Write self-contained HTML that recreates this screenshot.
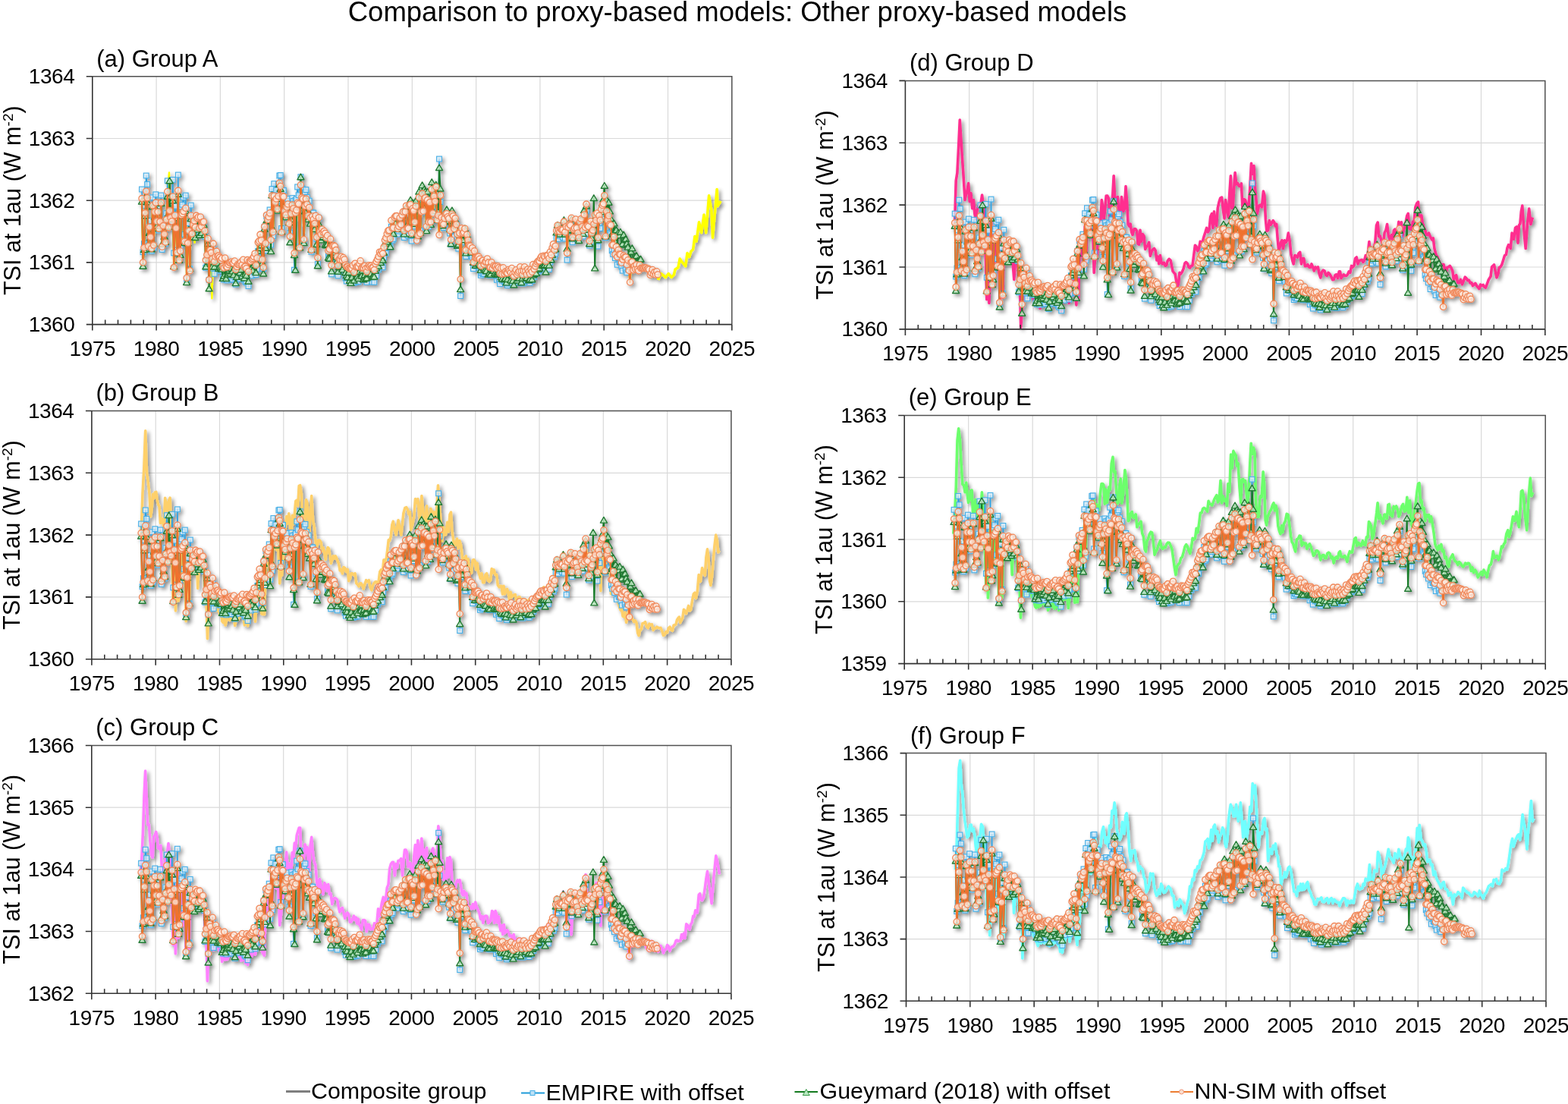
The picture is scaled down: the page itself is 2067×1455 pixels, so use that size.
<!DOCTYPE html>
<html><head><meta charset="utf-8"><title>Comparison to proxy-based models</title>
<style>
html,body{margin:0;padding:0;background:#fff;}
body{width:2067px;height:1455px;overflow:hidden;}
svg{display:block;}
text{font-family:'Liberation Sans', Arial, sans-serif;fill:#000;}
.tk{font-size:28px;letter-spacing:-0.45px;}
.pl{font-size:31px;}
.yl{font-size:30.6px;}
.lg{font-size:30.4px;}
.tt{font-size:36.5px;}
</style></head><body>
<svg width="2067" height="1455" viewBox="0 0 2067 1455">
<defs>
<filter id="sh" x="-5%" y="-5%" width="110%" height="110%"><feDropShadow dx="3" dy="3" stdDeviation="2.4" flood-color="#000" flood-opacity="0.45"/></filter>
<marker id="mS" markerUnits="userSpaceOnUse" markerWidth="10" markerHeight="10" refX="5" refY="5" overflow="visible"><rect x="1.6" y="1.6" width="6.8" height="6.8" fill="#d5ebf8" fill-opacity="0.75" stroke="#45aee6" stroke-width="1.1"/></marker>
<marker id="mT" markerUnits="userSpaceOnUse" markerWidth="10" markerHeight="10" refX="5" refY="5" overflow="visible"><path d="M5 0.9L9.5 8.6H0.5Z" fill="#c4eec8" fill-opacity="0.8" stroke="#247a34" stroke-width="1.4" stroke-linejoin="round"/></marker>
<marker id="mC" markerUnits="userSpaceOnUse" markerWidth="10" markerHeight="10" refX="5" refY="5" overflow="visible"><circle cx="5" cy="5" r="4.1" fill="#fcece3" fill-opacity="0.75" stroke="#f0885a" stroke-width="1.3"/></marker>
</defs>
<rect width="2067" height="1455" fill="#fff"/>
<text x="972" y="27.5" text-anchor="middle" class="tt">Comparison to proxy-based models: Other proxy-based models</text>
<path d="M206.1 100.8V427.6M290.4 100.8V427.6M374.7 100.8V427.6M459 100.8V427.6M543.3 100.8V427.6M627.6 100.8V427.6M711.9 100.8V427.6M796.2 100.8V427.6M880.5 100.8V427.6M121.8 345.9H964.8M121.8 264.2H964.8M121.8 182.5H964.8" stroke="#d9d9d9" stroke-width="1.2" fill="none"/>
<g filter="url(#sh)">
<polyline points="187.0,261.6 188.5,345.9 189.9,326.4 191.3,280.6 192.7,251.9 194.1,260.8 195.5,324.3 196.9,299.1 198.3,312.4 199.7,327.4 201.1,270.9 202.5,323.1 203.9,279.2 205.3,267.1 206.7,291.7 208.1,279.2 209.5,301.4 210.9,292.1 212.3,267.1 213.7,325.2 215.1,297.6 216.6,308.6 218.0,319.4 219.4,289.2 220.8,252.5 223.0,227.4 225.0,286.9 226.4,291.7 227.8,258.9 229.2,352.4 230.6,283.7 232.0,300.7 233.4,332.8 234.8,251.1 236.2,342.8 237.6,330.8 239.0,283.5 240.4,281.7 241.8,278.6 243.2,318.3 244.7,274.2 246.1,366.3 247.5,320.4 248.9,304.1 250.3,356.7 251.7,284.0 253.1,308.1 254.5,296.0 256.7,319.8 258.7,284.1 260.1,287.6 261.5,286.0 262.9,300.6 264.3,285.9 265.7,298.6 267.1,292.8 268.5,292.2 269.9,304.3 271.3,342.7 272.8,335.9 274.2,314.4 275.6,368.8 277.0,329.5 278.4,333.1 279.4,393.3 281.2,321.1 282.6,344.8 284.0,338.2 285.4,331.1 286.8,337.4 288.2,337.0 289.6,339.1 291.0,342.7 292.4,340.4 293.8,350.9 295.2,353.1 296.6,339.9 298.0,350.9 299.4,352.1 300.9,348.5 302.3,346.1 303.7,346.2 305.1,345.0 306.5,346.8 307.9,346.8 309.3,344.0 310.7,355.4 312.1,351.4 313.5,348.3 314.9,348.6 316.3,347.2 317.7,345.3 319.1,349.1 320.5,342.3 321.9,352.0 323.3,351.1 324.7,353.7 326.1,342.6 327.5,357.9 329.0,344.2 330.4,344.2 331.8,341.9 333.2,340.5 334.6,338.4 336.0,334.2 337.4,349.6 338.8,340.0 340.2,319.3 341.6,317.7 343.0,309.1 344.4,316.7 345.8,342.0 347.2,352.4 348.6,298.7 350.0,320.8 351.4,283.4 352.8,289.5 354.2,285.7 355.6,280.8 357.1,316.2 358.5,258.0 359.9,305.7 361.3,258.2 362.7,266.4 364.1,262.0 365.5,275.6 366.9,258.5 368.3,241.3 369.7,245.5 371.1,306.3 372.5,258.2 373.9,259.2 375.3,278.1 376.7,283.2 378.1,273.1 379.5,269.0 380.9,294.7 382.3,311.6 383.7,281.5 385.2,269.9 386.6,274.9 388.0,333.6 389.4,280.5 390.8,276.9 392.2,267.2 393.6,268.8 395.0,326.5 396.4,243.8 397.8,260.3 399.2,262.0 400.6,315.5 402.0,271.6 403.4,262.1 404.8,269.2 406.2,284.3 407.6,273.4 409.0,287.0 410.4,329.6 411.8,285.0 413.3,289.0 414.7,294.6 416.1,284.2 417.5,312.6 418.9,339.7 420.3,286.8 421.7,305.4 423.1,308.8 424.5,302.0 425.9,306.1 427.3,304.5 428.7,307.4 430.1,313.4 431.5,310.5 432.9,330.7 434.3,328.4 435.7,315.0 437.1,349.6 438.5,324.4 439.9,323.6 441.4,324.5 442.8,329.6 444.2,338.1 445.6,350.1 447.0,341.9 448.4,342.3 449.8,338.2 451.2,342.9 452.6,339.5 454.0,342.0 455.4,349.3 456.8,351.6 458.2,351.7 459.6,353.6 461.0,354.3 462.4,353.7 463.8,353.8 465.2,349.8 466.6,358.8 468.0,347.2 469.5,351.8 470.9,351.2 472.3,351.5 473.7,347.5 475.1,343.8 476.5,353.1 477.9,353.1 479.3,353.4 480.7,350.4 482.1,354.1 483.5,358.1 484.9,352.1 486.3,349.7 487.7,351.2 489.1,350.1 490.5,352.4 491.9,352.4 493.3,355.7 494.7,347.5 496.1,344.6 497.6,341.6 499.0,338.1 500.4,332.2 501.8,334.4 503.2,331.4 504.6,334.1 506.0,325.7 507.4,316.6 508.8,313.4 510.2,308.1 511.6,304.1 513.0,303.5 514.4,314.8 515.8,290.5 517.2,301.0 518.6,300.3 520.0,286.5 521.4,284.8 522.8,284.6 524.2,301.3 525.7,298.3 527.1,287.0 528.5,295.9 529.9,283.3 531.3,279.1 532.7,303.8 534.1,279.0 535.5,271.2 536.9,301.1 538.3,300.9 539.7,270.0 541.1,269.5 542.5,307.2 543.9,274.8 545.3,277.8 546.7,292.8 548.1,271.7 549.5,317.0 550.9,310.3 552.3,260.2 553.8,307.7 555.2,279.3 556.6,255.1 558.0,278.2 559.4,261.4 560.8,260.8 562.2,298.3 563.6,263.4 565.0,292.6 566.4,266.7 567.8,292.6 569.2,249.4 570.6,281.0 572.0,258.7 573.4,265.4 574.8,246.2 576.2,289.7 577.6,283.8 579.0,309.6 580.4,257.3 581.9,286.8 583.3,293.4 584.7,295.6 586.1,287.7 587.5,282.1 588.9,281.4 590.3,285.7 591.7,288.0 593.1,303.9 594.5,315.9 595.9,282.2 597.3,284.7 598.7,301.5 600.1,287.6 601.5,295.8 602.9,308.8 604.3,317.9 605.7,307.1 607.1,368.0 608.5,300.7 610.0,307.4 611.4,306.1 612.8,301.2 614.2,329.7 615.6,309.3 617.0,316.5 618.4,323.1 619.8,324.3 621.2,331.2 622.6,326.7 624.0,345.6 625.4,330.8 626.8,339.8 628.2,339.6 629.6,338.7 631.0,338.1 632.4,341.3 633.8,350.4 635.2,343.8 636.6,343.3 638.1,348.4 639.5,345.2 640.9,345.0 642.3,340.9 643.7,346.1 645.1,352.1 646.5,352.4 647.9,345.7 649.3,353.4 650.7,350.0 652.1,351.1 653.5,351.0 654.9,353.9 656.3,350.8 657.7,352.6 659.1,360.3 660.5,353.5 661.9,361.3 663.3,352.8 664.7,360.6 666.2,358.1 667.6,359.8 669.0,359.9 670.4,355.4 671.8,357.3 673.2,359.4 674.6,353.5 676.0,361.3 677.4,364.1 678.8,358.8 680.2,355.8 681.6,361.9 683.0,359.2 684.4,357.6 685.8,351.7 687.2,357.5 688.6,362.0 690.0,357.1 691.4,351.7 692.8,357.5 694.3,361.7 695.7,354.9 697.1,358.0 698.5,361.0 699.9,355.0 701.3,358.2 702.7,348.5 704.1,354.6 705.5,350.8 706.9,347.5 708.3,345.3 709.7,343.9 711.1,344.1 712.5,340.1 713.9,337.9 715.3,341.5 716.7,337.3 718.1,338.3 719.5,344.3 720.9,336.6 722.4,336.2 723.8,340.5 725.2,332.0 726.6,335.8 728.0,326.5 729.4,321.7 730.8,329.5 732.2,324.3 733.6,304.0 735.0,296.9 736.4,303.4 737.8,305.3 739.2,302.0 740.6,303.1 742.0,302.8 743.4,292.1 744.8,305.9 746.2,298.8 747.6,333.6 749.0,299.5 750.5,295.7 751.9,296.9 753.3,287.3 754.7,312.7 756.1,302.3 757.5,300.6 758.9,288.9 760.3,300.4 761.7,307.0 763.1,313.3 764.5,292.4 765.9,288.4 767.3,298.6 768.7,303.4 770.1,282.9 771.5,299.5 772.9,269.1 774.3,297.5 775.7,298.5 777.1,317.6 778.6,291.6 780.0,307.1 781.4,303.4 782.8,295.4 784.2,283.3 785.6,290.3 787.0,281.0 788.4,313.0 789.8,284.3 791.2,290.2 792.6,275.9 794.0,270.5 795.4,268.5 796.8,257.7 798.2,311.5 799.6,278.3 801.0,290.2 802.4,284.2 803.8,295.5 805.2,296.7 806.7,323.0 808.1,322.8 809.5,312.3 810.9,335.4 812.3,325.3 813.7,338.6 815.1,329.5 816.5,334.9 817.9,335.4 819.3,346.2 820.7,341.8 822.1,336.8 823.5,338.8 824.9,338.9 826.3,348.9 827.7,342.8 829.1,356.5 830.5,372.0 831.9,345.9 833.3,345.0 834.8,355.9 836.2,350.6 837.6,354.6 839.0,348.9 840.4,354.7 841.8,356.9 843.2,349.3 844.6,353.5 846.0,353.2 847.4,353.6 848.8,353.3 850.2,352.7 851.6,353.0 853.0,354.4 854.4,353.9 855.8,355.2 857.2,362.4 858.6,359.8 860.0,355.4 861.4,361.3 862.9,358.6 864.3,362.0 865.7,357.8 867.5,368.8" fill="none" stroke="#ffff00" stroke-width="2.4" stroke-linejoin="round"/>
<polyline points="867.5,368.8 871.4,360.6 877.5,365.5 881.3,360.6 885.1,365.5 888.4,362.2 890.1,354.9 894.0,352.4 896.2,341.0 899.4,345.9 903.8,350.8 906.0,333.6 908.8,338.5 911.0,331.2 913.7,328.7 915.9,311.6 918.1,318.1 921.5,292.8 924.7,306.7 928.0,283.0 930.7,306.7 934.6,257.7 937.8,276.5 939.5,313.2 942.9,274.0 945.1,249.5 946.1,271.6 950.0,265.0" fill="none" stroke="#ffff00" stroke-width="3.6" stroke-linejoin="round"/>
<polyline points="187.0,249.5 188.5,332.2 189.9,321.1 191.3,271.2 192.7,231.5 194.1,242.9 195.5,323.5 196.9,291.1 198.3,304.2 199.7,330.9 201.1,260.3 202.5,326.4 203.9,273.3 205.3,256.3 206.7,292.1 208.1,271.3 209.5,303.5 210.9,292.8 212.3,257.5 213.7,329.0 215.1,293.1 216.6,309.2 218.0,321.3 219.4,281.1 220.8,238.3 222.2,291.0 223.6,267.0 225.0,275.7 226.4,286.4 227.8,236.9 229.2,333.4 230.6,271.7 232.0,287.4 233.4,329.7 234.8,230.5 236.2,340.4 237.6,326.6 239.0,272.5 240.4,269.8 241.8,260.3 243.2,308.9 244.7,257.6 246.1,367.8 247.5,312.6 248.9,294.2 250.3,354.3 251.7,270.6 253.1,306.8 254.5,295.4 255.9,294.7 257.3,303.6 258.7,293.2 260.1,289.1 261.5,290.2 262.9,308.7 264.3,287.8 265.7,304.0 267.1,299.0 268.5,298.4 269.9,311.9 271.3,352.8 272.8,348.4 274.2,320.9 275.6,368.8 277.0,337.0 278.4,338.6 279.8,353.5 281.2,327.1 282.6,360.9 284.0,348.7 285.4,339.3 286.8,345.1 288.2,351.5 289.6,349.6 291.0,356.5 292.4,356.7 293.8,366.0 295.2,368.7 296.6,358.0 298.0,367.5 299.4,369.4 300.9,364.8 302.3,360.4 303.7,366.1 305.1,368.6 306.5,368.1 307.9,362.4 309.3,365.7 310.7,374.7 312.1,366.1 313.5,367.0 314.9,365.9 316.3,367.8 317.7,361.7 319.1,362.1 320.5,360.9 321.9,368.5 323.3,371.0 324.7,372.5 326.1,359.3 327.5,377.1 329.0,361.3 330.4,356.4 331.8,363.4 333.2,356.6 334.6,358.4 336.0,350.5 337.4,362.2 338.8,354.5 340.2,330.9 341.6,332.3 343.0,319.2 344.4,326.2 345.8,353.9 347.2,354.1 348.6,298.8 350.0,330.2 351.4,285.1 352.8,287.1 354.2,284.7 355.6,276.5 357.1,322.6 358.5,249.1 359.9,311.1 361.3,242.1 362.7,262.2 364.1,250.6 365.5,265.5 366.9,242.9 368.3,231.5 369.7,230.9 371.1,301.0 372.5,250.6 373.9,251.0 375.3,273.6 376.7,276.8 378.1,264.8 379.5,262.0 380.9,290.5 382.3,306.6 383.7,279.0 385.2,261.1 386.6,265.0 388.0,355.7 389.4,263.9 390.8,261.9 392.2,246.4 393.6,257.2 395.0,325.3 396.4,233.2 397.8,247.6 399.2,249.4 400.6,317.3 402.0,253.5 403.4,250.1 404.8,259.9 406.2,275.3 407.6,264.6 409.0,280.3 410.4,331.8 411.8,280.5 413.3,280.5 414.7,293.2 416.1,287.9 417.5,315.1 418.9,348.0 420.3,287.2 421.7,306.7 423.1,308.8 424.5,310.3 425.9,309.4 427.3,310.7 428.7,312.1 430.1,319.8 431.5,313.6 432.9,336.9 434.3,334.5 435.7,320.1 437.1,361.4 438.5,333.3 439.9,333.7 441.4,325.0 442.8,338.9 444.2,346.4 445.6,363.4 447.0,351.6 448.4,356.5 449.8,352.1 451.2,356.0 452.6,352.0 454.0,357.5 455.4,366.5 456.8,370.6 458.2,366.5 459.6,366.3 461.0,367.0 462.4,366.4 463.8,368.3 465.2,367.0 466.6,372.8 468.0,362.9 469.5,371.9 470.9,368.9 472.3,371.3 473.7,358.4 475.1,359.3 476.5,364.7 477.9,367.6 479.3,369.1 480.7,365.3 482.1,363.0 483.5,371.9 484.9,365.4 486.3,364.7 487.7,367.2 489.1,363.7 490.5,371.6 491.9,366.0 493.3,371.9 494.7,358.8 496.1,363.3 497.6,354.7 499.0,355.2 500.4,347.6 501.8,348.0 503.2,348.6 504.6,352.3 506.0,339.3 507.4,331.1 508.8,333.7 510.2,325.9 511.6,315.9 513.0,319.0 514.4,325.4 515.8,298.8 517.2,316.7 518.6,314.9 520.0,293.7 521.4,293.8 522.8,289.4 524.2,308.6 525.7,304.6 527.1,296.4 528.5,301.4 529.9,293.3 531.3,291.4 532.7,313.1 534.1,287.4 535.5,283.0 536.9,309.4 538.3,310.7 539.7,275.5 541.1,272.6 542.5,317.6 543.9,279.3 545.3,284.5 546.7,298.3 548.1,273.1 549.5,316.5 550.9,311.8 552.3,262.9 553.8,304.0 555.2,279.7 556.6,261.0 558.0,279.7 559.4,259.5 560.8,262.7 562.2,299.3 563.6,263.8 565.0,298.9 566.4,263.8 567.8,294.9 569.2,256.0 570.6,279.4 572.0,261.5 573.4,266.5 574.8,256.0 576.2,290.6 577.6,283.3 579.0,209.5 580.4,266.0 581.9,292.0 583.3,296.7 584.7,300.2 586.1,295.2 587.5,281.6 588.9,288.1 590.3,287.4 591.7,292.0 593.1,307.6 594.5,322.1 595.9,281.8 597.3,293.9 598.7,311.9 600.1,293.2 601.5,294.8 602.9,314.2 604.3,327.7 605.7,317.7 607.1,390.0 608.5,308.3 610.0,319.2 611.4,314.9 612.8,308.0 614.2,338.0 615.6,314.6 617.0,328.2 618.4,332.8 619.8,334.5 621.2,337.2 622.6,339.3 624.0,354.2 625.4,338.6 626.8,348.3 628.2,350.7 629.6,350.5 631.0,347.5 632.4,352.8 633.8,362.7 635.2,359.9 636.6,360.9 638.1,360.7 639.5,357.8 640.9,354.8 642.3,349.1 643.7,356.9 645.1,362.5 646.5,362.9 647.9,352.3 649.3,363.0 650.7,360.7 652.1,362.7 653.5,360.4 654.9,368.8 656.3,363.9 657.7,367.2 659.1,374.2 660.5,360.3 661.9,369.5 663.3,360.5 664.7,371.2 666.2,371.6 667.6,372.9 669.0,376.1 670.4,373.7 671.8,368.0 673.2,372.9 674.6,366.4 676.0,368.9 677.4,373.5 678.8,368.9 680.2,370.7 681.6,372.2 683.0,373.1 684.4,371.7 685.8,367.0 687.2,370.0 688.6,367.5 690.0,373.6 691.4,364.3 692.8,370.4 694.3,370.2 695.7,367.6 697.1,368.6 698.5,372.8 699.9,369.9 701.3,369.9 702.7,362.3 704.1,364.9 705.5,358.9 706.9,360.8 708.3,356.1 709.7,357.8 711.1,356.2 712.5,351.9 713.9,346.3 715.3,349.0 716.7,348.4 718.1,351.0 719.5,355.0 720.9,344.6 722.4,342.6 723.8,355.0 725.2,345.6 726.6,342.4 728.0,335.3 729.4,326.5 730.8,338.5 732.2,334.5 733.6,314.5 735.0,303.7 736.4,315.1 737.8,310.8 739.2,306.8 740.6,309.3 742.0,313.1 743.4,298.1 744.8,314.6 746.2,306.4 747.6,342.6 749.0,303.4 750.5,306.7 751.9,304.4 753.3,295.8 754.7,319.2 756.1,313.4 757.5,313.0 758.9,298.1 760.3,304.9 761.7,315.9 763.1,316.9 764.5,303.2 765.9,295.9 767.3,304.9 768.7,311.6 770.1,292.9 771.5,307.8 772.9,278.0 774.3,307.9 775.7,302.2 777.1,323.6 778.6,298.9 780.0,318.7 781.4,310.8 782.8,306.1 784.2,296.8 785.6,297.0 787.0,290.3 788.4,324.6 789.8,295.5 791.2,301.0 792.6,288.3 794.0,285.2 795.4,281.3 796.8,260.1 798.2,313.2 799.6,281.1 801.0,296.1 802.4,294.8 803.8,306.9 805.2,308.4 806.7,330.3 808.1,334.9 809.5,329.2 810.9,340.1 812.3,334.0 813.7,348.8 815.1,333.4 816.5,345.5 817.9,346.1 819.3,351.4 820.7,356.7 822.1,342.2 823.5,347.3 824.9,355.4 826.3,359.3 827.7,355.0" fill="none" stroke="#2b9fe0" stroke-width="1.5" stroke-linejoin="round" marker-start="url(#mS)" marker-mid="url(#mS)" marker-end="url(#mS)"/>
<polyline points="187.0,265.5 188.5,350.6 189.9,329.0 191.3,284.1 192.7,257.7 194.1,266.2 195.5,322.5 196.9,306.7 198.3,313.2 199.7,328.2 201.1,272.3 202.5,320.7 203.9,285.9 205.3,274.4 206.7,297.8 208.1,283.8 209.5,301.0 210.9,297.6 212.3,268.0 213.7,321.6 215.1,301.4 216.6,311.6 218.0,318.8 219.4,286.3 220.8,258.7 222.2,298.4 223.6,238.1 225.0,288.9 226.4,288.6 227.8,264.0 229.2,350.9 230.6,287.2 232.0,298.3 233.4,333.4 234.8,255.6 236.2,342.7 237.6,335.8 239.0,284.3 240.4,280.5 241.8,280.8 243.2,319.9 244.7,277.9 246.1,372.0 247.5,320.2 248.9,302.8 250.3,354.0 251.7,288.3 253.1,312.0 254.5,301.0 255.9,292.5 257.3,312.9 258.7,295.5 260.1,302.5 261.5,292.0 262.9,309.7 264.3,291.3 265.7,306.8 267.1,301.1 268.5,296.1 269.9,309.4 271.3,351.2 272.8,337.4 274.2,320.9 275.6,380.2 277.0,337.9 278.4,345.1 279.8,351.1 281.2,331.7 282.6,351.4 284.0,342.1 285.4,340.2 286.8,346.5 288.2,353.9 289.6,351.6 291.0,353.2 292.4,354.6 293.8,366.7 295.2,363.6 296.6,349.7 298.0,366.9 299.4,361.6 300.9,361.5 302.3,356.1 303.7,360.3 305.1,353.7 306.5,357.4 307.9,362.3 309.3,352.3 310.7,373.0 312.1,364.8 313.5,352.4 314.9,354.8 316.3,359.0 317.7,355.2 319.1,363.8 320.5,348.6 321.9,366.4 323.3,360.8 324.7,362.8 326.1,354.3 327.5,370.6 329.0,356.0 330.4,354.5 331.8,351.5 333.2,356.3 334.6,348.5 336.0,345.9 337.4,359.0 338.8,347.3 340.2,330.4 341.6,326.9 343.0,319.9 344.4,323.1 345.8,346.6 347.2,360.4 348.6,301.6 350.0,326.6 351.4,290.5 352.8,291.3 354.2,289.6 355.6,290.9 357.1,331.0 358.5,257.1 359.9,302.2 361.3,273.0 362.7,272.3 364.1,270.6 365.5,277.5 366.9,261.6 368.3,242.8 369.7,248.7 371.1,305.1 372.5,269.4 373.9,271.9 375.3,283.6 376.7,286.0 378.1,275.9 379.5,276.5 380.9,293.1 382.3,319.2 383.7,288.9 385.2,270.3 386.6,275.9 388.0,336.0 389.4,355.7 390.8,276.8 392.2,272.9 393.6,270.7 395.0,326.2 396.4,233.2 397.8,265.4 399.2,264.3 400.6,320.0 402.0,278.3 403.4,263.0 404.8,272.4 406.2,288.8 407.6,280.8 409.0,294.5 410.4,328.7 411.8,288.0 413.3,296.8 414.7,301.8 416.1,294.2 417.5,321.9 418.9,350.1 420.3,294.7 421.7,313.7 423.1,316.3 424.5,312.6 425.9,312.1 427.3,309.1 428.7,322.5 430.1,323.2 431.5,321.8 432.9,339.4 434.3,340.6 435.7,320.9 437.1,357.3 438.5,332.4 439.9,329.3 441.4,329.4 442.8,338.4 444.2,344.1 445.6,357.6 447.0,352.0 448.4,351.9 449.8,351.1 451.2,355.0 452.6,345.4 454.0,346.5 455.4,359.2 456.8,362.9 458.2,365.2 459.6,358.9 461.0,369.6 462.4,372.8 463.8,365.4 465.2,354.4 466.6,369.4 468.0,355.8 469.5,358.9 470.9,364.4 472.3,366.9 473.7,357.5 475.1,352.5 476.5,363.4 477.9,356.3 479.3,368.2 480.7,362.1 482.1,366.8 483.5,366.3 484.9,361.1 486.3,359.4 487.7,360.3 489.1,360.8 490.5,365.0 491.9,364.0 493.3,364.5 494.7,356.8 496.1,353.3 497.6,349.9 499.0,350.5 500.4,343.0 501.8,345.9 503.2,340.2 504.6,342.7 506.0,332.6 507.4,320.6 508.8,320.9 510.2,318.5 511.6,315.2 513.0,311.6 514.4,325.1 515.8,303.5 517.2,305.8 518.6,307.9 520.0,292.8 521.4,294.1 522.8,286.9 524.2,301.7 525.7,297.8 527.1,286.2 528.5,301.9 529.9,283.8 531.3,279.2 532.7,308.3 534.1,276.3 535.5,272.9 536.9,295.9 538.3,298.3 539.7,272.1 541.1,263.4 542.5,309.3 543.9,267.1 545.3,278.5 546.7,294.9 548.1,264.7 549.5,308.9 550.9,311.2 552.3,252.4 553.8,306.5 555.2,276.7 556.6,244.0 558.0,272.1 559.4,249.1 560.8,251.9 562.2,304.0 563.6,252.4 565.0,288.9 566.4,261.4 567.8,295.8 569.2,239.9 570.6,278.0 572.0,254.8 573.4,261.4 574.8,243.4 576.2,290.0 577.6,278.7 579.0,220.9 580.4,248.4 581.9,288.2 583.3,297.1 584.7,291.3 586.1,292.2 587.5,279.6 588.9,275.9 590.3,289.6 591.7,290.9 593.1,302.0 594.5,321.2 595.9,277.3 597.3,284.1 598.7,302.2 600.1,289.1 601.5,297.4 602.9,323.7 604.3,322.2 605.7,313.5 607.1,381.0 608.5,305.2 610.0,316.2 611.4,306.2 612.8,301.2 614.2,333.3 615.6,309.6 617.0,317.7 618.4,328.0 619.8,327.3 621.2,332.5 622.6,329.5 624.0,345.8 625.4,341.4 626.8,349.6 628.2,347.2 629.6,344.1 631.0,347.2 632.4,349.2 633.8,355.8 635.2,350.9 636.6,351.6 638.1,353.6 639.5,355.4 640.9,357.1 642.3,345.1 643.7,361.4 645.1,359.6 646.5,361.5 647.9,354.8 649.3,356.7 650.7,356.5 652.1,359.9 653.5,361.5 654.9,361.9 656.3,361.0 657.7,359.1 659.1,361.1 660.5,365.1 661.9,367.4 663.3,360.4 664.7,368.1 666.2,366.8 667.6,372.3 669.0,367.8 670.4,360.3 671.8,361.5 673.2,369.3 674.6,362.9 676.0,369.8 677.4,375.4 678.8,361.2 680.2,363.7 681.6,369.4 683.0,366.4 684.4,366.6 685.8,360.2 687.2,372.1 688.6,366.6 690.0,361.6 691.4,356.5 692.8,364.3 694.3,366.1 695.7,360.6 697.1,369.1 698.5,367.9 699.9,360.5 701.3,368.1 702.7,362.5 704.1,361.1 705.5,359.1 706.9,360.0 708.3,354.2 709.7,354.8 711.1,353.4 712.5,345.0 713.9,343.9 715.3,349.6 716.7,350.0 718.1,349.2 719.5,358.4 720.9,349.0 722.4,342.6 723.8,349.5 725.2,339.7 726.6,342.1 728.0,336.0 729.4,329.6 730.8,326.9 732.2,328.1 733.6,306.3 735.0,296.6 736.4,300.7 737.8,308.6 739.2,303.4 740.6,300.8 742.0,304.6 743.4,289.9 744.8,308.6 746.2,301.1 747.6,327.6 749.0,304.3 750.5,296.9 751.9,302.6 753.3,288.9 754.7,314.2 756.1,299.4 757.5,303.6 758.9,296.8 760.3,296.8 761.7,310.6 763.1,316.9 764.5,294.2 765.9,288.9 767.3,298.5 768.7,307.8 770.1,276.8 771.5,301.3 772.9,271.4 774.3,302.7 775.7,295.9 777.1,321.1 778.6,297.3 780.0,313.4 781.4,305.4 782.8,260.9 784.2,353.3 785.6,292.7 787.0,284.7 788.4,316.1 789.8,283.9 791.2,288.6 792.6,279.0 794.0,267.9 795.4,262.5 796.8,244.6 798.2,311.2 799.6,263.0 801.0,281.8 802.4,266.6 803.8,278.3 805.2,287.9 806.7,308.2 808.1,308.8 809.5,294.3 810.9,318.0 812.3,303.0 813.7,322.8 815.1,306.4 816.5,310.1 817.9,305.6 819.3,322.7 820.7,321.1 822.1,309.3 823.5,316.0 824.9,314.7 826.3,320.7 827.7,325.5 829.1,339.3 830.5,351.5 831.9,331.7 833.3,327.0 834.8,342.4 836.2,337.9 837.6,338.2 839.0,336.8 840.4,343.7 841.8,344.0 843.2,342.0 844.6,341.4" fill="none" stroke="#167a28" stroke-width="2" stroke-linejoin="round" marker-start="url(#mT)" marker-mid="url(#mT)" marker-end="url(#mT)"/>
<polyline points="187.0,261.6 188.5,345.9 189.9,326.4 191.3,280.6 192.7,251.9 194.1,260.8 195.5,324.3 196.9,299.1 198.3,312.4 199.7,327.4 201.1,270.9 202.5,323.1 203.9,279.2 205.3,267.1 206.7,291.7 208.1,279.2 209.5,301.4 210.9,292.1 212.3,267.1 213.7,325.2 215.1,297.6 216.6,308.6 218.0,319.4 219.4,289.2 220.8,252.5 222.2,299.9 223.6,277.6 225.0,286.9 226.4,291.7 227.8,258.9 229.2,352.4 230.6,283.7 232.0,300.7 233.4,332.8 234.8,251.1 236.2,342.8 237.6,330.8 239.0,283.5 240.4,281.7 241.8,278.6 243.2,318.3 244.7,274.2 246.1,366.3 247.5,320.4 248.9,304.1 250.3,356.7 251.7,284.0 253.1,308.1 254.5,296.0 255.9,290.9 257.3,299.4 258.7,284.1 260.1,287.6 261.5,286.0 262.9,300.6 264.3,285.9 265.7,298.6 267.1,292.8 268.5,292.2 269.9,304.3 271.3,342.7 272.8,335.9 274.2,314.4 275.6,368.8 277.0,329.5 278.4,333.1 279.8,341.2 281.2,321.1 282.6,344.8 284.0,338.2 285.4,331.1 286.8,337.4 288.2,337.0 289.6,339.1 291.0,342.7 292.4,340.4 293.8,350.9 295.2,353.1 296.6,339.9 298.0,350.9 299.4,352.1 300.9,348.5 302.3,346.1 303.7,346.2 305.1,345.0 306.5,346.8 307.9,346.8 309.3,344.0 310.7,355.4 312.1,351.4 313.5,348.3 314.9,348.6 316.3,347.2 317.7,345.3 319.1,349.1 320.5,342.3 321.9,352.0 323.3,351.1 324.7,353.7 326.1,342.6 327.5,357.9 329.0,344.2 330.4,344.2 331.8,341.9 333.2,340.5 334.6,338.4 336.0,334.2 337.4,349.6 338.8,340.0 340.2,319.3 341.6,317.7 343.0,309.1 344.4,316.7 345.8,342.0 347.2,352.4 348.6,298.7 350.0,320.8 351.4,283.4 352.8,289.5 354.2,285.7 355.6,280.8 357.1,316.2 358.5,258.0 359.9,305.7 361.3,258.2 362.7,266.4 364.1,262.0 365.5,275.6 366.9,258.5 368.3,241.3 369.7,245.5 371.1,306.3 372.5,258.2 373.9,259.2 375.3,278.1 376.7,283.2 378.1,273.1 379.5,269.0 380.9,294.7 382.3,311.6 383.7,281.5 385.2,269.9 386.6,274.9 388.0,333.6 389.4,280.5 390.8,276.9 392.2,267.2 393.6,268.8 395.0,326.5 396.4,243.8 397.8,260.3 399.2,262.0 400.6,315.5 402.0,271.6 403.4,262.1 404.8,269.2 406.2,284.3 407.6,273.4 409.0,287.0 410.4,329.6 411.8,285.0 413.3,289.0 414.7,294.6 416.1,284.2 417.5,312.6 418.9,339.7 420.3,286.8 421.7,305.4 423.1,308.8 424.5,302.0 425.9,306.1 427.3,304.5 428.7,307.4 430.1,313.4 431.5,310.5 432.9,330.7 434.3,328.4 435.7,315.0 437.1,349.6 438.5,324.4 439.9,323.6 441.4,324.5 442.8,329.6 444.2,338.1 445.6,350.1 447.0,341.9 448.4,342.3 449.8,338.2 451.2,342.9 452.6,339.5 454.0,342.0 455.4,349.3 456.8,351.6 458.2,351.7 459.6,353.6 461.0,354.3 462.4,353.7 463.8,353.8 465.2,349.8 466.6,358.8 468.0,347.2 469.5,351.8 470.9,351.2 472.3,351.5 473.7,347.5 475.1,343.8 476.5,353.1 477.9,353.1 479.3,353.4 480.7,350.4 482.1,354.1 483.5,358.1 484.9,352.1 486.3,349.7 487.7,351.2 489.1,350.1 490.5,352.4 491.9,352.4 493.3,355.7 494.7,347.5 496.1,344.6 497.6,341.6 499.0,338.1 500.4,332.2 501.8,334.4 503.2,331.4 504.6,334.1 506.0,325.7 507.4,316.6 508.8,313.4 510.2,308.1 511.6,304.1 513.0,303.5 514.4,314.8 515.8,290.5 517.2,301.0 518.6,300.3 520.0,286.5 521.4,284.8 522.8,284.6 524.2,301.3 525.7,298.3 527.1,287.0 528.5,295.9 529.9,283.3 531.3,279.1 532.7,303.8 534.1,279.0 535.5,271.2 536.9,301.1 538.3,300.9 539.7,270.0 541.1,269.5 542.5,307.2 543.9,274.8 545.3,277.8 546.7,292.8 548.1,271.7 549.5,317.0 550.9,310.3 552.3,260.2 553.8,307.7 555.2,279.3 556.6,255.1 558.0,278.2 559.4,261.4 560.8,260.8 562.2,298.3 563.6,263.4 565.0,292.6 566.4,266.7 567.8,292.6 569.2,249.4 570.6,281.0 572.0,258.7 573.4,265.4 574.8,246.2 576.2,289.7 577.6,283.8 579.0,309.6 580.4,257.3 581.9,286.8 583.3,293.4 584.7,295.6 586.1,287.7 587.5,282.1 588.9,281.4 590.3,285.7 591.7,288.0 593.1,303.9 594.5,315.9 595.9,282.2 597.3,284.7 598.7,301.5 600.1,287.6 601.5,295.8 602.9,308.8 604.3,317.9 605.7,307.1 607.1,368.0 608.5,300.7 610.0,307.4 611.4,306.1 612.8,301.2 614.2,329.7 615.6,309.3 617.0,316.5 618.4,323.1 619.8,324.3 621.2,331.2 622.6,326.7 624.0,345.6 625.4,330.8 626.8,339.8 628.2,339.6 629.6,338.7 631.0,338.1 632.4,341.3 633.8,350.4 635.2,343.8 636.6,343.3 638.1,348.4 639.5,345.2 640.9,345.0 642.3,340.9 643.7,346.1 645.1,352.1 646.5,352.4 647.9,345.7 649.3,353.4 650.7,350.0 652.1,351.1 653.5,351.0 654.9,353.9 656.3,350.8 657.7,352.6 659.1,360.3 660.5,353.5 661.9,361.3 663.3,352.8 664.7,360.6 666.2,358.1 667.6,359.8 669.0,359.9 670.4,355.4 671.8,357.3 673.2,359.4 674.6,353.5 676.0,361.3 677.4,364.1 678.8,358.8 680.2,355.8 681.6,361.9 683.0,359.2 684.4,357.6 685.8,351.7 687.2,357.5 688.6,362.0 690.0,357.1 691.4,351.7 692.8,357.5 694.3,361.7 695.7,354.9 697.1,358.0 698.5,361.0 699.9,355.0 701.3,358.2 702.7,348.5 704.1,354.6 705.5,350.8 706.9,347.5 708.3,345.3 709.7,343.9 711.1,344.1 712.5,340.1 713.9,337.9 715.3,341.5 716.7,337.3 718.1,338.3 719.5,344.3 720.9,336.6 722.4,336.2 723.8,340.5 725.2,332.0 726.6,335.8 728.0,326.5 729.4,321.7 730.8,329.5 732.2,324.3 733.6,304.0 735.0,296.9 736.4,303.4 737.8,305.3 739.2,302.0 740.6,303.1 742.0,302.8 743.4,292.1 744.8,305.9 746.2,298.8 747.6,333.6 749.0,299.5 750.5,295.7 751.9,296.9 753.3,287.3 754.7,312.7 756.1,302.3 757.5,300.6 758.9,288.9 760.3,300.4 761.7,307.0 763.1,313.3 764.5,292.4 765.9,288.4 767.3,298.6 768.7,303.4 770.1,282.9 771.5,299.5 772.9,269.1 774.3,297.5 775.7,298.5 777.1,317.6 778.6,291.6 780.0,307.1 781.4,303.4 782.8,295.4 784.2,283.3 785.6,290.3 787.0,281.0 788.4,313.0 789.8,284.3 791.2,290.2 792.6,275.9 794.0,270.5 795.4,268.5 796.8,257.7 798.2,311.5 799.6,278.3 801.0,290.2 802.4,284.2 803.8,295.5 805.2,296.7 806.7,323.0 808.1,322.8 809.5,312.3 810.9,335.4 812.3,325.3 813.7,338.6 815.1,329.5 816.5,334.9 817.9,335.4 819.3,346.2 820.7,341.8 822.1,336.8 823.5,338.8 824.9,338.9 826.3,348.9 827.7,342.8 829.1,356.5 830.5,372.0 831.9,345.9 833.3,345.0 834.8,355.9 836.2,350.6 837.6,354.6 839.0,348.9 840.4,354.7 841.8,356.9 843.2,349.3 844.6,353.5 846.0,353.2 847.4,353.6 848.8,353.3 850.2,352.7 851.6,353.0 853.0,354.4 854.4,353.9 855.8,355.2 857.2,362.4 858.6,359.8 860.0,355.4 861.4,361.3 862.9,358.6 864.3,362.0 865.7,357.8 867.1,361.9" fill="none" stroke="#ef722f" stroke-width="2.2" stroke-linejoin="round" marker-start="url(#mC)" marker-mid="url(#mC)" marker-end="url(#mC)"/>
</g>
<path d="M121.8 100.8H964.8V427.6" stroke="#505050" stroke-width="1.5" fill="none"/>
<path d="M121.8 100.8V427.6M121.8 427.6H964.8M113.8 427.6H121.8M113.8 345.9H121.8M113.8 264.2H121.8M113.8 182.5H121.8M113.8 100.8H121.8M121.8 427.6V435.6M138.7 421.6V427.6M155.5 421.6V427.6M172.4 421.6V427.6M189.2 421.6V427.6M206.1 427.6V435.6M223 421.6V427.6M239.8 421.6V427.6M256.7 421.6V427.6M273.5 421.6V427.6M290.4 427.6V435.6M307.3 421.6V427.6M324.1 421.6V427.6M341 421.6V427.6M357.8 421.6V427.6M374.7 427.6V435.6M391.6 421.6V427.6M408.4 421.6V427.6M425.3 421.6V427.6M442.1 421.6V427.6M459 427.6V435.6M475.9 421.6V427.6M492.7 421.6V427.6M509.6 421.6V427.6M526.4 421.6V427.6M543.3 427.6V435.6M560.2 421.6V427.6M577 421.6V427.6M593.9 421.6V427.6M610.7 421.6V427.6M627.6 427.6V435.6M644.5 421.6V427.6M661.3 421.6V427.6M678.2 421.6V427.6M695 421.6V427.6M711.9 427.6V435.6M728.8 421.6V427.6M745.6 421.6V427.6M762.5 421.6V427.6M779.3 421.6V427.6M796.2 427.6V435.6M813.1 421.6V427.6M829.9 421.6V427.6M846.8 421.6V427.6M863.6 421.6V427.6M880.5 427.6V435.6M897.4 421.6V427.6M914.2 421.6V427.6M931.1 421.6V427.6M947.9 421.6V427.6M964.8 427.6V435.6" stroke="#333" stroke-width="1.6" fill="none"/>
<text x="121.8" y="469.1" text-anchor="middle" class="tk">1975</text>
<text x="206.1" y="469.1" text-anchor="middle" class="tk">1980</text>
<text x="290.4" y="469.1" text-anchor="middle" class="tk">1985</text>
<text x="374.7" y="469.1" text-anchor="middle" class="tk">1990</text>
<text x="459" y="469.1" text-anchor="middle" class="tk">1995</text>
<text x="543.3" y="469.1" text-anchor="middle" class="tk">2000</text>
<text x="627.6" y="469.1" text-anchor="middle" class="tk">2005</text>
<text x="711.9" y="469.1" text-anchor="middle" class="tk">2010</text>
<text x="796.2" y="469.1" text-anchor="middle" class="tk">2015</text>
<text x="880.5" y="469.1" text-anchor="middle" class="tk">2020</text>
<text x="964.8" y="469.1" text-anchor="middle" class="tk">2025</text>
<text x="98.3" y="437.1" text-anchor="end" class="tk">1360</text>
<text x="98.3" y="355.4" text-anchor="end" class="tk">1361</text>
<text x="98.3" y="273.7" text-anchor="end" class="tk">1362</text>
<text x="98.3" y="192" text-anchor="end" class="tk">1363</text>
<text x="98.3" y="110.3" text-anchor="end" class="tk">1364</text>
<text x="127.3" y="87.7" class="pl">(a) Group A</text>
<text transform="translate(26.8 264.2) rotate(-90)" text-anchor="middle" class="yl">TSI at 1au (W m<tspan dy="-10" font-size="19">-2</tspan><tspan dy="10">)</tspan></text>
<path d="M205.2 541.5V868.7M289.5 541.5V868.7M373.8 541.5V868.7M458.1 541.5V868.7M542.4 541.5V868.7M626.7 541.5V868.7M711 541.5V868.7M795.3 541.5V868.7M879.6 541.5V868.7M120.9 786.9H963.9M120.9 705.1H963.9M120.9 623.3H963.9" stroke="#d9d9d9" stroke-width="1.2" fill="none"/>
<g filter="url(#sh)">
<polyline points="186.1,703.5 188.0,650.4 189.9,615.5 191.7,567.7 193.5,622.3 195.3,635.6 196.9,650.0 198.6,680.6 200.1,671.1 201.5,651.4 202.9,656.7 204.4,648.7 205.8,648.4 207.2,658.9 208.6,665.0 210.0,667.4 211.5,689.5 213.0,683.3 214.5,687.1 216.1,695.2 217.6,656.2 219.2,664.8 220.8,673.2 222.4,660.1 224.1,656.1 225.8,698.6 228.3,796.1 229.7,723.5 231.5,804.9 232.5,775.0 233.9,699.0 235.3,791.9 236.7,776.6 238.1,734.3 239.5,732.9 240.9,726.7 242.3,765.4 243.8,724.4 245.2,818.6 246.6,767.6 248.0,749.7 249.4,798.1 250.8,733.3 252.2,755.4 253.6,741.4 255.0,741.9 256.4,743.4 257.8,729.9 259.2,736.3 260.8,775.4 262.0,747.2 263.4,730.9 264.8,746.0 266.2,736.7 267.6,732.4 269.0,751.1 270.4,791.7 271.9,788.8 273.5,841.7 274.7,813.1 276.1,778.2 277.5,784.6 278.9,792.4 280.3,777.8 281.7,800.2 283.1,793.7 284.5,786.0 285.9,804.8 287.3,799.9 288.7,806.3 290.1,810.2 291.5,806.8 292.9,818.8 294.3,820.5 295.7,809.2 297.1,824.0 298.5,818.3 300.0,816.0 301.4,805.2 302.8,817.5 304.2,812.4 305.6,815.9 307.0,817.1 308.4,814.3 309.8,824.4 311.2,816.0 312.6,817.9 314.0,816.5 315.4,811.2 316.8,812.6 318.2,813.0 319.6,804.8 321.0,814.3 322.4,824.0 323.8,815.9 325.2,810.6 326.6,824.9 328.1,813.1 329.5,812.8 330.9,805.0 332.3,805.0 333.7,804.3 335.1,798.8 336.5,819.1 337.9,800.0 339.3,788.3 340.7,779.8 342.1,774.5 343.5,778.4 344.9,809.0 346.3,809.6 348.5,809.8 350.5,740.9 351.9,743.5 353.3,743.0 354.7,741.9 356.2,768.6 357.6,710.8 359.0,753.0 360.4,714.3 361.8,709.0 363.2,709.8 364.6,724.8 366.0,701.8 368.7,768.9 370.2,752.8 371.7,758.3 373.2,738.5 374.7,705.8 376.2,696.1 377.7,680.6 379.2,689.9 380.8,676.8 382.4,694.1 383.9,705.1 385.4,679.4 386.9,690.7 388.3,678.2 389.8,660.4 391.3,659.3 392.8,666.5 394.2,640.4 395.7,639.7 397.4,650.8 399.1,696.9 400.6,689.0 402.0,689.3 403.5,658.5 405.0,662.6 407.5,705.1 409.1,680.8 410.7,653.6 412.6,685.4 414.4,695.5 416.3,714.9 418.0,720.0 419.7,712.1 421.5,712.1 423.2,714.9 424.7,726.0 426.2,722.0 427.8,729.6 429.2,737.6 430.7,728.3 432.1,721.5 433.6,723.2 435.0,732.6 436.4,742.5 437.9,737.8 439.3,732.8 440.7,736.2 442.2,732.8 443.6,735.4 445.1,739.5 446.6,743.0 448.2,752.0 449.7,750.1 451.4,755.9 453.0,747.5 454.7,748.5 456.4,753.3 458.1,750.3 459.8,765.6 461.5,762.4 463.0,755.7 464.6,755.7 466.2,757.5 468.0,755.7 469.8,768.7 471.6,770.5 473.1,772.9 474.5,768.8 476.0,768.8 477.5,771.4 479.2,776.2 480.9,770.1 482.7,764.6 484.4,766.5 486.3,764.7 488.1,774.7 490.0,777.9 491.4,771.8 492.8,768.9 494.3,767.2 495.7,766.5 497.4,769.2 499.1,766.8 500.8,753.4 502.4,750.9 504.2,756.4 505.9,737.8 507.6,739.3 509.4,735.4 510.8,724.7 512.3,711.5 513.7,712.5 515.3,706.9 516.8,691.8 518.3,687.1 520.2,698.4 522.2,705.1 523.6,695.0 525.0,685.5 527.0,696.4 528.9,705.1 530.4,691.7 531.9,676.5 533.8,669.5 535.7,668.6 537.5,671.6 538.9,677.9 540.3,674.5 541.7,698.6 543.7,691.7 545.8,680.6 547.5,657.5 549.1,662.7 550.8,657.7 553.4,688.7 555.9,653.6 557.6,671.2 559.3,688.7 560.9,685.3 562.6,666.7 564.3,693.6 566.0,696.9 567.7,670.3 569.4,674.0 570.8,675.7 572.2,675.0 573.6,696.9 575.5,675.4 577.5,639.7 579.3,663.8 581.2,688.7 582.9,713.3 584.5,694.8 586.2,705.1 587.9,704.3 589.6,688.4 591.3,700.8 593.0,678.1 594.5,675.2 596.0,699.6 597.5,710.6 599.0,719.0 600.7,717.8 602.4,710.1 604.1,722.7 605.8,712.5 607.8,719.3 609.8,737.8 611.3,745.3 612.7,735.4 614.2,732.8 615.6,743.9 617.1,736.8 618.5,755.0 620.0,750.1 621.5,755.3 623.1,738.3 624.6,737.5 626.2,739.5 627.6,750.8 629.1,742.1 630.5,753.3 632.0,757.6 633.4,762.4 635.0,755.7 636.6,767.7 638.2,767.7 639.9,757.5 641.6,755.7 643.4,765.2 645.2,766.5 646.7,764.5 648.2,749.6 649.7,755.0 651.1,750.9 652.9,757.4 654.6,757.4 656.3,771.3 658.1,773.8 659.5,772.2 661.0,772.2 662.5,782.9 664.0,772.2 665.5,782.9 667.0,777.9 668.5,776.3 670.0,781.5 671.5,790.2 673.1,780.3 674.6,787.1 676.1,785.3 677.7,783.9 679.2,783.6 680.8,792.1 682.3,788.5 683.8,786.9 685.3,786.9 686.8,795.8 688.3,789.6 689.8,791.8 691.3,798.0 692.8,790.2 694.3,792.0 695.8,795.4 697.3,790.2 698.9,795.9 700.3,797.7 701.8,794.2 703.2,797.0 704.7,792.3 706.2,789.4 707.6,791.0 709.2,785.2 710.7,790.5 712.3,787.3 713.8,777.4 715.4,778.5 716.9,773.8 718.5,779.0 720.0,779.0 721.6,776.5 723.2,771.5 724.7,771.3 726.3,775.9 727.9,771.4 729.6,774.9 731.3,764.5 732.7,744.9 734.1,737.5 735.5,743.7 736.9,750.0 738.3,740.1 739.7,746.0 741.1,737.9 742.5,728.4 743.9,750.6 745.3,737.4 746.7,770.1 748.1,745.1 749.6,741.9 751.0,736.6 752.4,725.5 753.8,750.0 755.2,743.8 756.6,736.5 758.0,734.8 759.4,745.2 760.8,748.9 762.2,755.4 763.6,739.8 765.0,726.7 766.4,736.5 767.8,752.0 769.2,724.1 770.6,742.0 772.0,710.7 773.4,731.3 774.8,734.4 776.2,757.9 777.7,730.2 779.1,750.5 780.5,746.7 781.9,735.1 783.3,729.7 784.7,732.4 786.1,725.4 787.5,754.8 788.9,729.4 790.3,731.8 791.9,778.7 793.1,713.5 794.5,705.9 795.9,695.9 797.3,756.4 798.7,720.1 800.1,731.4 801.5,726.4 802.9,727.3 804.3,741.5 805.4,782.8 807.2,762.1 808.6,756.3 810.0,778.2 811.4,769.3 812.8,775.6 814.7,793.3 816.7,800.8 818.2,804.2 819.6,802.5 821.1,812.2 822.5,813.1 824.0,807.4 825.6,820.3 827.2,812.9 828.8,805.5 830.4,814.7 832.2,812.9 834.0,816.1 835.8,819.6 837.4,817.9 839.0,820.7 840.7,834.3 842.2,837.7 843.8,830.4 845.4,829.4 847.0,821.6 848.6,821.3 850.6,819.7 852.6,826.2 854.3,827.8 856.0,822.1 857.7,823.7 859.4,822.9 861.1,830.6 862.7,827.8 864.3,828.0 865.9,826.2 867.4,827.2 869.0,827.8 870.9,827.4 872.9,831.9 874.5,837.5 876.2,836.7 877.9,832.7 879.6,833.8 881.3,827.8 883.1,826.2 884.8,830.3 886.5,831.3 888.1,824.1 889.7,823.7 891.1,822.7 892.5,816.9 893.9,814.7 895.3,813.1 896.7,820.7 898.1,818.0 899.8,814.5 901.4,803.3 903.0,804.9 904.6,808.7 906.1,804.2 907.6,798.4 909.2,804.9 910.8,803.3 912.6,791.3 914.3,782.8 915.9,781.2 917.5,788.5 919.4,778.6 921.2,757.5 923.4,766.5 925.6,748.5 927.5,754.0 929.3,758.3 930.9,734.4 932.5,723.9 934.0,735.2 935.5,764.9 936.9,771.4 938.6,759.8 940.3,737.8 942.0,719.0 943.7,705.1 945.2,711.0 946.8,727.9 948.4,725.5" fill="none" stroke="#fed06a" stroke-width="3.6" stroke-linejoin="round"/>
<polyline points="186.1,690.4 187.6,773.2 189.0,762.1 190.4,712.2 191.8,672.4 193.2,683.8 194.6,764.5 196.0,732.0 197.4,745.1 198.8,771.9 200.2,701.2 201.6,767.3 203.0,714.2 204.4,697.2 205.8,733.1 207.2,712.2 208.6,744.5 210.0,733.7 211.4,698.4 212.8,770.0 214.2,734.1 215.7,750.1 217.1,762.2 218.5,722.1 219.9,679.2 221.3,731.9 222.7,707.9 224.1,716.6 225.5,727.3 226.9,677.7 228.3,774.4 229.7,712.6 231.1,728.4 232.5,770.7 233.9,671.3 235.3,781.4 236.7,767.5 238.1,713.4 239.5,710.7 240.9,701.2 242.3,749.8 243.8,698.5 245.2,808.9 246.6,753.5 248.0,735.1 249.4,795.3 250.8,711.5 252.2,747.7 253.6,736.3 255.0,735.6 256.4,744.6 257.8,734.2 259.2,730.0 260.6,731.1 262.0,749.7 263.4,728.7 264.8,745.0 266.2,739.9 267.6,739.4 269.0,752.8 270.4,793.8 271.9,789.4 273.3,761.9 274.7,809.8 276.1,778.0 277.5,779.6 278.9,794.5 280.3,768.1 281.7,802.0 283.1,789.7 284.5,780.3 285.9,786.1 287.3,792.5 288.7,790.6 290.1,797.5 291.5,797.7 292.9,807.0 294.3,809.7 295.7,799.0 297.1,808.6 298.5,810.4 300.0,805.8 301.4,801.4 302.8,807.1 304.2,809.6 305.6,809.2 307.0,803.5 308.4,806.7 309.8,815.8 311.2,807.2 312.6,808.0 314.0,806.9 315.4,808.8 316.8,802.7 318.2,803.1 319.6,801.9 321.0,809.5 322.4,812.0 323.8,813.5 325.2,800.3 326.6,818.1 328.1,802.3 329.5,797.4 330.9,804.5 332.3,797.6 333.7,799.4 335.1,791.5 336.5,803.3 337.9,795.5 339.3,771.9 340.7,773.3 342.1,760.2 343.5,767.2 344.9,794.9 346.3,795.1 347.7,739.7 349.1,771.2 350.5,726.0 351.9,728.1 353.3,725.7 354.7,717.4 356.2,763.6 357.6,690.0 359.0,752.0 360.4,683.0 361.8,703.1 363.2,691.5 364.6,706.4 366.0,683.8 367.4,672.4 368.8,671.8 370.2,741.9 371.6,691.5 373.0,691.9 374.4,714.5 375.8,717.7 377.2,705.7 378.6,702.9 380.0,731.5 381.4,747.5 382.8,719.9 384.3,702.0 385.7,705.9 387.1,796.7 388.5,704.8 389.9,702.8 391.3,687.3 392.7,698.1 394.1,766.3 395.5,674.0 396.9,688.4 398.3,690.3 399.7,758.3 401.1,694.4 402.5,690.9 403.9,700.8 405.3,716.2 406.7,705.5 408.1,721.2 409.5,772.8 410.9,721.4 412.4,721.5 413.8,734.2 415.2,728.8 416.6,756.1 418.0,789.0 419.4,728.1 420.8,747.6 422.2,749.8 423.6,751.2 425.0,750.4 426.4,751.7 427.8,753.1 429.2,760.8 430.6,754.5 432.0,777.8 433.4,775.4 434.8,761.1 436.2,802.4 437.6,774.2 439.0,774.7 440.5,766.0 441.9,779.9 443.3,787.4 444.7,804.4 446.1,792.6 447.5,797.6 448.9,793.1 450.3,797.0 451.7,793.0 453.1,798.5 454.5,807.5 455.9,811.7 457.3,807.5 458.7,807.3 460.1,808.0 461.5,807.4 462.9,809.3 464.3,808.1 465.7,813.8 467.1,804.0 468.6,813.0 470.0,810.0 471.4,812.3 472.8,799.4 474.2,800.3 475.6,805.8 477.0,808.6 478.4,810.1 479.8,806.3 481.2,804.0 482.6,812.9 484.0,806.4 485.4,805.8 486.8,808.3 488.2,804.7 489.6,812.7 491.0,807.0 492.4,812.9 493.8,799.9 495.2,804.3 496.7,795.7 498.1,796.2 499.5,788.6 500.9,789.0 502.3,789.6 503.7,793.3 505.1,780.2 506.5,772.1 507.9,774.7 509.3,766.9 510.7,756.9 512.1,760.0 513.5,766.3 514.9,739.7 516.3,757.7 517.7,755.8 519.1,734.6 520.5,734.7 521.9,730.4 523.3,749.6 524.8,745.6 526.2,737.4 527.6,742.4 529.0,734.3 530.4,732.3 531.8,754.0 533.2,728.3 534.6,723.9 536.0,750.3 537.4,751.7 538.8,716.5 540.2,713.5 541.6,758.5 543.0,720.2 544.4,725.4 545.8,739.2 547.2,714.0 548.6,757.5 550.0,752.8 551.4,703.7 552.9,744.9 554.3,720.6 555.7,701.9 557.1,720.6 558.5,700.4 559.9,703.6 561.3,740.2 562.7,704.7 564.1,739.8 565.5,704.7 566.9,735.9 568.3,696.9 569.7,720.3 571.1,702.4 572.5,707.4 573.9,696.9 575.3,731.5 576.7,724.2 578.1,650.3 579.5,706.9 581.0,732.9 582.4,737.6 583.8,741.2 585.2,736.1 586.6,722.5 588.0,729.0 589.4,728.3 590.8,732.9 592.2,748.5 593.6,763.0 595.0,722.7 596.4,734.8 597.8,752.8 599.2,734.1 600.6,735.7 602.0,755.1 603.4,768.7 604.8,758.6 606.2,831.1 607.6,749.3 609.1,760.2 610.5,755.9 611.9,748.9 613.3,779.0 614.7,755.6 616.1,769.1 617.5,773.7 618.9,775.5 620.3,778.2 621.7,780.3 623.1,795.2 624.5,779.6 625.9,789.3 627.3,791.8 628.7,791.5 630.1,788.5 631.5,793.8 632.9,803.8 634.3,800.9 635.7,801.9 637.2,801.7 638.6,798.8 640.0,795.9 641.4,790.1 642.8,797.9 644.2,803.5 645.6,804.0 647.0,793.3 648.4,804.0 649.8,801.7 651.2,803.7 652.6,801.4 654.0,809.8 655.4,804.9 656.8,808.2 658.2,815.2 659.6,801.3 661.0,810.5 662.4,801.6 663.8,812.2 665.3,812.7 666.7,813.9 668.1,817.1 669.5,814.7 670.9,809.1 672.3,814.0 673.7,807.4 675.1,809.9 676.5,814.5 677.9,809.9 679.3,811.7 680.7,813.2 682.1,814.1 683.5,812.7 684.9,808.0 686.3,811.0 687.7,808.5 689.1,814.6 690.5,805.4 691.9,811.4 693.4,811.2 694.8,808.6 696.2,809.6 697.6,813.8 699.0,810.9 700.4,810.9 701.8,803.3 703.2,805.9 704.6,800.0 706.0,801.8 707.4,797.1 708.8,798.8 710.2,797.2 711.6,792.9 713.0,787.3 714.4,790.0 715.8,789.4 717.2,792.0 718.6,796.1 720.0,785.6 721.5,783.5 722.9,796.0 724.3,786.6 725.7,783.3 727.1,776.3 728.5,767.5 729.9,779.5 731.3,775.5 732.7,755.5 734.1,744.6 735.5,756.0 736.9,751.7 738.3,747.8 739.7,750.3 741.1,754.1 742.5,739.1 743.9,755.6 745.3,747.4 746.7,783.6 748.1,744.3 749.6,747.6 751.0,745.4 752.4,736.7 753.8,760.1 755.2,754.3 756.6,754.0 758.0,739.1 759.4,745.8 760.8,756.9 762.2,757.9 763.6,744.2 765.0,736.9 766.4,745.9 767.8,752.6 769.2,733.9 770.6,748.7 772.0,718.9 773.4,748.9 774.8,743.2 776.2,764.5 777.7,739.9 779.1,759.7 780.5,751.8 781.9,747.1 783.3,737.8 784.7,738.0 786.1,731.2 787.5,765.6 788.9,736.4 790.3,742.0 791.7,729.2 793.1,726.1 794.5,722.2 795.9,701.0 797.3,754.2 798.7,722.0 800.1,737.1 801.5,735.8 802.9,747.9 804.3,749.3 805.8,771.3 807.2,775.8 808.6,770.2 810.0,781.1 811.4,775.0 812.8,789.8 814.2,774.4 815.6,786.5 817.0,787.1 818.4,792.4 819.8,797.7 821.2,783.2 822.6,788.3 824.0,796.4 825.4,800.3 826.8,796.0" fill="none" stroke="#2b9fe0" stroke-width="1.5" stroke-linejoin="round" marker-start="url(#mS)" marker-mid="url(#mS)" marker-end="url(#mS)"/>
<polyline points="186.1,706.4 187.6,791.6 189.0,770.0 190.4,725.1 191.8,698.6 193.2,707.1 194.6,763.4 196.0,747.7 197.4,754.2 198.8,769.2 200.2,713.2 201.6,761.7 203.0,726.8 204.4,715.4 205.8,738.8 207.2,724.7 208.6,741.9 210.0,738.6 211.4,708.9 212.8,762.5 214.2,742.3 215.7,752.6 217.1,759.8 218.5,727.2 219.9,699.6 221.3,739.4 222.7,678.9 224.1,729.8 225.5,729.6 226.9,704.9 228.3,791.9 229.7,728.2 231.1,739.2 232.5,774.4 233.9,696.5 235.3,783.7 236.7,776.8 238.1,725.2 239.5,721.4 240.9,721.7 242.3,760.9 243.8,718.9 245.2,813.0 246.6,761.2 248.0,743.8 249.4,795.0 250.8,729.2 252.2,752.9 253.6,741.9 255.0,733.4 256.4,753.8 257.8,736.4 259.2,743.4 260.6,732.9 262.0,750.7 263.4,732.2 264.8,747.8 266.2,742.0 267.6,737.1 269.0,750.4 270.4,792.2 271.9,778.4 273.3,761.8 274.7,821.3 276.1,778.8 277.5,786.1 278.9,792.1 280.3,772.7 281.7,792.4 283.1,783.1 284.5,781.2 285.9,787.5 287.3,794.9 288.7,792.6 290.1,794.2 291.5,795.6 292.9,807.7 294.3,804.6 295.7,790.7 297.1,807.9 298.5,802.6 300.0,802.5 301.4,797.1 302.8,801.3 304.2,794.7 305.6,798.4 307.0,803.3 308.4,793.4 309.8,814.1 311.2,805.8 312.6,793.4 314.0,795.8 315.4,800.0 316.8,796.2 318.2,804.9 319.6,789.6 321.0,807.4 322.4,801.9 323.8,803.8 325.2,795.4 326.6,811.6 328.1,797.0 329.5,795.5 330.9,792.6 332.3,797.3 333.7,789.5 335.1,786.9 336.5,800.0 337.9,788.3 339.3,771.3 340.7,767.9 342.1,760.9 343.5,764.0 344.9,787.6 346.3,801.4 347.7,742.6 349.1,767.6 350.5,731.5 351.9,732.2 353.3,730.5 354.7,731.9 356.2,772.0 357.6,698.0 359.0,743.2 360.4,713.9 361.8,713.2 363.2,711.5 364.6,718.4 366.0,702.5 367.4,683.6 368.8,689.6 370.2,746.1 371.6,710.3 373.0,712.8 374.4,724.5 375.8,726.9 377.2,716.9 378.6,717.4 380.0,734.1 381.4,760.2 382.8,729.8 384.3,711.2 385.7,716.8 387.1,777.0 388.5,796.7 389.9,717.7 391.3,713.8 392.7,711.6 394.1,767.2 395.5,674.0 396.9,706.3 398.3,705.2 399.7,761.0 401.1,719.2 402.5,703.9 403.9,713.3 405.3,729.7 406.7,721.7 408.1,735.4 409.5,769.6 410.9,728.9 412.4,737.8 413.8,742.8 415.2,735.2 416.6,762.9 418.0,791.1 419.4,735.6 420.8,754.6 422.2,757.3 423.6,753.5 425.0,753.1 426.4,750.1 427.8,763.5 429.2,764.1 430.6,762.7 432.0,780.4 433.4,781.6 434.8,761.8 436.2,798.4 437.6,773.4 439.0,770.2 440.5,770.3 441.9,779.3 443.3,785.1 444.7,798.7 446.1,793.0 447.5,792.9 448.9,792.1 450.3,796.0 451.7,786.4 453.1,787.5 454.5,800.3 455.9,804.0 457.3,806.2 458.7,799.9 460.1,810.6 461.5,813.8 462.9,806.5 464.3,795.4 465.7,810.4 467.1,796.9 468.6,800.0 470.0,805.5 471.4,807.9 472.8,798.5 474.2,793.5 475.6,804.4 477.0,797.3 478.4,809.2 479.8,803.1 481.2,807.9 482.6,807.3 484.0,802.1 485.4,800.4 486.8,801.3 488.2,801.8 489.6,806.0 491.0,805.1 492.4,805.6 493.8,797.8 495.2,794.3 496.7,791.0 498.1,791.5 499.5,783.9 500.9,786.9 502.3,781.2 503.7,783.7 505.1,773.6 506.5,761.5 507.9,761.9 509.3,759.5 510.7,756.2 512.1,752.6 513.5,766.0 514.9,744.5 516.3,746.7 517.7,748.8 519.1,733.8 520.5,735.1 521.9,727.9 523.3,742.6 524.8,738.7 526.2,727.1 527.6,742.9 529.0,724.7 530.4,720.1 531.8,749.3 533.2,717.2 534.6,713.8 536.0,736.9 537.4,739.2 538.8,713.0 540.2,704.3 541.6,750.3 543.0,708.0 544.4,719.4 545.8,735.8 547.2,705.6 548.6,749.8 550.0,752.2 551.4,693.3 552.9,747.5 554.3,717.7 555.7,684.9 557.1,713.0 558.5,690.0 559.9,692.8 561.3,745.0 562.7,693.3 564.1,729.8 565.5,702.3 566.9,736.8 568.3,680.7 569.7,718.9 571.1,695.7 572.5,702.3 573.9,684.2 575.3,730.9 576.7,719.6 578.1,661.7 579.5,689.3 581.0,729.2 582.4,738.0 583.8,732.2 585.2,733.1 586.6,720.5 588.0,716.8 589.4,730.5 590.8,731.8 592.2,742.9 593.6,762.2 595.0,718.2 596.4,725.0 597.8,743.1 599.2,730.0 600.6,738.3 602.0,764.7 603.4,763.1 604.8,754.4 606.2,822.1 607.6,746.1 609.1,757.2 610.5,747.2 611.9,742.1 613.3,774.3 614.7,750.5 616.1,758.7 617.5,769.0 618.9,768.3 620.3,773.5 621.7,770.5 623.1,786.8 624.5,782.3 625.9,790.6 627.3,788.2 628.7,785.1 630.1,788.2 631.5,790.2 632.9,796.8 634.3,791.9 635.7,792.6 637.2,794.6 638.6,796.4 640.0,798.1 641.4,786.1 642.8,802.4 644.2,800.6 645.6,802.5 647.0,795.9 648.4,797.7 649.8,797.5 651.2,800.9 652.6,802.6 654.0,802.9 655.4,802.0 656.8,800.1 658.2,802.1 659.6,806.1 661.0,808.4 662.4,801.4 663.8,809.1 665.3,807.9 666.7,813.3 668.1,808.8 669.5,801.4 670.9,802.5 672.3,810.3 673.7,803.9 675.1,810.8 676.5,816.4 677.9,802.2 679.3,804.8 680.7,810.5 682.1,807.4 683.5,807.7 684.9,801.2 686.3,813.1 687.7,807.7 689.1,802.6 690.5,797.5 691.9,805.4 693.4,807.2 694.8,801.7 696.2,810.2 697.6,808.9 699.0,801.5 700.4,809.1 701.8,803.5 703.2,802.2 704.6,800.1 706.0,801.0 707.4,795.2 708.8,795.8 710.2,794.4 711.6,786.0 713.0,784.9 714.4,790.6 715.8,791.0 717.2,790.2 718.6,799.4 720.0,790.0 721.5,783.5 722.9,790.5 724.3,780.7 725.7,783.1 727.1,777.0 728.5,770.6 729.9,767.8 731.3,769.1 732.7,747.2 734.1,737.5 735.5,741.7 736.9,749.5 738.3,744.3 739.7,741.8 741.1,745.5 742.5,730.9 743.9,749.5 745.3,742.1 746.7,768.6 748.1,745.3 749.6,737.9 751.0,743.5 752.4,729.8 753.8,755.2 755.2,740.3 756.6,744.6 758.0,737.7 759.4,737.8 760.8,751.5 762.2,757.8 763.6,735.1 765.0,729.8 766.4,739.5 767.8,748.7 769.2,717.7 770.6,742.3 772.0,712.3 773.4,743.6 774.8,736.9 776.2,762.0 777.7,738.3 779.1,754.3 780.5,746.3 781.9,701.8 783.3,794.3 784.7,733.7 786.1,725.6 787.5,757.1 788.9,724.8 790.3,729.5 791.7,719.9 793.1,708.8 794.5,703.4 795.9,685.5 797.3,752.2 798.7,703.9 800.1,722.7 801.5,707.5 802.9,719.2 804.3,728.8 805.8,749.2 807.2,749.8 808.6,735.3 810.0,759.0 811.4,744.0 812.8,763.8 814.2,747.3 815.6,751.1 817.0,746.5 818.4,763.7 819.8,762.1 821.2,750.3 822.6,757.0 824.0,755.7 825.4,761.7 826.8,766.4 828.2,780.3 829.6,792.5 831.0,772.7 832.4,768.0 833.9,783.4 835.3,778.9 836.7,779.2 838.1,777.8 839.5,784.7 840.9,785.0 842.3,783.0 843.7,782.4" fill="none" stroke="#167a28" stroke-width="2" stroke-linejoin="round" marker-start="url(#mT)" marker-mid="url(#mT)" marker-end="url(#mT)"/>
<polyline points="186.1,702.5 187.6,786.9 189.0,767.4 190.4,721.5 191.8,692.8 193.2,701.7 194.6,765.3 196.0,740.0 197.4,753.4 198.8,768.4 200.2,711.9 201.6,764.1 203.0,720.1 204.4,708.0 205.8,732.7 207.2,720.1 208.6,742.3 210.0,733.0 211.4,708.0 212.8,766.1 214.2,738.6 215.7,749.6 217.1,760.3 218.5,730.1 219.9,693.4 221.3,740.8 222.7,718.5 224.1,727.8 225.5,732.6 226.9,699.8 228.3,793.4 229.7,724.6 231.1,741.7 232.5,773.7 233.9,692.0 235.3,783.8 236.7,771.8 238.1,724.4 239.5,722.6 240.9,719.5 242.3,759.2 243.8,715.1 245.2,807.4 246.6,761.3 248.0,745.1 249.4,797.7 250.8,724.9 252.2,749.1 253.6,737.0 255.0,731.8 256.4,740.3 257.8,725.1 259.2,728.5 260.6,726.9 262.0,741.6 263.4,726.9 264.8,739.5 266.2,733.7 267.6,733.1 269.0,745.3 270.4,783.7 271.9,776.9 273.3,755.3 274.7,809.8 276.1,770.5 277.5,774.1 278.9,782.2 280.3,762.0 281.7,785.8 283.1,779.2 284.5,772.1 285.9,778.4 287.3,778.0 288.7,780.1 290.1,783.7 291.5,781.4 292.9,791.9 294.3,794.1 295.7,780.9 297.1,791.9 298.5,793.1 300.0,789.5 301.4,787.1 302.8,787.2 304.2,786.0 305.6,787.8 307.0,787.8 308.4,785.0 309.8,796.4 311.2,792.4 312.6,789.3 314.0,789.6 315.4,788.2 316.8,786.3 318.2,790.1 319.6,783.3 321.0,793.0 322.4,792.1 323.8,794.7 325.2,783.6 326.6,798.9 328.1,785.2 329.5,785.2 330.9,782.9 332.3,781.5 333.7,779.4 335.1,775.2 336.5,790.6 337.9,781.0 339.3,760.3 340.7,758.6 342.1,750.0 343.5,757.7 344.9,783.0 346.3,793.4 347.7,739.6 349.1,761.8 350.5,724.3 351.9,730.5 353.3,726.6 354.7,721.7 356.2,757.2 357.6,698.9 359.0,746.6 360.4,699.1 361.8,707.3 363.2,702.9 364.6,716.6 366.0,699.4 367.4,682.2 368.8,686.3 370.2,747.3 371.6,699.1 373.0,700.1 374.4,719.0 375.8,724.2 377.2,714.0 378.6,709.9 380.0,735.6 381.4,752.6 382.8,722.4 384.3,710.8 385.7,715.8 387.1,774.6 388.5,721.4 389.9,717.8 391.3,708.1 392.7,709.7 394.1,767.5 395.5,684.7 396.9,701.2 398.3,702.9 399.7,756.5 401.1,712.5 402.5,703.0 403.9,710.1 405.3,725.2 406.7,714.3 408.1,728.0 409.5,770.5 410.9,726.0 412.4,730.0 413.8,735.6 415.2,725.1 416.6,753.6 418.0,780.6 419.4,727.7 420.8,746.3 422.2,749.8 423.6,742.9 425.0,747.1 426.4,745.4 427.8,748.3 429.2,754.4 430.6,751.5 432.0,771.7 433.4,769.4 434.8,755.9 436.2,790.6 437.6,765.3 439.0,764.5 440.5,765.4 441.9,770.5 443.3,779.1 444.7,791.1 446.1,782.9 447.5,783.3 448.9,779.2 450.3,783.9 451.7,780.5 453.1,782.9 454.5,790.3 455.9,792.6 457.3,792.7 458.7,794.6 460.1,795.3 461.5,794.7 462.9,794.8 464.3,790.8 465.7,799.8 467.1,788.2 468.6,792.8 470.0,792.2 471.4,792.5 472.8,788.5 474.2,784.8 475.6,794.1 477.0,794.1 478.4,794.4 479.8,791.5 481.2,795.1 482.6,799.2 484.0,793.1 485.4,790.7 486.8,792.2 488.2,791.1 489.6,793.4 491.0,793.5 492.4,796.7 493.8,788.5 495.2,785.6 496.7,782.6 498.1,779.1 499.5,773.2 500.9,775.4 502.3,772.4 503.7,775.1 505.1,766.7 506.5,757.5 507.9,754.4 509.3,749.1 510.7,745.1 512.1,744.4 513.5,755.7 514.9,731.4 516.3,741.9 517.7,741.2 519.1,727.4 520.5,725.7 521.9,725.5 523.3,742.3 524.8,739.3 526.2,727.9 527.6,736.9 529.0,724.2 530.4,720.0 531.8,744.8 533.2,719.9 534.6,712.1 536.0,742.0 537.4,741.8 538.8,710.9 540.2,710.4 541.6,748.2 543.0,715.7 544.4,718.7 545.8,733.7 547.2,712.6 548.6,758.0 550.0,751.3 551.4,701.1 552.9,748.6 554.3,720.2 555.7,696.0 557.1,719.1 558.5,702.3 559.9,701.7 561.3,739.2 562.7,704.3 564.1,733.5 565.5,707.6 566.9,733.5 568.3,690.3 569.7,721.9 571.1,699.6 572.5,706.3 573.9,687.1 575.3,730.6 576.7,724.8 578.1,750.5 579.5,698.1 581.0,727.7 582.4,734.4 583.8,736.6 585.2,728.6 586.6,723.0 588.0,722.4 589.4,726.7 590.8,729.0 592.2,744.8 593.6,756.9 595.0,723.1 596.4,725.6 597.8,742.4 599.2,728.5 600.6,736.7 602.0,749.8 603.4,758.8 604.8,748.0 606.2,809.0 607.6,741.7 609.1,748.4 610.5,747.0 611.9,742.2 613.3,770.7 614.7,750.3 616.1,757.5 617.5,764.1 618.9,765.3 620.3,772.1 621.7,767.7 623.1,786.6 624.5,771.8 625.9,780.8 627.3,780.6 628.7,779.6 630.1,779.1 631.5,782.3 632.9,791.5 634.3,784.8 635.7,784.3 637.2,789.4 638.6,786.2 640.0,786.0 641.4,781.9 642.8,787.1 644.2,793.1 645.6,793.4 647.0,786.7 648.4,794.4 649.8,791.0 651.2,792.1 652.6,792.0 654.0,795.0 655.4,791.8 656.8,793.6 658.2,801.3 659.6,794.5 661.0,802.3 662.4,793.8 663.8,801.6 665.3,799.1 666.7,800.8 668.1,800.9 669.5,796.5 670.9,798.3 672.3,800.4 673.7,794.5 675.1,802.4 676.5,805.1 677.9,799.8 679.3,796.8 680.7,802.9 682.1,800.2 683.5,798.6 684.9,792.7 686.3,798.5 687.7,803.0 689.1,798.1 690.5,792.7 691.9,798.5 693.4,802.7 694.8,795.9 696.2,799.0 697.6,802.0 699.0,796.0 700.4,799.2 701.8,789.5 703.2,795.6 704.6,791.8 706.0,788.5 707.4,786.3 708.8,784.9 710.2,785.1 711.6,781.0 713.0,778.9 714.4,782.5 715.8,778.3 717.2,779.3 718.6,785.3 720.0,777.6 721.5,777.2 722.9,781.5 724.3,772.9 725.7,776.8 727.1,767.4 728.5,762.6 729.9,770.5 731.3,765.3 732.7,744.9 734.1,737.8 735.5,744.3 736.9,746.3 738.3,742.9 739.7,744.0 741.1,743.7 742.5,733.0 743.9,746.9 745.3,739.8 746.7,774.6 748.1,740.5 749.6,736.6 751.0,737.8 752.4,728.2 753.8,753.7 755.2,743.3 756.6,741.6 758.0,729.8 759.4,741.3 760.8,748.0 762.2,754.3 763.6,733.3 765.0,729.4 766.4,739.5 767.8,744.4 769.2,723.8 770.6,740.4 772.0,710.0 773.4,738.4 774.8,739.5 776.2,758.5 777.7,732.5 779.1,748.1 780.5,744.4 781.9,736.3 783.3,724.2 784.7,731.2 786.1,721.9 787.5,753.9 788.9,725.2 790.3,731.1 791.7,716.8 793.1,711.4 794.5,709.4 795.9,698.6 797.3,752.5 798.7,719.2 800.1,731.1 801.5,725.2 802.9,736.5 804.3,737.6 805.8,764.0 807.2,763.7 808.6,753.2 810.0,776.4 811.4,766.3 812.8,779.6 814.2,770.5 815.6,775.9 817.0,776.4 818.4,787.2 819.8,782.8 821.2,777.8 822.6,779.8 824.0,779.9 825.4,789.9 826.8,783.8 828.2,797.5 829.6,813.1 831.0,786.9 832.4,786.0 833.9,796.9 835.3,791.6 836.7,795.6 838.1,789.9 839.5,795.8 840.9,797.9 842.3,790.3 843.7,794.5 845.1,794.2 846.5,794.6 847.9,794.3 849.3,793.7 850.7,794.0 852.1,795.4 853.5,794.9 854.9,796.2 856.3,803.4 857.7,800.8 859.1,796.4 860.5,802.3 862.0,799.6 863.4,803.0 864.8,798.9 866.2,803.0" fill="none" stroke="#ef722f" stroke-width="2.2" stroke-linejoin="round" marker-start="url(#mC)" marker-mid="url(#mC)" marker-end="url(#mC)"/>
</g>
<path d="M120.9 541.5H963.9V868.7" stroke="#505050" stroke-width="1.5" fill="none"/>
<path d="M120.9 541.5V868.7M120.9 868.7H963.9M112.9 868.7H120.9M112.9 786.9H120.9M112.9 705.1H120.9M112.9 623.3H120.9M112.9 541.5H120.9M120.9 868.7V876.7M137.8 862.7V868.7M154.6 862.7V868.7M171.5 862.7V868.7M188.3 862.7V868.7M205.2 868.7V876.7M222.1 862.7V868.7M238.9 862.7V868.7M255.8 862.7V868.7M272.6 862.7V868.7M289.5 868.7V876.7M306.4 862.7V868.7M323.2 862.7V868.7M340.1 862.7V868.7M356.9 862.7V868.7M373.8 868.7V876.7M390.7 862.7V868.7M407.5 862.7V868.7M424.4 862.7V868.7M441.2 862.7V868.7M458.1 868.7V876.7M475 862.7V868.7M491.8 862.7V868.7M508.7 862.7V868.7M525.5 862.7V868.7M542.4 868.7V876.7M559.3 862.7V868.7M576.1 862.7V868.7M593 862.7V868.7M609.8 862.7V868.7M626.7 868.7V876.7M643.6 862.7V868.7M660.4 862.7V868.7M677.3 862.7V868.7M694.1 862.7V868.7M711 868.7V876.7M727.9 862.7V868.7M744.7 862.7V868.7M761.6 862.7V868.7M778.4 862.7V868.7M795.3 868.7V876.7M812.2 862.7V868.7M829 862.7V868.7M845.9 862.7V868.7M862.7 862.7V868.7M879.6 868.7V876.7M896.5 862.7V868.7M913.3 862.7V868.7M930.2 862.7V868.7M947 862.7V868.7M963.9 868.7V876.7" stroke="#333" stroke-width="1.6" fill="none"/>
<text x="120.9" y="910.2" text-anchor="middle" class="tk">1975</text>
<text x="205.2" y="910.2" text-anchor="middle" class="tk">1980</text>
<text x="289.5" y="910.2" text-anchor="middle" class="tk">1985</text>
<text x="373.8" y="910.2" text-anchor="middle" class="tk">1990</text>
<text x="458.1" y="910.2" text-anchor="middle" class="tk">1995</text>
<text x="542.4" y="910.2" text-anchor="middle" class="tk">2000</text>
<text x="626.7" y="910.2" text-anchor="middle" class="tk">2005</text>
<text x="711" y="910.2" text-anchor="middle" class="tk">2010</text>
<text x="795.3" y="910.2" text-anchor="middle" class="tk">2015</text>
<text x="879.6" y="910.2" text-anchor="middle" class="tk">2020</text>
<text x="963.9" y="910.2" text-anchor="middle" class="tk">2025</text>
<text x="97.4" y="878.2" text-anchor="end" class="tk">1360</text>
<text x="97.4" y="796.4" text-anchor="end" class="tk">1361</text>
<text x="97.4" y="714.6" text-anchor="end" class="tk">1362</text>
<text x="97.4" y="632.8" text-anchor="end" class="tk">1363</text>
<text x="97.4" y="551" text-anchor="end" class="tk">1364</text>
<text x="126.4" y="528.4" class="pl">(b) Group B</text>
<text transform="translate(25.9 705.1) rotate(-90)" text-anchor="middle" class="yl">TSI at 1au (W m<tspan dy="-10" font-size="19">-2</tspan><tspan dy="10">)</tspan></text>
<path d="M205.1 982.5V1309.2M289.4 982.5V1309.2M373.7 982.5V1309.2M458 982.5V1309.2M542.4 982.5V1309.2M626.7 982.5V1309.2M711 982.5V1309.2M795.3 982.5V1309.2M879.6 982.5V1309.2M120.8 1227.5H963.9M120.8 1145.8H963.9M120.8 1064.2H963.9" stroke="#d9d9d9" stroke-width="1.2" fill="none"/>
<g filter="url(#sh)">
<polyline points="185.2,1154.8 186.8,1131.8 188.4,1098.4 190.0,1050.1 191.6,1016.0 193.2,1050.9 194.8,1087.3 196.3,1086.2 198.0,1109.5 199.7,1127.1 201.2,1130.1 202.7,1102.6 204.3,1100.1 205.7,1096.4 207.1,1102.8 208.5,1118.1 210.2,1118.7 211.9,1114.4 213.5,1147.9 215.2,1141.8 216.9,1141.8 218.6,1124.2 220.3,1124.3 222.0,1111.5 223.8,1128.8 225.7,1149.9 228.2,1245.2 229.6,1169.4 231.4,1256.9 232.4,1224.5 233.8,1139.6 235.2,1236.2 236.6,1224.0 238.0,1174.2 239.5,1172.3 240.9,1172.3 242.3,1219.5 243.7,1168.4 245.1,1257.8 246.5,1214.1 247.9,1196.6 249.3,1249.9 250.7,1182.9 252.1,1199.5 253.5,1192.3 254.9,1187.0 256.3,1192.1 257.7,1181.3 259.1,1181.6 260.5,1183.8 261.9,1196.3 263.3,1182.4 264.7,1195.4 266.2,1190.9 267.6,1187.8 269.0,1199.6 270.4,1235.4 271.8,1233.7 273.4,1292.9 274.6,1264.7 276.0,1218.5 277.4,1228.1 278.8,1237.6 280.2,1219.6 281.6,1252.2 283.0,1242.8 284.4,1243.8 285.8,1242.3 287.2,1241.1 288.6,1252.4 290.0,1249.6 291.4,1256.7 292.8,1267.4 294.3,1263.9 295.7,1255.2 297.1,1265.2 298.5,1261.2 299.9,1264.3 301.3,1259.7 302.7,1259.2 304.1,1256.5 305.5,1257.0 306.9,1259.8 308.3,1260.6 309.7,1264.8 311.1,1254.6 312.5,1258.3 313.9,1259.5 315.3,1261.1 316.7,1258.8 318.1,1266.3 319.5,1252.9 321.0,1265.1 322.4,1259.6 323.8,1269.7 325.2,1250.8 326.6,1271.6 328.0,1258.9 329.4,1258.4 330.8,1256.6 332.2,1260.0 333.6,1249.0 335.0,1244.3 336.4,1258.1 337.8,1250.4 339.2,1229.8 340.6,1235.4 342.0,1219.6 343.4,1230.5 344.8,1251.9 346.2,1255.8 348.4,1259.4 350.5,1188.0 351.9,1201.8 353.3,1191.6 354.7,1184.2 356.1,1217.5 357.5,1154.4 358.9,1201.3 360.3,1152.9 361.7,1161.9 363.1,1158.2 364.5,1171.0 365.9,1150.1 368.7,1219.4 370.2,1207.8 371.7,1190.3 373.1,1176.2 374.6,1146.3 376.1,1141.3 377.6,1123.0 379.2,1146.2 380.7,1138.0 382.3,1150.9 383.8,1149.9 385.3,1123.5 386.8,1130.4 388.3,1111.1 389.7,1119.1 391.2,1101.0 392.7,1095.7 394.2,1091.1 395.7,1091.1 397.3,1141.9 399.0,1145.8 400.5,1135.8 402.0,1112.8 403.4,1123.6 404.9,1116.4 407.5,1154.0 409.1,1114.4 410.7,1103.4 412.4,1122.8 414.1,1135.5 415.8,1139.7 417.6,1161.4 419.4,1174.8 421.3,1158.5 423.1,1166.3 424.6,1174.9 426.0,1178.5 427.7,1163.6 429.4,1166.3 431.1,1174.3 432.7,1165.5 434.4,1178.5 436.1,1177.7 437.8,1191.8 439.5,1184.5 441.2,1183.6 442.9,1184.2 444.6,1185.9 446.2,1194.9 447.9,1202.0 449.6,1198.1 451.3,1196.4 453.0,1203.1 454.7,1210.4 456.4,1204.7 458.0,1202.8 459.7,1205.2 461.4,1215.3 463.1,1214.7 464.8,1210.9 466.5,1207.1 467.9,1212.3 469.3,1209.2 470.7,1217.1 472.1,1211.0 473.5,1218.8 474.9,1220.2 476.6,1225.5 478.3,1212.8 480.0,1212.5 481.6,1213.6 483.3,1227.7 485.0,1218.2 486.7,1218.8 488.4,1225.1 490.1,1224.0 491.8,1224.6 493.5,1216.8 495.1,1218.5 496.8,1217.4 498.5,1197.8 500.2,1207.6 501.9,1198.1 503.6,1188.9 505.3,1182.4 506.9,1195.6 508.6,1184.2 510.3,1169.7 512.0,1166.1 513.7,1144.7 515.4,1138.5 517.1,1136.3 518.7,1136.3 520.4,1154.0 521.9,1138.7 523.5,1143.8 525.0,1134.4 526.8,1134.2 528.7,1131.6 530.5,1154.0 532.0,1134.1 533.5,1120.1 535.0,1120.1 536.4,1123.0 537.9,1142.5 539.4,1140.3 540.9,1137.5 542.4,1152.4 544.0,1151.1 545.7,1129.5 547.4,1113.5 549.1,1137.9 550.8,1107.5 553.3,1137.7 555.8,1105.0 557.5,1121.9 559.2,1137.7 560.9,1119.9 562.6,1117.3 564.3,1154.0 566.0,1145.8 567.6,1126.5 569.3,1121.3 570.7,1118.0 572.1,1125.8 573.5,1145.8 574.9,1146.4 576.4,1124.7 577.8,1088.7 579.4,1099.4 581.1,1137.7 582.8,1134.4 584.5,1159.5 586.2,1154.0 587.9,1161.6 589.6,1130.8 591.2,1156.0 592.9,1129.5 594.6,1134.7 596.3,1169.6 598.0,1166.3 599.7,1173.2 601.4,1163.1 603.1,1159.9 604.7,1162.2 606.1,1159.8 607.5,1166.4 609.0,1177.5 610.4,1179.9 611.8,1174.3 613.2,1179.3 614.9,1177.1 616.5,1194.6 618.2,1196.7 619.9,1194.9 621.6,1197.8 623.3,1191.5 625.0,1197.5 626.7,1189.1 628.3,1194.7 630.0,1198.8 631.7,1202.4 633.4,1211.2 635.1,1207.4 636.8,1216.5 638.5,1207.7 640.1,1207.1 641.8,1207.2 643.5,1216.5 645.2,1215.3 646.9,1213.2 648.6,1200.5 650.3,1202.2 651.7,1216.3 653.1,1200.5 654.5,1204.3 655.9,1215.9 657.3,1208.0 658.7,1220.2 660.1,1226.7 661.5,1219.7 662.9,1231.5 664.3,1218.5 665.7,1229.8 667.1,1227.5 668.8,1225.9 670.5,1229.2 672.2,1233.8 673.9,1233.2 675.6,1237.5 677.2,1231.6 678.9,1241.1 680.6,1239.0 682.0,1237.3 683.4,1237.4 684.8,1237.3 686.2,1237.3 687.6,1250.3 689.0,1245.5 690.7,1245.0 692.4,1242.2 694.1,1242.5 695.8,1243.9 697.5,1249.1 699.2,1249.5 700.9,1249.0 702.5,1250.4 704.2,1253.7 705.9,1245.2 707.6,1239.2 709.3,1239.8 710.8,1233.8 712.3,1231.1 713.8,1235.6 715.4,1236.6 716.9,1225.1 718.4,1222.3 720.0,1227.7 721.6,1220.6 723.1,1218.4 724.7,1220.4 726.3,1222.1 727.8,1220.2 729.5,1220.1 731.3,1209.4 732.7,1187.1 734.1,1184.8 735.5,1190.6 736.9,1188.6 738.3,1193.7 739.7,1188.5 741.1,1193.5 742.5,1175.0 743.9,1189.5 745.3,1181.6 746.7,1216.8 748.1,1184.9 749.5,1187.2 750.9,1183.5 753.1,1231.6 755.1,1187.6 756.6,1187.2 758.0,1177.4 759.4,1188.0 760.8,1193.9 762.2,1204.8 763.6,1178.3 765.0,1174.8 766.4,1187.2 767.8,1189.4 769.2,1167.3 770.6,1191.0 772.0,1152.5 773.4,1182.3 774.8,1183.4 776.2,1202.5 777.6,1177.4 779.0,1195.3 780.4,1194.0 781.8,1181.9 783.3,1171.0 784.7,1180.8 786.1,1163.4 787.5,1198.4 788.9,1173.5 790.3,1183.5 791.9,1220.2 793.1,1161.4 794.5,1155.1 795.9,1146.7 797.3,1204.0 798.7,1165.6 800.1,1178.9 801.5,1173.7 802.9,1187.8 804.3,1183.8 805.7,1214.7 807.1,1211.6 808.5,1196.6 809.9,1219.5 811.4,1213.9 812.8,1236.8 814.2,1215.2 815.6,1226.1 817.0,1228.2 818.4,1231.9 819.8,1236.0 821.2,1222.6 822.6,1224.0 824.0,1225.4 825.4,1236.3 826.8,1231.3 828.2,1246.2 829.6,1263.7 831.0,1226.3 832.4,1234.6 833.8,1247.1 835.2,1239.0 836.6,1240.8 838.1,1233.7 839.5,1243.6 840.9,1245.7 842.3,1240.1 843.7,1242.5 845.1,1238.5 846.5,1242.0 847.9,1242.7 849.3,1240.3 850.7,1243.7 852.1,1249.6 853.5,1243.6 854.9,1253.1 856.3,1251.4 857.7,1246.6 859.1,1240.3 860.5,1247.7 861.9,1246.7 863.3,1253.5 864.8,1249.6 866.2,1250.8 867.6,1254.3 869.0,1247.9 870.9,1246.4 872.8,1250.4 874.5,1256.0 876.2,1251.9 877.9,1251.2 879.6,1245.5 881.3,1247.1 883.0,1253.3 884.8,1248.8 886.4,1247.4 888.1,1246.9 889.7,1243.9 891.1,1239.7 892.5,1239.0 893.9,1240.6 895.4,1239.9 897.0,1239.9 898.5,1231.6 900.0,1236.7 901.5,1230.0 903.0,1236.5 904.7,1217.8 906.4,1219.4 909.1,1225.1 910.6,1218.3 912.1,1216.1 913.7,1207.4 915.2,1208.5 916.7,1199.8 919.2,1203.0 921.2,1179.3 922.7,1177.7 924.2,1185.5 925.6,1186.7 927.5,1183.0 929.3,1170.4 930.9,1158.0 932.5,1148.3 934.4,1164.0 936.2,1175.5 938.1,1190.8 939.6,1172.5 941.1,1154.0 943.8,1127.9 945.4,1134.2 946.9,1143.5 948.4,1152.4" fill="none" stroke="#ff80ff" stroke-width="3.6" stroke-linejoin="round"/>
<polyline points="186.1,1137.7 187.5,1220.3 188.9,1209.3 190.3,1159.4 191.7,1119.7 193.1,1131.1 194.5,1211.7 195.9,1179.3 197.3,1192.3 198.7,1219.1 200.1,1148.5 201.5,1214.5 202.9,1161.5 204.3,1144.5 205.7,1180.3 207.1,1159.4 208.5,1191.7 209.9,1181.0 211.3,1145.7 212.8,1217.2 214.2,1181.3 215.6,1197.3 217.0,1209.4 218.4,1169.3 219.8,1126.5 221.2,1179.1 222.6,1155.2 224.0,1163.9 225.4,1174.6 226.8,1125.1 228.2,1221.6 229.6,1159.8 231.0,1175.6 232.4,1217.9 233.8,1118.7 235.2,1228.5 236.6,1214.7 238.0,1160.7 239.5,1158.0 240.9,1148.5 242.3,1197.0 243.7,1145.8 245.1,1256.0 246.5,1200.7 247.9,1182.4 249.3,1242.5 250.7,1158.8 252.1,1194.9 253.5,1183.6 254.9,1182.8 256.3,1191.8 257.7,1181.4 259.1,1177.3 260.5,1178.4 261.9,1196.9 263.3,1176.0 264.7,1192.2 266.2,1187.2 267.6,1186.6 269.0,1200.0 270.4,1241.0 271.8,1236.6 273.2,1209.1 274.6,1256.9 276.0,1225.2 277.4,1226.8 278.8,1241.6 280.2,1215.2 281.6,1249.1 283.0,1236.8 284.4,1227.4 285.8,1233.3 287.2,1239.7 288.6,1237.7 290.0,1244.7 291.4,1244.9 292.8,1254.2 294.3,1256.8 295.7,1246.1 297.1,1255.7 298.5,1257.6 299.9,1252.9 301.3,1248.5 302.7,1254.3 304.1,1256.7 305.5,1256.3 306.9,1250.6 308.3,1253.9 309.7,1262.9 311.1,1254.3 312.5,1255.1 313.9,1254.0 315.3,1255.9 316.7,1249.9 318.1,1250.2 319.5,1249.1 321.0,1256.6 322.4,1259.1 323.8,1260.6 325.2,1247.4 326.6,1265.3 328.0,1249.4 329.4,1244.5 330.8,1251.6 332.2,1244.7 333.6,1246.6 335.0,1238.7 336.4,1250.4 337.8,1242.6 339.2,1219.1 340.6,1220.4 342.0,1207.4 343.4,1214.4 344.8,1242.0 346.2,1242.2 347.7,1187.0 349.1,1218.3 350.5,1173.2 351.9,1175.3 353.3,1172.9 354.7,1164.7 356.1,1210.8 357.5,1137.3 358.9,1199.2 360.3,1130.3 361.7,1150.4 363.1,1138.8 364.5,1153.6 365.9,1131.1 367.3,1119.7 368.7,1119.1 370.1,1189.1 371.5,1138.8 372.9,1139.2 374.3,1161.8 375.8,1165.0 377.2,1153.0 378.6,1150.2 380.0,1178.7 381.4,1194.7 382.8,1167.2 384.2,1149.3 385.6,1153.2 387.0,1243.9 388.4,1152.0 389.8,1150.1 391.2,1134.6 392.6,1145.4 394.0,1213.5 395.4,1121.3 396.8,1135.8 398.2,1137.6 399.6,1205.5 401.0,1141.7 402.5,1138.2 403.9,1148.1 405.3,1163.4 406.7,1152.8 408.1,1168.5 409.5,1220.0 410.9,1168.7 412.3,1168.7 413.7,1181.4 415.1,1176.1 416.5,1203.3 417.9,1236.1 419.3,1175.4 420.7,1194.8 422.1,1197.0 423.5,1198.4 424.9,1197.6 426.3,1198.9 427.7,1200.3 429.1,1208.0 430.6,1201.7 432.0,1225.0 433.4,1222.6 434.8,1208.3 436.2,1249.5 437.6,1221.4 439.0,1221.8 440.4,1213.2 441.8,1227.1 443.2,1234.5 444.6,1251.6 446.0,1239.8 447.4,1244.7 448.8,1240.3 450.2,1244.1 451.6,1240.2 453.0,1245.6 454.4,1254.6 455.8,1258.8 457.3,1254.6 458.7,1254.4 460.1,1255.1 461.5,1254.6 462.9,1256.4 464.3,1255.2 465.7,1260.9 467.1,1251.1 468.5,1260.1 469.9,1257.1 471.3,1259.4 472.7,1246.5 474.1,1247.4 475.5,1252.9 476.9,1255.8 478.3,1257.2 479.7,1253.4 481.1,1251.1 482.5,1260.0 484.0,1253.6 485.4,1252.9 486.8,1255.4 488.2,1251.8 489.6,1259.8 491.0,1254.1 492.4,1260.1 493.8,1247.0 495.2,1251.5 496.6,1242.9 498.0,1243.4 499.4,1235.7 500.8,1236.1 502.2,1236.7 503.6,1240.4 505.0,1227.4 506.4,1219.3 507.8,1221.9 509.2,1214.1 510.6,1204.1 512.1,1207.2 513.5,1213.5 514.9,1187.0 516.3,1204.9 517.7,1203.0 519.1,1181.8 520.5,1181.9 521.9,1177.6 523.3,1196.8 524.7,1192.8 526.1,1184.6 527.5,1189.6 528.9,1181.5 530.3,1179.6 531.7,1201.2 533.1,1175.6 534.5,1171.1 535.9,1197.5 537.3,1198.9 538.8,1163.7 540.2,1160.8 541.6,1205.7 543.0,1167.5 544.4,1172.7 545.8,1186.5 547.2,1161.3 548.6,1204.7 550.0,1200.0 551.4,1151.0 552.8,1192.2 554.2,1167.9 555.6,1149.2 557.0,1167.9 558.4,1147.7 559.8,1150.9 561.2,1187.5 562.6,1152.0 564.0,1187.0 565.5,1152.0 566.9,1183.1 568.3,1144.2 569.7,1167.6 571.1,1149.7 572.5,1154.7 573.9,1144.1 575.3,1178.7 576.7,1171.5 578.1,1097.7 579.5,1154.2 580.9,1180.1 582.3,1184.8 583.7,1188.4 585.1,1183.4 586.5,1169.8 587.9,1176.3 589.3,1175.6 590.7,1180.1 592.1,1195.7 593.6,1210.2 595.0,1170.0 596.4,1182.1 597.8,1200.1 599.2,1181.3 600.6,1183.0 602.0,1202.3 603.4,1215.9 604.8,1205.8 606.2,1278.2 607.6,1196.5 609.0,1207.4 610.4,1203.1 611.8,1196.2 613.2,1226.1 614.6,1202.8 616.0,1216.3 617.4,1220.9 618.8,1222.6 620.3,1225.3 621.7,1227.5 623.1,1242.3 624.5,1226.8 625.9,1236.4 627.3,1238.9 628.7,1238.7 630.1,1235.6 631.5,1241.0 632.9,1250.9 634.3,1248.0 635.7,1249.1 637.1,1248.8 638.5,1245.9 639.9,1243.0 641.3,1237.2 642.7,1245.1 644.1,1250.6 645.5,1251.1 647.0,1240.5 648.4,1251.1 649.8,1248.9 651.2,1250.8 652.6,1248.5 654.0,1257.0 655.4,1252.0 656.8,1255.3 658.2,1262.3 659.6,1248.5 661.0,1257.6 662.4,1248.7 663.8,1259.3 665.2,1259.8 666.6,1261.0 668.0,1264.2 669.4,1261.9 670.8,1256.2 672.2,1261.1 673.6,1254.5 675.1,1257.0 676.5,1261.7 677.9,1257.1 679.3,1258.8 680.7,1260.4 682.1,1261.2 683.5,1259.8 684.9,1255.1 686.3,1258.1 687.7,1255.6 689.1,1261.7 690.5,1252.5 691.9,1258.5 693.3,1258.3 694.7,1255.7 696.1,1256.7 697.5,1261.0 698.9,1258.0 700.3,1258.0 701.8,1250.4 703.2,1253.0 704.6,1247.1 706.0,1248.9 707.4,1244.3 708.8,1246.0 710.2,1244.4 711.6,1240.0 713.0,1234.4 714.4,1237.1 715.8,1236.5 717.2,1239.1 718.6,1243.2 720.0,1232.8 721.4,1230.7 722.8,1243.1 724.2,1233.7 725.6,1230.5 727.0,1223.4 728.5,1214.7 729.9,1226.7 731.3,1222.7 732.7,1202.7 734.1,1191.8 735.5,1203.3 736.9,1199.0 738.3,1195.0 739.7,1197.5 741.1,1201.3 742.5,1186.3 743.9,1202.8 745.3,1194.6 746.7,1230.7 748.1,1191.5 749.5,1194.8 750.9,1192.6 752.3,1184.0 753.7,1207.3 755.1,1201.5 756.6,1201.2 758.0,1186.3 759.4,1193.0 760.8,1204.1 762.2,1205.1 763.6,1191.4 765.0,1184.1 766.4,1193.1 767.8,1199.8 769.2,1181.1 770.6,1195.9 772.0,1166.2 773.4,1196.1 774.8,1190.4 776.2,1211.7 777.6,1187.1 779.0,1206.9 780.4,1199.0 781.8,1194.3 783.3,1185.0 784.7,1185.2 786.1,1178.5 787.5,1212.8 788.9,1183.7 790.3,1189.2 791.7,1176.5 793.1,1173.3 794.5,1169.5 795.9,1148.3 797.3,1201.4 798.7,1169.3 800.1,1184.3 801.5,1183.0 802.9,1195.1 804.3,1196.6 805.7,1218.5 807.1,1223.0 808.5,1217.4 809.9,1228.2 811.4,1222.1 812.8,1237.0 814.2,1221.6 815.6,1233.7 817.0,1234.3 818.4,1239.5 819.8,1244.9 821.2,1230.3 822.6,1235.4 824.0,1243.5 825.4,1247.5 826.8,1243.2" fill="none" stroke="#2b9fe0" stroke-width="1.5" stroke-linejoin="round" marker-start="url(#mS)" marker-mid="url(#mS)" marker-end="url(#mS)"/>
<polyline points="186.1,1153.7 187.5,1238.7 188.9,1217.2 190.3,1172.3 191.7,1145.9 193.1,1154.4 194.5,1210.6 195.9,1194.9 197.3,1201.4 198.7,1216.4 200.1,1160.5 201.5,1208.9 202.9,1174.0 204.3,1162.6 205.7,1186.0 207.1,1172.0 208.5,1189.2 209.9,1185.8 211.3,1156.2 212.8,1209.7 214.2,1189.5 215.6,1199.8 217.0,1207.0 218.4,1174.4 219.8,1146.9 221.2,1186.6 222.6,1126.2 224.0,1177.1 225.4,1176.8 226.8,1152.1 228.2,1239.0 229.6,1175.4 231.0,1186.4 232.4,1221.5 233.8,1143.8 235.2,1230.8 236.6,1223.9 238.0,1172.4 239.5,1168.7 240.9,1169.0 242.3,1208.1 243.7,1166.1 245.1,1260.1 246.5,1208.4 247.9,1191.0 249.3,1242.1 250.7,1176.5 252.1,1200.1 253.5,1189.2 254.9,1180.7 256.3,1201.0 257.7,1183.7 259.1,1190.6 260.5,1180.2 261.9,1197.9 263.3,1179.5 264.7,1195.0 266.2,1189.2 267.6,1184.3 269.0,1197.6 270.4,1239.3 271.8,1225.6 273.2,1209.0 274.6,1268.4 276.0,1226.0 277.4,1233.3 278.8,1239.2 280.2,1219.9 281.6,1239.5 283.0,1230.3 284.4,1228.4 285.8,1234.7 287.2,1242.1 288.6,1239.8 290.0,1241.4 291.4,1242.8 292.8,1254.8 294.3,1251.7 295.7,1237.9 297.1,1255.0 298.5,1249.8 299.9,1249.6 301.3,1244.2 302.7,1248.4 304.1,1241.9 305.5,1245.5 306.9,1250.4 308.3,1240.5 309.7,1261.2 311.1,1252.9 312.5,1240.6 313.9,1243.0 315.3,1247.2 316.7,1243.4 318.1,1252.0 319.5,1236.7 321.0,1254.6 322.4,1249.0 323.8,1251.0 325.2,1242.5 326.6,1258.7 328.0,1244.1 329.4,1242.7 330.8,1239.7 332.2,1244.4 333.6,1236.6 335.0,1234.0 336.4,1247.1 337.8,1235.5 339.2,1218.5 340.6,1215.1 342.0,1208.1 343.4,1211.2 344.8,1234.8 346.2,1248.5 347.7,1189.8 349.1,1214.8 350.5,1178.7 351.9,1179.4 353.3,1177.8 354.7,1179.1 356.1,1219.2 357.5,1145.3 358.9,1190.4 360.3,1161.1 361.7,1160.5 363.1,1158.7 364.5,1165.7 365.9,1149.8 367.3,1131.0 368.7,1136.9 370.1,1193.3 371.5,1157.6 372.9,1160.1 374.3,1171.8 375.8,1174.2 377.2,1164.1 378.6,1164.6 380.0,1181.3 381.4,1207.4 382.8,1177.1 384.2,1158.4 385.6,1164.1 387.0,1224.2 388.4,1243.9 389.8,1165.0 391.2,1161.1 392.6,1158.9 394.0,1214.4 395.4,1121.3 396.8,1153.6 398.2,1152.5 399.6,1208.2 401.0,1166.5 402.5,1151.2 403.9,1160.6 405.3,1177.0 406.7,1169.0 408.1,1182.6 409.5,1216.8 410.9,1176.2 412.3,1185.0 413.7,1190.0 415.1,1182.4 416.5,1210.1 417.9,1238.2 419.3,1182.9 420.7,1201.8 422.1,1204.5 423.5,1200.8 424.9,1200.3 426.3,1197.3 427.7,1210.7 429.1,1211.3 430.6,1209.9 432.0,1227.6 433.4,1228.7 434.8,1209.0 436.2,1245.5 437.6,1220.5 439.0,1217.4 440.4,1217.5 441.8,1226.5 443.2,1232.3 444.6,1245.8 446.0,1240.2 447.4,1240.1 448.8,1239.2 450.2,1243.2 451.6,1233.5 453.0,1234.6 454.4,1247.4 455.8,1251.1 457.3,1253.4 458.7,1247.1 460.1,1257.8 461.5,1260.9 462.9,1253.6 464.3,1242.5 465.7,1257.5 467.1,1244.0 468.5,1247.1 469.9,1252.6 471.3,1255.1 472.7,1245.7 474.1,1240.6 475.5,1251.5 476.9,1244.4 478.3,1256.4 479.7,1250.2 481.1,1255.0 482.5,1254.5 484.0,1249.2 485.4,1247.6 486.8,1248.4 488.2,1249.0 489.6,1253.2 491.0,1252.2 492.4,1252.7 493.8,1244.9 495.2,1241.5 496.6,1238.1 498.0,1238.6 499.4,1231.1 500.8,1234.1 502.2,1228.3 503.6,1230.9 505.0,1220.8 506.4,1208.7 507.8,1209.1 509.2,1206.7 510.6,1203.4 512.1,1199.8 513.5,1213.2 514.9,1191.7 516.3,1194.0 517.7,1196.1 519.1,1181.0 520.5,1182.3 521.9,1175.1 523.3,1189.9 524.7,1186.0 526.1,1174.3 527.5,1190.1 528.9,1171.9 530.3,1167.4 531.7,1196.5 533.1,1164.5 534.5,1161.0 535.9,1184.1 537.3,1186.4 538.8,1160.3 540.2,1151.5 541.6,1197.5 543.0,1155.3 544.4,1166.7 545.8,1183.0 547.2,1152.9 548.6,1197.0 550.0,1199.4 551.4,1140.6 552.8,1194.7 554.2,1164.9 555.6,1132.2 557.0,1160.3 558.4,1137.3 559.8,1140.1 561.2,1192.2 562.6,1140.6 564.0,1177.0 565.5,1149.6 566.9,1184.0 568.3,1128.0 569.7,1166.2 571.1,1143.0 572.5,1149.6 573.9,1131.6 575.3,1178.1 576.7,1166.8 578.1,1109.1 579.5,1136.6 580.9,1176.4 582.3,1185.3 583.7,1179.5 585.1,1180.3 586.5,1167.8 587.9,1164.1 589.3,1177.8 590.7,1179.1 592.1,1190.1 593.6,1209.4 595.0,1165.4 596.4,1172.2 597.8,1190.3 599.2,1177.2 600.6,1185.5 602.0,1211.8 603.4,1210.3 604.8,1201.7 606.2,1269.2 607.6,1193.3 609.0,1204.4 610.4,1194.4 611.8,1189.4 613.2,1221.5 614.6,1197.7 616.0,1205.9 617.4,1216.2 618.8,1215.5 620.3,1220.6 621.7,1217.7 623.1,1234.0 624.5,1229.5 625.9,1237.8 627.3,1235.4 628.7,1232.2 630.1,1235.3 631.5,1237.3 632.9,1243.9 634.3,1239.0 635.7,1239.7 637.1,1241.7 638.5,1243.6 639.9,1245.3 641.3,1233.3 642.7,1249.6 644.1,1247.8 645.5,1249.7 647.0,1243.0 648.4,1244.9 649.8,1244.7 651.2,1248.0 652.6,1249.7 654.0,1250.0 655.4,1249.1 656.8,1247.3 658.2,1249.3 659.6,1253.3 661.0,1255.5 662.4,1248.6 663.8,1256.3 665.2,1255.0 666.6,1260.4 668.0,1256.0 669.4,1248.5 670.8,1249.7 672.2,1257.4 673.6,1251.0 675.1,1258.0 676.5,1263.5 677.9,1249.3 679.3,1251.9 680.7,1257.6 682.1,1254.5 683.5,1254.8 684.9,1248.3 686.3,1260.2 687.7,1254.8 689.1,1249.7 690.5,1244.6 691.9,1252.5 693.3,1254.3 694.7,1248.8 696.1,1257.3 697.5,1256.0 698.9,1248.7 700.3,1256.2 701.8,1250.6 703.2,1249.3 704.6,1247.3 706.0,1248.2 707.4,1242.4 708.8,1243.0 710.2,1241.6 711.6,1233.2 713.0,1232.1 714.4,1237.7 715.8,1238.2 717.2,1237.4 718.6,1246.5 720.0,1237.2 721.4,1230.7 722.8,1237.6 724.2,1227.8 725.6,1230.3 727.0,1224.1 728.5,1217.8 729.9,1215.0 731.3,1216.3 732.7,1194.4 734.1,1184.8 735.5,1188.9 736.9,1196.8 738.3,1191.6 739.7,1189.0 741.1,1192.8 742.5,1178.1 743.9,1196.8 745.3,1189.3 746.7,1215.8 748.1,1192.5 749.5,1185.1 750.9,1190.7 752.3,1177.1 753.7,1202.4 755.1,1187.5 756.6,1191.8 758.0,1185.0 759.4,1185.0 760.8,1198.7 762.2,1205.0 763.6,1182.4 765.0,1177.0 766.4,1186.7 767.8,1195.9 769.2,1165.0 770.6,1189.5 772.0,1159.6 773.4,1190.8 774.8,1184.1 776.2,1209.2 777.6,1185.5 779.0,1201.6 780.4,1193.5 781.8,1149.1 783.3,1241.4 784.7,1180.9 786.1,1172.9 787.5,1204.3 788.9,1172.1 790.3,1176.7 791.7,1167.2 793.1,1156.1 794.5,1150.6 795.9,1132.8 797.3,1199.4 798.7,1151.1 800.1,1170.0 801.5,1154.8 802.9,1166.5 804.3,1176.0 805.7,1196.4 807.1,1197.0 808.5,1182.5 809.9,1206.2 811.4,1191.2 812.8,1211.0 814.2,1194.6 815.6,1198.3 817.0,1193.8 818.4,1210.9 819.8,1209.3 821.2,1197.5 822.6,1204.2 824.0,1202.9 825.4,1208.9 826.8,1213.6 828.2,1227.4 829.6,1239.7 831.0,1219.8 832.4,1215.2 833.8,1230.5 835.2,1226.0 836.6,1226.4 838.1,1225.0 839.5,1231.8 840.9,1232.2 842.3,1230.2 843.7,1229.6" fill="none" stroke="#167a28" stroke-width="2" stroke-linejoin="round" marker-start="url(#mT)" marker-mid="url(#mT)" marker-end="url(#mT)"/>
<polyline points="186.1,1149.8 187.5,1234.1 188.9,1214.6 190.3,1168.8 191.7,1140.1 193.1,1149.0 194.5,1212.5 195.9,1187.3 197.3,1200.6 198.7,1215.6 200.1,1159.1 201.5,1211.3 202.9,1167.4 204.3,1155.3 205.7,1179.9 207.1,1167.4 208.5,1189.6 209.9,1180.3 211.3,1155.3 212.8,1213.3 214.2,1185.8 215.6,1196.8 217.0,1207.5 218.4,1177.3 219.8,1140.7 221.2,1188.0 222.6,1165.8 224.0,1175.1 225.4,1179.9 226.8,1147.1 228.2,1240.6 229.6,1171.8 231.0,1188.9 232.4,1220.9 233.8,1139.3 235.2,1230.9 236.6,1218.9 238.0,1171.7 239.5,1169.9 240.9,1166.8 242.3,1206.4 243.7,1162.4 245.1,1254.5 246.5,1208.5 247.9,1192.3 249.3,1244.9 250.7,1172.2 252.1,1196.3 253.5,1184.2 254.9,1179.0 256.3,1187.6 257.7,1172.3 259.1,1175.8 260.5,1174.2 261.9,1188.8 263.3,1174.1 264.7,1186.7 266.2,1181.0 267.6,1180.3 269.0,1192.5 270.4,1230.9 271.8,1224.1 273.2,1202.6 274.6,1256.9 276.0,1217.7 277.4,1221.3 278.8,1229.4 280.2,1209.2 281.6,1232.9 283.0,1226.4 284.4,1219.3 285.8,1225.6 287.2,1225.2 288.6,1227.3 290.0,1230.8 291.4,1228.6 292.8,1239.0 294.3,1241.2 295.7,1228.0 297.1,1239.0 298.5,1240.3 299.9,1236.6 301.3,1234.3 302.7,1234.3 304.1,1233.2 305.5,1234.9 306.9,1235.0 308.3,1232.2 309.7,1243.6 311.1,1239.5 312.5,1236.5 313.9,1236.8 315.3,1235.3 316.7,1233.4 318.1,1237.3 319.5,1230.5 321.0,1240.1 322.4,1239.3 323.8,1241.8 325.2,1230.8 326.6,1246.1 328.0,1232.4 329.4,1232.3 330.8,1230.1 332.2,1228.6 333.6,1226.5 335.0,1222.4 336.4,1237.8 337.8,1228.2 339.2,1207.5 340.6,1205.8 342.0,1197.2 343.4,1204.9 344.8,1230.1 346.2,1240.6 347.7,1186.9 349.1,1209.0 350.5,1171.6 351.9,1177.7 353.3,1173.9 354.7,1168.9 356.1,1204.4 357.5,1146.2 358.9,1193.9 360.3,1146.4 361.7,1154.6 363.1,1150.2 364.5,1163.8 365.9,1146.7 367.3,1129.5 368.7,1133.7 370.1,1194.5 371.5,1146.3 372.9,1147.4 374.3,1166.3 375.8,1171.4 377.2,1161.3 378.6,1157.2 380.0,1182.9 381.4,1199.8 382.8,1169.7 384.2,1158.1 385.6,1163.1 387.0,1221.8 388.4,1168.7 389.8,1165.0 391.2,1155.4 392.6,1157.0 394.0,1214.7 395.4,1132.0 396.8,1148.5 398.2,1150.2 399.6,1203.7 401.0,1159.7 402.5,1150.3 403.9,1157.4 405.3,1172.5 406.7,1161.6 408.1,1175.2 409.5,1217.7 410.9,1173.2 412.3,1177.2 413.7,1182.8 415.1,1172.4 416.5,1200.8 417.9,1227.8 419.3,1175.0 420.7,1193.5 422.1,1197.0 423.5,1190.1 424.9,1194.3 426.3,1192.6 427.7,1195.5 429.1,1201.6 430.6,1198.7 432.0,1218.9 433.4,1216.5 434.8,1203.1 436.2,1237.8 437.6,1212.5 439.0,1211.7 440.4,1212.6 441.8,1217.7 443.2,1226.3 444.6,1238.3 446.0,1230.0 447.4,1230.5 448.8,1226.4 450.2,1231.1 451.6,1227.7 453.0,1230.1 454.4,1237.4 455.8,1239.7 457.3,1239.9 458.7,1241.7 460.1,1242.5 461.5,1241.8 462.9,1241.9 464.3,1238.0 465.7,1247.0 467.1,1235.4 468.5,1240.0 469.9,1239.4 471.3,1239.6 472.7,1235.7 474.1,1231.9 475.5,1241.2 476.9,1241.3 478.3,1241.6 479.7,1238.6 481.1,1242.3 482.5,1246.3 484.0,1240.3 485.4,1237.9 486.8,1239.3 488.2,1238.3 489.6,1240.6 491.0,1240.6 492.4,1243.8 493.8,1235.7 495.2,1232.8 496.6,1229.7 498.0,1226.2 499.4,1220.3 500.8,1222.6 502.2,1219.6 503.6,1222.3 505.0,1213.9 506.4,1204.7 507.8,1201.6 509.2,1196.3 510.6,1192.3 512.1,1191.7 513.5,1203.0 514.9,1178.7 516.3,1189.1 517.7,1188.4 519.1,1174.6 520.5,1173.0 521.9,1172.8 523.3,1189.5 524.7,1186.5 526.1,1175.2 527.5,1184.1 528.9,1171.5 530.3,1167.2 531.7,1192.0 533.1,1167.1 534.5,1159.4 535.9,1189.2 537.3,1189.1 538.8,1158.2 540.2,1157.7 541.6,1195.4 543.0,1162.9 544.4,1165.9 545.8,1180.9 547.2,1159.9 548.6,1205.2 550.0,1198.5 551.4,1148.4 552.8,1195.8 554.2,1167.5 555.6,1143.3 557.0,1166.4 558.4,1149.6 559.8,1149.0 561.2,1186.5 562.6,1151.6 564.0,1180.7 565.5,1154.9 566.9,1180.8 568.3,1137.6 569.7,1169.2 571.1,1146.9 572.5,1153.6 573.9,1134.4 575.3,1177.8 576.7,1172.0 578.1,1197.7 579.5,1145.4 580.9,1175.0 582.3,1181.6 583.7,1183.8 585.1,1175.9 586.5,1170.3 587.9,1169.6 589.3,1173.9 590.7,1176.2 592.1,1192.0 593.6,1204.1 595.0,1170.4 596.4,1172.9 597.8,1189.7 599.2,1175.8 600.6,1184.0 602.0,1197.0 603.4,1206.0 604.8,1195.3 606.2,1256.1 607.6,1188.9 609.0,1195.6 610.4,1194.2 611.8,1189.4 613.2,1217.9 614.6,1197.5 616.0,1204.7 617.4,1211.3 618.8,1212.5 620.3,1219.3 621.7,1214.9 623.1,1233.8 624.5,1219.0 625.9,1228.0 627.3,1227.7 628.7,1226.8 630.1,1226.3 631.5,1229.4 632.9,1238.6 634.3,1232.0 635.7,1231.4 637.1,1236.6 638.5,1233.3 639.9,1233.2 641.3,1229.0 642.7,1234.3 644.1,1240.3 645.5,1240.5 647.0,1233.8 648.4,1241.5 649.8,1238.1 651.2,1239.2 652.6,1239.1 654.0,1242.1 655.4,1239.0 656.8,1240.7 658.2,1248.4 659.6,1241.7 661.0,1249.5 662.4,1240.9 663.8,1248.8 665.2,1246.3 666.6,1247.9 668.0,1248.0 669.4,1243.6 670.8,1245.5 672.2,1247.6 673.6,1241.6 675.1,1249.5 676.5,1252.2 677.9,1246.9 679.3,1243.9 680.7,1250.1 682.1,1247.4 683.5,1245.7 684.9,1239.9 686.3,1245.6 687.7,1250.2 689.1,1245.2 690.5,1239.9 691.9,1245.6 693.3,1249.8 694.7,1243.0 696.1,1246.1 697.5,1249.2 698.9,1243.2 700.3,1246.4 701.8,1236.7 703.2,1242.7 704.6,1238.9 706.0,1235.6 707.4,1233.5 708.8,1232.1 710.2,1232.2 711.6,1228.2 713.0,1226.0 714.4,1229.6 715.8,1225.5 717.2,1226.4 718.6,1232.5 720.0,1224.8 721.4,1224.4 722.8,1228.7 724.2,1220.1 725.6,1224.0 727.0,1214.6 728.5,1209.8 729.9,1217.6 731.3,1212.4 732.7,1192.2 734.1,1185.1 735.5,1191.5 736.9,1193.5 738.3,1190.1 739.7,1191.2 741.1,1190.9 742.5,1180.3 743.9,1194.1 745.3,1187.0 746.7,1221.8 748.1,1187.7 749.5,1183.8 750.9,1185.1 752.3,1175.5 753.7,1200.9 755.1,1190.5 756.6,1188.8 758.0,1177.0 759.4,1188.5 760.8,1195.2 762.2,1201.5 763.6,1180.6 765.0,1176.6 766.4,1186.8 767.8,1191.6 769.2,1171.1 770.6,1187.6 772.0,1157.3 773.4,1185.7 774.8,1186.7 776.2,1205.7 777.6,1179.8 779.0,1195.3 780.4,1191.6 781.8,1183.6 783.3,1171.5 784.7,1178.5 786.1,1169.2 787.5,1201.1 788.9,1172.5 790.3,1178.4 791.7,1164.1 793.1,1158.6 794.5,1156.6 795.9,1145.8 797.3,1199.7 798.7,1166.5 800.1,1178.4 801.5,1172.4 802.9,1183.7 804.3,1184.9 805.7,1211.2 807.1,1210.9 808.5,1200.4 809.9,1223.6 811.4,1213.5 812.8,1226.7 814.2,1217.7 815.6,1223.1 817.0,1223.6 818.4,1234.3 819.8,1229.9 821.2,1225.0 822.6,1227.0 824.0,1227.1 825.4,1237.0 826.8,1230.9 828.2,1244.6 829.6,1260.2 831.0,1234.0 832.4,1233.1 833.8,1244.1 835.2,1238.7 836.6,1242.7 838.1,1237.1 839.5,1242.9 840.9,1245.0 842.3,1237.4 843.7,1241.7 845.1,1241.3 846.5,1241.8 847.9,1241.5 849.3,1240.8 850.7,1241.1 852.1,1242.5 853.5,1242.0 854.9,1243.4 856.3,1250.5 857.7,1247.9 859.1,1243.6 860.5,1249.5 861.9,1246.8 863.3,1250.1 864.8,1246.0 866.2,1250.1" fill="none" stroke="#ef722f" stroke-width="2.2" stroke-linejoin="round" marker-start="url(#mC)" marker-mid="url(#mC)" marker-end="url(#mC)"/>
</g>
<path d="M120.8 982.5H963.9V1309.2" stroke="#505050" stroke-width="1.5" fill="none"/>
<path d="M120.8 982.5V1309.2M120.8 1309.2H963.9M112.8 1309.2H120.8M112.8 1227.5H120.8M112.8 1145.8H120.8M112.8 1064.2H120.8M112.8 982.5H120.8M120.8 1309.2V1317.2M137.7 1303.2V1309.2M154.5 1303.2V1309.2M171.4 1303.2V1309.2M188.2 1303.2V1309.2M205.1 1309.2V1317.2M222 1303.2V1309.2M238.8 1303.2V1309.2M255.7 1303.2V1309.2M272.6 1303.2V1309.2M289.4 1309.2V1317.2M306.3 1303.2V1309.2M323.1 1303.2V1309.2M340 1303.2V1309.2M356.9 1303.2V1309.2M373.7 1309.2V1317.2M390.6 1303.2V1309.2M407.5 1303.2V1309.2M424.3 1303.2V1309.2M441.2 1303.2V1309.2M458 1309.2V1317.2M474.9 1303.2V1309.2M491.8 1303.2V1309.2M508.6 1303.2V1309.2M525.5 1303.2V1309.2M542.4 1309.2V1317.2M559.2 1303.2V1309.2M576.1 1303.2V1309.2M592.9 1303.2V1309.2M609.8 1303.2V1309.2M626.7 1309.2V1317.2M643.5 1303.2V1309.2M660.4 1303.2V1309.2M677.2 1303.2V1309.2M694.1 1303.2V1309.2M711 1309.2V1317.2M727.8 1303.2V1309.2M744.7 1303.2V1309.2M761.6 1303.2V1309.2M778.4 1303.2V1309.2M795.3 1309.2V1317.2M812.1 1303.2V1309.2M829 1303.2V1309.2M845.9 1303.2V1309.2M862.7 1303.2V1309.2M879.6 1309.2V1317.2M896.5 1303.2V1309.2M913.3 1303.2V1309.2M930.2 1303.2V1309.2M947 1303.2V1309.2M963.9 1309.2V1317.2" stroke="#333" stroke-width="1.6" fill="none"/>
<text x="120.8" y="1350.7" text-anchor="middle" class="tk">1975</text>
<text x="205.1" y="1350.7" text-anchor="middle" class="tk">1980</text>
<text x="289.4" y="1350.7" text-anchor="middle" class="tk">1985</text>
<text x="373.7" y="1350.7" text-anchor="middle" class="tk">1990</text>
<text x="458" y="1350.7" text-anchor="middle" class="tk">1995</text>
<text x="542.4" y="1350.7" text-anchor="middle" class="tk">2000</text>
<text x="626.7" y="1350.7" text-anchor="middle" class="tk">2005</text>
<text x="711" y="1350.7" text-anchor="middle" class="tk">2010</text>
<text x="795.3" y="1350.7" text-anchor="middle" class="tk">2015</text>
<text x="879.6" y="1350.7" text-anchor="middle" class="tk">2020</text>
<text x="963.9" y="1350.7" text-anchor="middle" class="tk">2025</text>
<text x="97.3" y="1318.7" text-anchor="end" class="tk">1362</text>
<text x="97.3" y="1237" text-anchor="end" class="tk">1363</text>
<text x="97.3" y="1155.3" text-anchor="end" class="tk">1364</text>
<text x="97.3" y="1073.7" text-anchor="end" class="tk">1365</text>
<text x="97.3" y="992" text-anchor="end" class="tk">1366</text>
<text x="126.3" y="969.4" class="pl">(c) Group C</text>
<text transform="translate(25.8 1145.8) rotate(-90)" text-anchor="middle" class="yl">TSI at 1au (W m<tspan dy="-10" font-size="19">-2</tspan><tspan dy="10">)</tspan></text>
<path d="M1277.7 106.4V433.9M1362.1 106.4V433.9M1446.4 106.4V433.9M1530.8 106.4V433.9M1615.1 106.4V433.9M1699.4 106.4V433.9M1783.8 106.4V433.9M1868.1 106.4V433.9M1952.5 106.4V433.9M1193.4 352H2036.8M1193.4 270.1H2036.8M1193.4 188.3H2036.8" stroke="#d9d9d9" stroke-width="1.2" fill="none"/>
<g filter="url(#sh)">
<polyline points="1258.5,298.0 1260.2,238.2 1261.9,227.9 1263.6,194.0 1265.3,158.0 1267.6,195.6 1269.8,227.6 1272.0,263.6 1273.5,256.2 1275.0,251.2 1276.6,241.5 1278.2,265.6 1279.9,254.6 1281.7,274.7 1283.5,263.6 1284.9,282.2 1286.4,288.6 1287.9,277.5 1289.5,272.0 1291.2,270.6 1292.9,268.1 1294.6,257.0 1296.3,270.0 1298.0,286.5 1299.4,340.3 1300.8,394.7 1302.3,319.0 1303.9,399.5 1305.1,365.8 1306.5,288.7 1307.9,376.6 1309.3,366.3 1310.7,319.9 1312.1,322.5 1313.5,316.6 1314.9,355.0 1316.3,313.3 1318.2,397.9 1319.1,356.9 1320.5,344.0 1321.9,392.3 1323.3,320.0 1324.7,346.8 1326.2,336.2 1327.6,326.1 1329.0,339.5 1330.4,326.6 1331.8,321.2 1333.2,320.0 1334.6,340.6 1336.8,368.4 1338.8,335.0 1340.2,331.1 1341.6,341.0 1343.0,380.2 1344.4,371.5 1345.7,431.4 1347.2,410.2 1348.6,369.7 1350.0,372.8 1351.5,387.3 1352.9,365.8 1354.3,385.4 1355.7,380.0 1357.1,377.8 1358.5,379.7 1359.9,389.7 1361.3,391.7 1362.7,395.4 1364.1,390.9 1365.5,401.8 1366.9,401.8 1368.3,390.6 1369.7,395.3 1371.1,406.5 1372.5,400.4 1373.9,393.7 1375.3,400.2 1376.8,388.9 1378.2,399.4 1379.6,397.3 1381.0,395.8 1382.4,406.9 1383.8,399.7 1385.2,395.4 1386.6,400.2 1388.0,391.8 1389.4,394.2 1390.8,400.7 1392.2,393.9 1393.6,400.6 1395.0,399.1 1396.4,402.3 1397.8,396.7 1399.2,410.0 1400.7,390.9 1402.1,390.5 1403.5,387.3 1404.9,393.8 1406.3,393.1 1407.7,381.7 1409.1,399.4 1410.5,391.0 1411.9,361.3 1413.3,367.8 1414.7,354.3 1416.1,368.1 1417.5,386.6 1418.9,401.9 1420.3,341.5 1421.6,395.4 1423.1,324.9 1424.5,337.8 1426.0,325.3 1427.4,320.1 1428.8,356.1 1430.2,298.2 1431.6,345.6 1433.0,299.4 1434.4,309.0 1435.8,305.6 1437.2,311.8 1438.6,289.0 1440.0,278.8 1442.2,359.4 1443.6,341.9 1445.1,341.0 1446.5,333.7 1448.0,303.5 1449.4,296.0 1450.9,291.4 1452.3,263.6 1453.7,272.9 1455.1,289.0 1456.5,277.5 1458.2,258.0 1459.9,258.1 1461.6,262.0 1463.3,298.5 1465.0,286.5 1466.6,260.9 1468.2,231.7 1470.0,268.4 1471.7,263.6 1473.4,259.5 1475.1,282.4 1476.8,289.7 1478.5,259.5 1481.0,278.3 1482.5,275.1 1484.0,245.6 1485.6,265.6 1487.1,295.6 1488.6,298.0 1490.1,295.1 1491.6,305.8 1493.1,309.5 1495.0,301.8 1496.9,301.8 1498.7,304.5 1500.1,321.4 1501.6,322.2 1503.0,303.4 1504.4,318.5 1506.2,308.5 1508.0,311.1 1509.7,328.4 1511.4,325.0 1513.0,323.5 1514.7,319.3 1516.4,337.3 1518.1,331.6 1519.8,328.7 1521.5,327.5 1523.2,330.3 1524.9,343.0 1526.4,338.1 1527.9,347.7 1529.4,336.5 1530.9,346.1 1532.4,347.9 1534.3,346.1 1536.2,350.4 1537.7,349.7 1539.2,343.8 1541.1,341.3 1543.1,343.0 1544.6,350.5 1546.1,357.5 1547.6,359.4 1549.1,360.9 1550.6,370.3 1552.0,377.4 1553.5,374.1 1555.0,359.2 1556.6,361.0 1558.4,358.3 1560.3,353.7 1561.9,346.8 1563.5,345.5 1565.3,347.2 1567.0,352.0 1568.6,353.1 1570.2,350.4 1572.0,350.0 1573.8,335.6 1575.4,323.2 1577.0,325.0 1578.7,330.7 1580.5,327.5 1582.2,318.2 1583.9,320.1 1585.6,317.1 1587.3,311.1 1589.0,305.8 1590.6,300.4 1592.3,305.9 1594.0,302.9 1595.7,285.8 1597.4,281.6 1598.9,300.4 1600.4,278.8 1601.9,293.1 1603.6,297.5 1605.3,274.2 1607.0,266.4 1608.7,261.1 1610.6,260.1 1612.6,278.3 1614.1,287.9 1615.6,263.6 1617.5,276.0 1619.3,286.5 1620.8,255.4 1622.4,231.7 1623.8,274.5 1625.2,274.2 1626.7,248.1 1628.1,227.6 1629.8,243.0 1631.5,241.5 1633.1,245.1 1634.8,245.6 1636.4,241.9 1637.9,274.2 1639.7,262.5 1641.6,263.6 1643.5,271.2 1645.5,278.3 1647.5,251.9 1649.5,215.3 1651.2,229.2 1652.9,218.6 1654.4,245.3 1655.9,263.0 1657.4,281.6 1659.5,271.3 1661.5,270.1 1663.4,272.9 1665.4,252.1 1666.9,257.2 1668.4,289.4 1669.9,304.5 1671.6,303.6 1673.3,290.6 1675.1,296.4 1676.8,293.1 1678.3,290.7 1679.8,292.9 1681.2,298.0 1682.7,295.5 1684.3,316.1 1685.8,331.6 1688.5,319.3 1690.0,316.7 1691.5,327.5 1693.4,316.8 1695.2,319.3 1696.7,316.5 1698.3,307.0 1700.1,317.0 1702.0,335.6 1703.6,342.9 1705.2,347.9 1706.9,336.5 1708.7,337.3 1710.3,339.2 1711.9,334.0 1713.7,332.3 1715.5,347.9 1717.1,340.7 1718.7,340.6 1720.4,350.7 1722.2,350.4 1723.9,348.7 1725.6,352.0 1727.3,352.5 1729.0,347.9 1730.6,351.9 1732.3,356.9 1734.0,352.0 1735.7,353.7 1737.4,352.0 1739.1,361.0 1740.8,366.0 1742.5,358.6 1744.2,356.2 1746.0,356.9 1747.6,362.1 1749.2,363.5 1751.0,359.4 1752.7,361.0 1755.1,365.1 1756.7,368.8 1758.3,368.4 1760.1,362.5 1761.9,361.8 1763.5,366.7 1765.2,357.8 1766.6,357.7 1768.0,366.6 1769.4,364.3 1771.3,361.9 1773.2,363.5 1774.8,363.5 1776.5,361.8 1778.2,357.8 1779.9,359.4 1781.6,350.4 1783.3,352.0 1785.0,349.8 1786.6,340.6 1788.3,339.0 1790.0,347.9 1791.8,343.4 1793.6,343.0 1795.3,342.3 1796.9,345.5 1798.6,342.9 1800.3,336.5 1802.3,342.2 1804.9,318.5 1806.4,335.7 1807.9,332.8 1809.4,331.6 1811.1,326.5 1812.8,319.3 1814.5,296.9 1816.2,293.1 1817.7,311.6 1819.2,311.1 1821.9,320.1 1823.5,323.2 1825.1,307.0 1826.9,303.3 1828.6,295.5 1830.3,310.4 1831.9,315.2 1834.4,309.5 1835.9,316.0 1837.4,303.7 1838.9,302.1 1840.5,312.9 1842.0,311.1 1843.8,292.3 1845.7,295.5 1847.3,292.8 1848.8,311.2 1850.4,302.9 1851.9,299.4 1853.3,291.7 1854.8,284.1 1856.3,281.5 1857.8,301.4 1859.3,302.1 1860.9,302.1 1862.4,292.0 1863.9,294.7 1865.8,273.1 1867.6,268.3 1869.5,266.1 1870.9,289.0 1872.3,286.5 1873.8,283.8 1875.2,293.1 1876.9,299.5 1878.6,302.9 1880.3,309.2 1882.0,309.5 1883.5,307.1 1885.0,311.1 1887.7,316.0 1889.3,313.9 1890.9,327.5 1893.3,336.5 1895.0,338.6 1896.8,343.8 1898.5,347.3 1900.2,350.4 1901.6,348.6 1903.1,348.6 1904.6,354.5 1906.2,359.1 1907.8,352.2 1909.4,352.0 1911.2,350.3 1913.0,353.0 1914.8,356.9 1916.4,369.2 1917.9,364.3 1919.7,362.7 1921.6,372.5 1923.5,372.8 1925.5,368.4 1927.5,374.8 1929.5,370.0 1931.3,365.2 1933.1,366.8 1934.7,369.6 1936.4,369.2 1938.1,373.0 1939.8,372.5 1941.5,376.6 1943.2,374.9 1944.9,373.4 1946.6,376.6 1948.2,378.5 1949.9,380.7 1951.6,375.0 1953.3,376.6 1955.1,375.4 1956.8,378.2 1958.4,379.1 1960.1,374.9 1962.4,368.4 1965.1,364.3 1966.6,351.8 1968.1,350.4 1969.6,348.8 1971.0,356.1 1973.0,365.8 1974.9,361.0 1976.3,352.5 1977.8,352.0 1979.7,349.0 1981.6,343.0 1983.5,336.8 1985.4,335.6 1987.0,326.6 1988.6,322.6 1991.3,327.5 1993.1,307.0 1995.5,315.2 1997.5,300.4 1999.3,298.8 2001.0,320.1 2002.5,296.7 2003.9,294.7 2005.3,278.9 2006.8,271.0 2008.2,292.9 2009.7,313.0 2011.2,327.5 2013.5,294.7 2015.7,275.1 2017.9,295.5 2020.3,286.5" fill="none" stroke="#ff2d8f" stroke-width="3.6" stroke-linejoin="round"/>
<polyline points="1258.7,281.6 1260.1,364.5 1261.5,353.4 1262.9,303.4 1264.3,263.6 1265.7,275.0 1267.1,355.8 1268.5,323.3 1269.9,336.4 1271.3,363.2 1272.7,292.5 1274.1,358.6 1275.5,305.4 1277.0,288.5 1278.4,324.3 1279.8,303.4 1281.2,335.8 1282.6,325.0 1284.0,289.7 1285.4,361.3 1286.8,325.3 1288.2,341.4 1289.6,353.5 1291.0,313.3 1292.4,270.4 1293.8,323.2 1295.2,299.1 1296.6,307.9 1298.0,318.6 1299.4,269.0 1300.8,365.7 1302.3,303.8 1303.7,319.6 1305.1,362.0 1306.5,262.6 1307.9,372.7 1309.3,358.8 1310.7,304.7 1312.1,302.0 1313.5,292.5 1314.9,341.1 1316.3,289.7 1317.7,400.2 1319.1,344.8 1320.5,326.4 1321.9,386.7 1323.3,302.8 1324.7,339.0 1326.2,327.6 1327.6,326.9 1329.0,335.9 1330.4,325.4 1331.8,321.3 1333.2,322.4 1334.6,341.0 1336.0,320.0 1337.4,336.2 1338.8,331.2 1340.2,330.6 1341.6,344.1 1343.0,385.2 1344.4,380.7 1345.8,353.2 1347.2,401.1 1348.6,369.3 1350.0,370.9 1351.5,385.8 1352.9,359.4 1354.3,393.3 1355.7,381.0 1357.1,371.6 1358.5,377.4 1359.9,383.9 1361.3,381.9 1362.7,388.9 1364.1,389.1 1365.5,398.4 1366.9,401.0 1368.3,390.3 1369.7,399.9 1371.1,401.8 1372.5,397.2 1373.9,392.7 1375.3,398.5 1376.8,400.9 1378.2,400.5 1379.6,394.8 1381.0,398.1 1382.4,407.1 1383.8,398.5 1385.2,399.3 1386.6,398.3 1388.0,400.1 1389.4,394.1 1390.8,394.4 1392.2,393.3 1393.6,400.8 1395.0,403.4 1396.4,404.9 1397.8,391.6 1399.2,409.5 1400.7,393.6 1402.1,388.7 1403.5,395.8 1404.9,388.9 1406.3,390.8 1407.7,382.8 1409.1,394.6 1410.5,386.8 1411.9,363.2 1413.3,364.6 1414.7,351.5 1416.1,358.5 1417.5,386.2 1418.9,386.4 1420.3,331.0 1421.7,362.5 1423.1,317.3 1424.5,319.3 1426.0,316.9 1427.4,308.7 1428.8,354.9 1430.2,281.2 1431.6,343.3 1433.0,274.2 1434.4,294.4 1435.8,282.7 1437.2,297.6 1438.6,275.0 1440.0,263.6 1441.4,263.0 1442.8,333.2 1444.2,282.7 1445.6,283.1 1447.0,305.8 1448.4,309.0 1449.8,297.0 1451.3,294.2 1452.7,322.7 1454.1,338.8 1455.5,311.2 1456.9,293.2 1458.3,297.2 1459.7,388.0 1461.1,296.0 1462.5,294.0 1463.9,278.5 1465.3,289.4 1466.7,357.6 1468.1,265.2 1469.5,279.7 1470.9,281.5 1472.3,349.6 1473.7,285.6 1475.2,282.2 1476.6,292.1 1478.0,307.4 1479.4,296.7 1480.8,312.5 1482.2,364.1 1483.6,312.7 1485.0,312.7 1486.4,325.5 1487.8,320.1 1489.2,347.4 1490.6,380.3 1492.0,319.4 1493.4,338.9 1494.8,341.1 1496.2,342.5 1497.6,341.7 1499.0,343.0 1500.5,344.4 1501.9,352.1 1503.3,345.8 1504.7,369.2 1506.1,366.8 1507.5,352.4 1508.9,393.7 1510.3,365.6 1511.7,366.0 1513.1,357.3 1514.5,371.3 1515.9,378.7 1517.3,395.8 1518.7,384.0 1520.1,388.9 1521.5,384.4 1522.9,388.3 1524.4,384.4 1525.8,389.8 1527.2,398.9 1528.6,403.0 1530.0,398.8 1531.4,398.7 1532.8,399.3 1534.2,398.8 1535.6,400.7 1537.0,399.4 1538.4,405.2 1539.8,395.3 1541.2,404.3 1542.6,401.3 1544.0,403.7 1545.4,390.7 1546.8,391.6 1548.2,397.1 1549.7,400.0 1551.1,401.4 1552.5,397.7 1553.9,395.3 1555.3,404.2 1556.7,397.8 1558.1,397.1 1559.5,399.6 1560.9,396.0 1562.3,404.0 1563.7,398.3 1565.1,404.3 1566.5,391.2 1567.9,395.7 1569.3,387.1 1570.7,387.6 1572.1,379.9 1573.5,380.3 1575.0,380.9 1576.4,384.6 1577.8,371.6 1579.2,363.4 1580.6,366.0 1582.0,358.2 1583.4,348.2 1584.8,351.3 1586.2,357.6 1587.6,331.0 1589.0,349.0 1590.4,347.1 1591.8,325.9 1593.2,326.0 1594.6,321.6 1596.0,340.9 1597.4,336.8 1598.9,328.7 1600.3,333.7 1601.7,325.6 1603.1,323.6 1604.5,345.3 1605.9,319.6 1607.3,315.1 1608.7,341.6 1610.1,343.0 1611.5,307.7 1612.9,304.8 1614.3,349.8 1615.7,311.5 1617.1,316.7 1618.5,330.5 1619.9,305.3 1621.3,348.7 1622.7,344.1 1624.2,295.0 1625.6,336.2 1627.0,311.9 1628.4,293.1 1629.8,311.9 1631.2,291.6 1632.6,294.8 1634.0,331.5 1635.4,295.9 1636.8,331.1 1638.2,296.0 1639.6,327.1 1641.0,288.2 1642.4,311.6 1643.8,293.7 1645.2,298.6 1646.6,288.1 1648.0,322.8 1649.5,315.5 1650.9,241.5 1652.3,298.1 1653.7,324.2 1655.1,328.9 1656.5,332.5 1657.9,327.4 1659.3,313.8 1660.7,320.3 1662.1,319.6 1663.5,324.2 1664.9,339.8 1666.3,354.4 1667.7,314.0 1669.1,326.1 1670.5,344.1 1671.9,325.4 1673.4,327.0 1674.8,346.4 1676.2,360.0 1677.6,349.9 1679.0,422.4 1680.4,340.6 1681.8,351.5 1683.2,347.2 1684.6,340.2 1686.0,370.3 1687.4,346.9 1688.8,360.4 1690.2,365.1 1691.6,366.8 1693.0,369.5 1694.4,371.6 1695.8,386.5 1697.2,371.0 1698.7,380.6 1700.1,383.1 1701.5,382.8 1702.9,379.8 1704.3,385.2 1705.7,395.1 1707.1,392.2 1708.5,393.3 1709.9,393.0 1711.3,390.1 1712.7,387.2 1714.1,381.4 1715.5,389.2 1716.9,394.8 1718.3,395.3 1719.7,384.7 1721.1,395.3 1722.5,393.1 1724.0,395.0 1725.4,392.7 1726.8,401.2 1728.2,396.3 1729.6,399.5 1731.0,406.6 1732.4,392.7 1733.8,401.8 1735.2,392.9 1736.6,403.6 1738.0,404.0 1739.4,405.3 1740.8,408.5 1742.2,406.1 1743.6,400.4 1745.0,405.3 1746.4,398.7 1747.9,401.3 1749.3,405.9 1750.7,401.3 1752.1,403.1 1753.5,404.6 1754.9,405.5 1756.3,404.0 1757.7,399.3 1759.1,402.3 1760.5,399.9 1761.9,406.0 1763.3,396.7 1764.7,402.7 1766.1,402.5 1767.5,400.0 1768.9,401.0 1770.3,405.2 1771.7,402.3 1773.2,402.2 1774.6,394.6 1776.0,397.3 1777.4,391.3 1778.8,393.1 1780.2,388.4 1781.6,390.2 1783.0,388.6 1784.4,384.2 1785.8,378.6 1787.2,381.3 1788.6,380.7 1790.0,383.3 1791.4,387.4 1792.8,376.9 1794.2,374.9 1795.6,387.3 1797.0,377.9 1798.5,374.7 1799.9,367.6 1801.3,358.8 1802.7,370.8 1804.1,366.8 1805.5,346.8 1806.9,335.9 1808.3,347.3 1809.7,343.0 1811.1,339.1 1812.5,341.6 1813.9,345.4 1815.3,330.4 1816.7,346.9 1818.1,338.7 1819.5,374.9 1820.9,335.6 1822.4,338.9 1823.8,336.6 1825.2,328.0 1826.6,351.4 1828.0,345.6 1829.4,345.3 1830.8,330.4 1832.2,337.1 1833.6,348.2 1835.0,349.2 1836.4,335.5 1837.8,328.2 1839.2,337.1 1840.6,343.9 1842.0,325.1 1843.4,340.0 1844.8,310.2 1846.2,340.2 1847.7,334.4 1849.1,355.8 1850.5,331.2 1851.9,351.0 1853.3,343.1 1854.7,338.4 1856.1,329.1 1857.5,329.2 1858.9,322.5 1860.3,356.9 1861.7,327.7 1863.1,333.3 1864.5,320.5 1865.9,317.4 1867.3,313.5 1868.7,292.3 1870.1,345.5 1871.5,313.3 1873.0,328.3 1874.4,327.1 1875.8,339.1 1877.2,340.6 1878.6,362.6 1880.0,367.2 1881.4,361.5 1882.8,372.4 1884.2,366.3 1885.6,381.1 1887.0,365.7 1888.4,377.9 1889.8,378.5 1891.2,383.7 1892.6,389.1 1894.0,374.5 1895.4,379.6 1896.9,387.7 1898.3,391.7 1899.7,387.4" fill="none" stroke="#2b9fe0" stroke-width="1.5" stroke-linejoin="round" marker-start="url(#mS)" marker-mid="url(#mS)" marker-end="url(#mS)"/>
<polyline points="1258.7,297.7 1260.1,382.9 1261.5,361.3 1262.9,316.3 1264.3,289.8 1265.7,298.3 1267.1,354.8 1268.5,339.0 1269.9,345.5 1271.3,360.5 1272.7,304.5 1274.1,353.0 1275.5,318.1 1277.0,306.6 1278.4,330.0 1279.8,316.0 1281.2,333.2 1282.6,329.9 1284.0,300.2 1285.4,353.8 1286.8,333.6 1288.2,343.9 1289.6,351.1 1291.0,318.5 1292.4,290.8 1293.8,330.6 1295.2,270.1 1296.6,321.1 1298.0,320.8 1299.4,296.1 1300.8,383.2 1302.3,319.4 1303.7,330.5 1305.1,365.7 1306.5,287.7 1307.9,375.0 1309.3,368.1 1310.7,316.4 1312.1,312.7 1313.5,313.0 1314.9,352.2 1316.3,310.1 1317.7,404.4 1319.1,352.5 1320.5,335.0 1321.9,386.3 1323.3,320.5 1324.7,344.2 1326.2,333.2 1327.6,324.7 1329.0,345.1 1330.4,327.7 1331.8,334.7 1333.2,324.2 1334.6,342.0 1336.0,323.5 1337.4,339.1 1338.8,333.3 1340.2,328.3 1341.6,341.7 1343.0,383.5 1344.4,369.7 1345.8,353.1 1347.2,412.6 1348.6,370.2 1350.0,377.4 1351.5,383.4 1352.9,364.0 1354.3,383.7 1355.7,374.4 1357.1,372.5 1358.5,378.8 1359.9,386.3 1361.3,383.9 1362.7,385.5 1364.1,387.0 1365.5,399.1 1366.9,395.9 1368.3,382.1 1369.7,399.2 1371.1,394.0 1372.5,393.8 1373.9,388.4 1375.3,392.6 1376.8,386.1 1378.2,389.7 1379.6,394.6 1381.0,384.7 1382.4,405.4 1383.8,397.1 1385.2,384.8 1386.6,387.1 1388.0,391.4 1389.4,387.6 1390.8,396.2 1392.2,380.9 1393.6,398.8 1395.0,393.2 1396.4,395.2 1397.8,386.7 1399.2,402.9 1400.7,388.3 1402.1,386.9 1403.5,383.9 1404.9,388.6 1406.3,380.8 1407.7,378.2 1409.1,391.3 1410.5,379.6 1411.9,362.7 1413.3,359.2 1414.7,352.2 1416.1,355.3 1417.5,378.9 1418.9,392.7 1420.3,333.9 1421.7,358.9 1423.1,322.8 1424.5,323.5 1426.0,321.8 1427.4,323.2 1428.8,363.3 1430.2,289.2 1431.6,334.5 1433.0,305.1 1434.4,304.4 1435.8,302.7 1437.2,309.7 1438.6,293.8 1440.0,274.9 1441.4,280.8 1442.8,337.4 1444.2,301.6 1445.6,304.1 1447.0,315.8 1448.4,318.2 1449.8,308.1 1451.3,308.6 1452.7,325.3 1454.1,351.5 1455.5,321.1 1456.9,302.4 1458.3,308.1 1459.7,368.3 1461.1,388.0 1462.5,309.0 1463.9,305.1 1465.3,302.8 1466.7,358.5 1468.1,265.2 1469.5,297.5 1470.9,296.5 1472.3,352.3 1473.7,310.5 1475.2,295.2 1476.6,304.5 1478.0,321.0 1479.4,313.0 1480.8,326.7 1482.2,361.0 1483.6,320.2 1485.0,329.1 1486.4,334.1 1487.8,326.5 1489.2,354.2 1490.6,382.4 1492.0,326.9 1493.4,345.9 1494.8,348.6 1496.2,344.8 1497.6,344.4 1499.0,341.4 1500.5,354.8 1501.9,355.4 1503.3,354.0 1504.7,371.7 1506.1,372.9 1507.5,353.2 1508.9,389.7 1510.3,364.7 1511.7,361.5 1513.1,361.6 1514.5,370.7 1515.9,376.5 1517.3,390.0 1518.7,384.4 1520.1,384.3 1521.5,383.4 1522.9,387.4 1524.4,377.7 1525.8,378.8 1527.2,391.6 1528.6,395.3 1530.0,397.6 1531.4,391.3 1532.8,402.0 1534.2,405.2 1535.6,397.8 1537.0,386.7 1538.4,401.8 1539.8,388.2 1541.2,391.3 1542.6,396.8 1544.0,399.3 1545.4,389.9 1546.8,384.8 1548.2,395.7 1549.7,388.6 1551.1,400.6 1552.5,394.4 1553.9,399.2 1555.3,398.7 1556.7,393.4 1558.1,391.8 1559.5,392.6 1560.9,393.2 1562.3,397.4 1563.7,396.4 1565.1,396.9 1566.5,389.1 1567.9,385.7 1569.3,382.3 1570.7,382.8 1572.1,375.3 1573.5,378.2 1575.0,372.5 1576.4,375.0 1577.8,364.9 1579.2,352.8 1580.6,353.2 1582.0,350.8 1583.4,347.5 1584.8,343.9 1586.2,357.3 1587.6,335.8 1589.0,338.0 1590.4,340.1 1591.8,325.0 1593.2,326.3 1594.6,319.1 1596.0,333.9 1597.4,330.0 1598.9,318.4 1600.3,334.2 1601.7,315.9 1603.1,311.4 1604.5,340.5 1605.9,308.5 1607.3,305.0 1608.7,328.2 1610.1,330.5 1611.5,304.2 1612.9,295.5 1614.3,341.6 1615.7,299.3 1617.1,310.7 1618.5,327.1 1619.9,296.9 1621.3,341.1 1622.7,343.5 1624.2,284.5 1625.6,338.8 1627.0,308.9 1628.4,276.1 1629.8,304.3 1631.2,281.2 1632.6,284.1 1634.0,336.3 1635.4,284.6 1636.8,321.1 1638.2,293.5 1639.6,328.0 1641.0,271.9 1642.4,310.2 1643.8,287.0 1645.2,293.6 1646.6,275.5 1648.0,322.2 1649.5,310.8 1650.9,253.0 1652.3,280.5 1653.7,320.4 1655.1,329.3 1656.5,323.5 1657.9,324.4 1659.3,311.8 1660.7,308.1 1662.1,321.8 1663.5,323.1 1664.9,334.2 1666.3,353.5 1667.7,309.4 1669.1,316.3 1670.5,334.4 1671.9,321.3 1673.4,329.6 1674.8,356.0 1676.2,354.4 1677.6,345.7 1679.0,413.4 1680.4,337.4 1681.8,348.5 1683.2,338.4 1684.6,333.4 1686.0,365.6 1687.4,341.8 1688.8,350.0 1690.2,360.3 1691.6,359.6 1693.0,364.8 1694.4,361.8 1695.8,378.1 1697.2,373.7 1698.7,382.0 1700.1,379.5 1701.5,376.4 1702.9,379.5 1704.3,381.5 1705.7,388.1 1707.1,383.2 1708.5,383.9 1709.9,385.9 1711.3,387.8 1712.7,389.5 1714.1,377.4 1715.5,393.8 1716.9,392.0 1718.3,393.9 1719.7,387.2 1721.1,389.1 1722.5,388.9 1724.0,392.2 1725.4,393.9 1726.8,394.2 1728.2,393.3 1729.6,391.5 1731.0,393.5 1732.4,397.5 1733.8,399.7 1735.2,392.8 1736.6,400.5 1738.0,399.2 1739.4,404.7 1740.8,400.2 1742.2,392.7 1743.6,393.9 1745.0,401.6 1746.4,395.2 1747.9,402.2 1749.3,407.7 1750.7,393.5 1752.1,396.1 1753.5,401.8 1754.9,398.8 1756.3,399.0 1757.7,392.5 1759.1,404.5 1760.5,399.0 1761.9,393.9 1763.3,388.8 1764.7,396.7 1766.1,398.5 1767.5,393.0 1768.9,401.5 1770.3,400.2 1771.7,392.9 1773.2,400.4 1774.6,394.9 1776.0,393.5 1777.4,391.5 1778.8,392.4 1780.2,386.6 1781.6,387.2 1783.0,385.7 1784.4,377.3 1785.8,376.2 1787.2,381.9 1788.6,382.3 1790.0,381.5 1791.4,390.7 1792.8,381.3 1794.2,374.9 1795.6,381.8 1797.0,372.0 1798.5,374.5 1799.9,368.3 1801.3,361.9 1802.7,359.1 1804.1,360.4 1805.5,338.5 1806.9,328.8 1808.3,333.0 1809.7,340.8 1811.1,335.6 1812.5,333.1 1813.9,336.8 1815.3,322.1 1816.7,340.8 1818.1,333.4 1819.5,359.9 1820.9,336.6 1822.4,329.1 1823.8,334.8 1825.2,321.1 1826.6,346.5 1828.0,331.6 1829.4,335.9 1830.8,329.0 1832.2,329.1 1833.6,342.8 1835.0,349.1 1836.4,326.4 1837.8,321.1 1839.2,330.7 1840.6,340.0 1842.0,309.0 1843.4,333.5 1844.8,303.6 1846.2,334.9 1847.7,328.1 1849.1,353.4 1850.5,329.5 1851.9,345.6 1853.3,337.6 1854.7,293.1 1856.1,385.6 1857.5,325.0 1858.9,316.9 1860.3,348.4 1861.7,316.1 1863.1,320.8 1864.5,311.2 1865.9,300.1 1867.3,294.6 1868.7,276.7 1870.1,343.5 1871.5,295.1 1873.0,314.0 1874.4,298.7 1875.8,310.5 1877.2,320.1 1878.6,340.4 1880.0,341.1 1881.4,326.6 1882.8,350.3 1884.2,335.3 1885.6,355.1 1887.0,338.6 1888.4,342.4 1889.8,337.8 1891.2,355.0 1892.6,353.4 1894.0,341.6 1895.4,348.3 1896.9,347.0 1898.3,353.0 1899.7,357.7 1901.1,371.6 1902.5,383.8 1903.9,364.0 1905.3,359.3 1906.7,374.7 1908.1,370.2 1909.5,370.5 1910.9,369.1 1912.3,376.0 1913.7,376.4 1915.1,374.4 1916.5,373.7" fill="none" stroke="#167a28" stroke-width="2" stroke-linejoin="round" marker-start="url(#mT)" marker-mid="url(#mT)" marker-end="url(#mT)"/>
<polyline points="1258.7,293.7 1260.1,378.2 1261.5,358.7 1262.9,312.8 1264.3,284.1 1265.7,293.0 1267.1,356.6 1268.5,331.3 1269.9,344.7 1271.3,359.7 1272.7,303.1 1274.1,355.4 1275.5,311.4 1277.0,299.3 1278.4,323.9 1279.8,311.4 1281.2,333.6 1282.6,324.3 1284.0,299.3 1285.4,357.4 1286.8,329.8 1288.2,340.9 1289.6,351.6 1291.0,321.4 1292.4,284.6 1293.8,332.1 1295.2,309.8 1296.6,319.1 1298.0,323.9 1299.4,291.0 1300.8,384.8 1302.3,315.8 1303.7,333.0 1305.1,365.0 1306.5,283.3 1307.9,375.1 1309.3,363.1 1310.7,315.7 1312.1,313.9 1313.5,310.8 1314.9,350.5 1316.3,306.4 1317.7,398.7 1319.1,352.6 1320.5,336.4 1321.9,389.1 1323.3,316.2 1324.7,340.4 1326.2,328.2 1327.6,323.1 1329.0,331.6 1330.4,316.3 1331.8,319.8 1333.2,318.2 1334.6,332.8 1336.0,318.1 1337.4,330.8 1338.8,325.0 1340.2,324.4 1341.6,336.6 1343.0,375.0 1344.4,368.2 1345.8,346.6 1347.2,401.1 1348.6,361.8 1350.0,365.4 1351.5,373.5 1352.9,353.3 1354.3,377.1 1355.7,370.6 1357.1,363.4 1358.5,369.7 1359.9,369.3 1361.3,371.4 1362.7,375.0 1364.1,372.7 1365.5,383.2 1366.9,385.4 1368.3,372.2 1369.7,383.2 1371.1,384.5 1372.5,380.8 1373.9,378.5 1375.3,378.5 1376.8,377.4 1378.2,379.1 1379.6,379.1 1381.0,376.4 1382.4,387.8 1383.8,383.7 1385.2,380.7 1386.6,381.0 1388.0,379.5 1389.4,377.6 1390.8,381.5 1392.2,374.6 1393.6,384.3 1395.0,383.5 1396.4,386.0 1397.8,374.9 1399.2,390.3 1400.7,376.5 1402.1,376.5 1403.5,374.3 1404.9,372.8 1406.3,370.7 1407.7,366.5 1409.1,382.0 1410.5,372.3 1411.9,351.6 1413.3,349.9 1414.7,341.3 1416.1,349.0 1417.5,374.3 1418.9,384.8 1420.3,330.9 1421.7,353.1 1423.1,315.6 1424.5,321.7 1426.0,317.9 1427.4,312.9 1428.8,348.5 1430.2,290.2 1431.6,337.9 1433.0,290.4 1434.4,298.6 1435.8,294.1 1437.2,307.8 1438.6,290.6 1440.0,273.4 1441.4,277.6 1442.8,338.5 1444.2,290.3 1445.6,291.4 1447.0,310.3 1448.4,315.4 1449.8,305.3 1451.3,301.1 1452.7,326.9 1454.1,343.8 1455.5,313.7 1456.9,302.0 1458.3,307.1 1459.7,365.9 1461.1,312.7 1462.5,309.0 1463.9,299.3 1465.3,300.9 1466.7,358.8 1468.1,275.9 1469.5,292.5 1470.9,294.1 1472.3,347.8 1473.7,303.7 1475.2,294.3 1476.6,301.4 1478.0,316.5 1479.4,305.6 1480.8,319.2 1482.2,361.8 1483.6,317.2 1485.0,321.3 1486.4,326.8 1487.8,316.4 1489.2,344.9 1490.6,372.0 1492.0,319.0 1493.4,337.6 1494.8,341.1 1496.2,334.2 1497.6,338.3 1499.0,336.7 1500.5,339.6 1501.9,345.7 1503.3,342.8 1504.7,363.0 1506.1,360.7 1507.5,347.2 1508.9,382.0 1510.3,356.6 1511.7,355.8 1513.1,356.7 1514.5,361.9 1515.9,370.4 1517.3,382.4 1518.7,374.2 1520.1,374.7 1521.5,370.5 1522.9,375.2 1524.4,371.8 1525.8,374.3 1527.2,381.6 1528.6,383.9 1530.0,384.1 1531.4,385.9 1532.8,386.7 1534.2,386.0 1535.6,386.1 1537.0,382.2 1538.4,391.2 1539.8,379.6 1541.2,384.1 1542.6,383.6 1544.0,383.8 1545.4,379.8 1546.8,376.1 1548.2,385.4 1549.7,385.5 1551.1,385.8 1552.5,382.8 1553.9,386.5 1555.3,390.5 1556.7,384.4 1558.1,382.0 1559.5,383.5 1560.9,382.5 1562.3,384.8 1563.7,384.8 1565.1,388.0 1566.5,379.8 1567.9,376.9 1569.3,373.9 1570.7,370.4 1572.1,364.5 1573.5,366.7 1575.0,363.7 1576.4,366.4 1577.8,358.0 1579.2,348.8 1580.6,345.7 1582.0,340.4 1583.4,336.4 1584.8,335.7 1586.2,347.0 1587.6,322.7 1589.0,333.2 1590.4,332.5 1591.8,318.7 1593.2,317.0 1594.6,316.8 1596.0,333.6 1597.4,330.5 1598.9,319.2 1600.3,328.2 1601.7,315.5 1603.1,311.2 1604.5,336.1 1605.9,311.1 1607.3,303.3 1608.7,333.3 1610.1,333.1 1611.5,302.1 1612.9,301.7 1614.3,339.5 1615.7,306.9 1617.1,309.9 1618.5,325.0 1619.9,303.9 1621.3,349.3 1622.7,342.5 1624.2,292.3 1625.6,339.9 1627.0,311.5 1628.4,287.2 1629.8,310.4 1631.2,293.5 1632.6,292.9 1634.0,330.5 1635.4,295.6 1636.8,324.8 1638.2,298.9 1639.6,324.8 1641.0,281.6 1642.4,313.2 1643.8,290.9 1645.2,297.6 1646.6,278.3 1648.0,321.9 1649.5,316.0 1650.9,341.8 1652.3,289.4 1653.7,319.0 1655.1,325.6 1656.5,327.8 1657.9,319.9 1659.3,314.3 1660.7,313.6 1662.1,317.9 1663.5,320.2 1664.9,336.1 1666.3,348.2 1667.7,314.4 1669.1,316.9 1670.5,333.7 1671.9,319.8 1673.4,328.0 1674.8,341.1 1676.2,350.1 1677.6,339.3 1679.0,400.3 1680.4,333.0 1681.8,339.7 1683.2,338.3 1684.6,333.5 1686.0,362.0 1687.4,341.6 1688.8,348.8 1690.2,355.4 1691.6,356.6 1693.0,363.5 1694.4,359.0 1695.8,377.9 1697.2,363.1 1698.7,372.1 1700.1,371.9 1701.5,371.0 1702.9,370.4 1704.3,373.6 1705.7,382.8 1707.1,376.1 1708.5,375.6 1709.9,380.7 1711.3,377.5 1712.7,377.3 1714.1,373.2 1715.5,378.5 1716.9,384.5 1718.3,384.7 1719.7,378.0 1721.1,385.7 1722.5,382.3 1724.0,383.4 1725.4,383.3 1726.8,386.3 1728.2,383.2 1729.6,384.9 1731.0,392.6 1732.4,385.9 1733.8,393.7 1735.2,385.1 1736.6,393.0 1738.0,390.5 1739.4,392.1 1740.8,392.2 1742.2,387.8 1743.6,389.7 1745.0,391.8 1746.4,385.8 1747.9,393.7 1749.3,396.5 1750.7,391.1 1752.1,388.1 1753.5,394.3 1754.9,391.6 1756.3,389.9 1757.7,384.0 1759.1,389.8 1760.5,394.4 1761.9,389.4 1763.3,384.0 1764.7,389.8 1766.1,394.0 1767.5,387.2 1768.9,390.3 1770.3,393.4 1771.7,387.3 1773.2,390.5 1774.6,380.9 1776.0,386.9 1777.4,383.1 1778.8,379.8 1780.2,377.6 1781.6,376.2 1783.0,376.4 1784.4,372.4 1785.8,370.2 1787.2,373.8 1788.6,369.7 1790.0,370.6 1791.4,376.6 1792.8,368.9 1794.2,368.6 1795.6,372.8 1797.0,364.3 1798.5,368.1 1799.9,358.7 1801.3,353.9 1802.7,361.8 1804.1,356.6 1805.5,336.2 1806.9,329.1 1808.3,335.6 1809.7,337.6 1811.1,334.2 1812.5,335.3 1813.9,335.0 1815.3,324.3 1816.7,338.1 1818.1,331.0 1819.5,365.9 1820.9,331.7 1822.4,327.9 1823.8,329.1 1825.2,319.5 1826.6,345.0 1828.0,334.5 1829.4,332.8 1830.8,321.1 1832.2,332.6 1833.6,339.3 1835.0,345.6 1836.4,324.6 1837.8,320.6 1839.2,330.8 1840.6,335.7 1842.0,315.1 1843.4,331.7 1844.8,301.3 1846.2,329.7 1847.7,330.7 1849.1,349.8 1850.5,323.8 1851.9,339.4 1853.3,335.7 1854.7,327.6 1856.1,315.5 1857.5,322.5 1858.9,313.2 1860.3,345.2 1861.7,316.5 1863.1,322.4 1864.5,308.0 1865.9,302.6 1867.3,300.6 1868.7,289.8 1870.1,343.8 1871.5,310.5 1873.0,322.4 1874.4,316.4 1875.8,327.8 1877.2,328.9 1878.6,355.3 1880.0,355.0 1881.4,344.5 1882.8,367.7 1884.2,357.6 1885.6,370.9 1887.0,361.8 1888.4,367.2 1889.8,367.7 1891.2,378.5 1892.6,374.1 1894.0,369.1 1895.4,371.1 1896.9,371.2 1898.3,381.2 1899.7,375.1 1901.1,388.8 1902.5,404.4 1903.9,378.2 1905.3,377.3 1906.7,388.3 1908.1,382.9 1909.5,386.9 1910.9,381.2 1912.3,387.1 1913.7,389.2 1915.1,381.6 1916.5,385.9 1917.9,385.5 1919.3,385.9 1920.7,385.7 1922.2,385.0 1923.6,385.3 1925.0,386.7 1926.4,386.2 1927.8,387.6 1929.2,394.7 1930.6,392.1 1932.0,387.7 1933.4,393.7 1934.8,391.0 1936.2,394.3 1937.6,390.2 1939.0,394.3" fill="none" stroke="#ef722f" stroke-width="2.2" stroke-linejoin="round" marker-start="url(#mC)" marker-mid="url(#mC)" marker-end="url(#mC)"/>
</g>
<path d="M1193.4 106.4H2036.8V433.9" stroke="#505050" stroke-width="1.5" fill="none"/>
<path d="M1193.4 106.4V433.9M1193.4 433.9H2036.8M1185.4 433.9H1193.4M1185.4 352H1193.4M1185.4 270.1H1193.4M1185.4 188.3H1193.4M1185.4 106.4H1193.4M1193.4 433.9V441.9M1210.3 427.9V433.9M1227.1 427.9V433.9M1244 427.9V433.9M1260.9 427.9V433.9M1277.7 433.9V441.9M1294.6 427.9V433.9M1311.5 427.9V433.9M1328.3 427.9V433.9M1345.2 427.9V433.9M1362.1 433.9V441.9M1378.9 427.9V433.9M1395.8 427.9V433.9M1412.7 427.9V433.9M1429.6 427.9V433.9M1446.4 433.9V441.9M1463.3 427.9V433.9M1480.2 427.9V433.9M1497 427.9V433.9M1513.9 427.9V433.9M1530.8 433.9V441.9M1547.6 427.9V433.9M1564.5 427.9V433.9M1581.4 427.9V433.9M1598.2 427.9V433.9M1615.1 433.9V441.9M1632 427.9V433.9M1648.8 427.9V433.9M1665.7 427.9V433.9M1682.6 427.9V433.9M1699.4 433.9V441.9M1716.3 427.9V433.9M1733.2 427.9V433.9M1750 427.9V433.9M1766.9 427.9V433.9M1783.8 433.9V441.9M1800.6 427.9V433.9M1817.5 427.9V433.9M1834.4 427.9V433.9M1851.3 427.9V433.9M1868.1 433.9V441.9M1885 427.9V433.9M1901.9 427.9V433.9M1918.7 427.9V433.9M1935.6 427.9V433.9M1952.5 433.9V441.9M1969.3 427.9V433.9M1986.2 427.9V433.9M2003.1 427.9V433.9M2019.9 427.9V433.9M2036.8 433.9V441.9" stroke="#333" stroke-width="1.6" fill="none"/>
<text x="1193.4" y="475.4" text-anchor="middle" class="tk">1975</text>
<text x="1277.7" y="475.4" text-anchor="middle" class="tk">1980</text>
<text x="1362.1" y="475.4" text-anchor="middle" class="tk">1985</text>
<text x="1446.4" y="475.4" text-anchor="middle" class="tk">1990</text>
<text x="1530.8" y="475.4" text-anchor="middle" class="tk">1995</text>
<text x="1615.1" y="475.4" text-anchor="middle" class="tk">2000</text>
<text x="1699.4" y="475.4" text-anchor="middle" class="tk">2005</text>
<text x="1783.8" y="475.4" text-anchor="middle" class="tk">2010</text>
<text x="1868.1" y="475.4" text-anchor="middle" class="tk">2015</text>
<text x="1952.5" y="475.4" text-anchor="middle" class="tk">2020</text>
<text x="2036.8" y="475.4" text-anchor="middle" class="tk">2025</text>
<text x="1169.9" y="443.4" text-anchor="end" class="tk">1360</text>
<text x="1169.9" y="361.5" text-anchor="end" class="tk">1361</text>
<text x="1169.9" y="279.6" text-anchor="end" class="tk">1362</text>
<text x="1169.9" y="197.8" text-anchor="end" class="tk">1363</text>
<text x="1169.9" y="115.9" text-anchor="end" class="tk">1364</text>
<text x="1198.9" y="93.3" class="pl">(d) Group D</text>
<text transform="translate(1098.4 270.1) rotate(-90)" text-anchor="middle" class="yl">TSI at 1au (W m<tspan dy="-10" font-size="19">-2</tspan><tspan dy="10">)</tspan></text>
<path d="M1276.7 547.5V874.6M1361.2 547.5V874.6M1445.7 547.5V874.6M1530.2 547.5V874.6M1614.7 547.5V874.6M1699.2 547.5V874.6M1783.7 547.5V874.6M1868.2 547.5V874.6M1952.7 547.5V874.6M1192.2 792.8H2037.2M1192.2 711H2037.2M1192.2 629.3H2037.2" stroke="#d9d9d9" stroke-width="1.2" fill="none"/>
<g filter="url(#sh)">
<polyline points="1256.9,703.7 1258.6,676.2 1260.3,641.9 1262.0,580.4 1263.7,564.7 1265.5,580.1 1267.2,612.9 1268.9,638.4 1270.6,639.9 1272.1,648.7 1273.7,636.1 1275.2,651.4 1276.6,662.4 1278.1,658.7 1279.6,646.4 1281.1,646.1 1282.6,678.4 1284.1,671.8 1285.9,658.2 1287.6,679.3 1289.4,662.0 1291.1,674.1 1292.8,671.2 1294.4,648.9 1297.0,678.3 1298.4,723.7 1299.9,770.2 1301.3,708.2 1302.4,787.9 1304.1,756.7 1305.5,676.4 1306.9,767.8 1308.3,759.1 1309.7,713.6 1311.1,707.1 1312.5,712.7 1313.9,743.5 1315.3,700.2 1316.8,796.2 1318.3,780.6 1319.6,731.6 1321.0,787.5 1322.4,715.4 1323.8,733.5 1325.2,724.0 1326.6,713.1 1328.0,719.7 1329.4,710.8 1330.8,715.6 1332.2,709.6 1334.2,757.7 1335.1,720.9 1336.5,731.8 1337.9,722.8 1339.3,720.6 1340.7,733.6 1342.1,772.1 1343.5,763.4 1345.5,814.1 1347.7,759.7 1349.1,761.6 1350.6,772.6 1352.0,757.4 1353.4,784.2 1354.8,780.5 1356.2,770.9 1357.6,781.4 1359.0,776.7 1360.4,786.5 1361.8,785.5 1363.2,793.0 1364.6,799.6 1365.9,801.0 1367.5,793.0 1368.9,800.3 1370.3,798.1 1371.7,798.4 1373.1,795.6 1374.5,793.4 1375.9,787.4 1377.3,798.1 1378.7,798.7 1380.1,794.6 1381.5,804.3 1382.9,802.3 1384.4,795.9 1385.8,794.7 1387.2,799.6 1388.6,788.6 1390.0,802.2 1391.4,789.7 1392.8,800.1 1394.2,793.7 1395.6,804.3 1397.7,801.0 1399.8,792.8 1401.3,791.3 1402.7,787.9 1404.1,789.9 1405.5,781.4 1406.9,786.8 1408.3,801.4 1409.7,788.8 1411.1,771.1 1412.5,771.0 1413.9,751.9 1415.3,760.0 1416.7,794.3 1418.2,793.3 1420.4,793.6 1422.4,719.9 1423.8,732.2 1425.2,719.5 1426.6,722.4 1428.0,753.5 1429.4,693.0 1430.8,737.4 1432.2,689.0 1433.6,696.6 1435.1,694.5 1436.5,699.1 1437.9,683.6 1439.9,676.1 1442.0,657.9 1443.8,671.2 1445.6,664.8 1447.4,670.2 1448.9,671.9 1450.4,650.7 1452.0,637.6 1453.5,637.5 1454.9,639.2 1456.3,664.1 1457.8,644.8 1459.2,662.8 1460.6,654.9 1462.0,641.7 1463.4,645.6 1465.2,610.8 1467.0,602.3 1468.5,622.2 1470.0,621.2 1471.6,646.4 1473.0,663.8 1474.4,662.0 1475.9,638.6 1477.3,630.9 1478.8,663.3 1480.3,653.8 1482.9,619.5 1484.3,628.9 1485.8,652.3 1487.2,686.8 1488.6,685.7 1490.4,676.8 1492.2,674.3 1493.8,682.5 1495.4,680.8 1497.2,678.0 1498.9,694.7 1500.6,690.5 1502.3,689.8 1504.0,687.2 1505.7,702.9 1507.4,707.2 1509.1,724.1 1510.5,727.1 1511.9,712.8 1513.3,711.0 1515.2,704.2 1517.0,701.2 1518.7,701.9 1520.4,715.1 1522.1,731.2 1523.8,726.6 1525.3,724.5 1526.8,719.2 1529.5,712.7 1531.1,721.5 1532.7,723.3 1534.5,721.1 1536.3,721.7 1537.9,717.2 1539.5,715.1 1541.4,715.3 1543.2,719.2 1544.9,723.5 1546.6,735.6 1548.3,747.6 1550.0,757.7 1551.7,746.0 1553.4,743.8 1555.0,742.0 1556.7,735.6 1558.5,734.0 1560.3,727.4 1562.0,720.5 1563.7,717.6 1565.4,720.5 1567.0,725.8 1568.7,729.6 1570.4,721.7 1572.1,709.2 1573.8,711.0 1575.5,709.6 1577.2,696.3 1578.9,701.9 1580.6,690.6 1582.3,676.1 1584.1,675.9 1585.6,670.4 1587.0,669.4 1588.5,670.2 1590.0,671.6 1591.5,674.1 1593.1,660.3 1594.6,664.1 1596.2,664.6 1597.8,666.1 1599.3,662.4 1600.7,658.1 1602.2,655.4 1603.8,652.6 1605.4,662.0 1607.2,658.5 1609.0,633.4 1610.6,663.0 1612.2,653.8 1614.0,659.9 1615.9,657.9 1617.4,666.6 1618.9,637.5 1620.8,648.4 1622.6,599.0 1624.2,617.0 1625.9,594.4 1627.7,598.2 1629.2,600.1 1630.6,614.1 1632.1,610.5 1633.9,641.4 1635.7,662.8 1637.1,632.1 1638.6,631.3 1640.1,635.0 1641.6,633.3 1643.1,649.5 1644.6,662.8 1646.1,649.7 1647.7,612.0 1649.2,584.3 1650.9,598.4 1652.6,590.0 1654.1,597.7 1655.6,662.2 1657.1,680.8 1659.1,681.3 1661.2,653.8 1663.1,655.4 1665.1,621.9 1666.6,637.3 1668.1,685.5 1669.6,692.2 1671.0,681.1 1672.4,677.8 1673.8,674.3 1675.7,671.4 1677.6,665.3 1679.0,662.8 1680.4,672.9 1681.9,666.2 1683.3,671.8 1684.8,692.8 1686.4,699.7 1687.9,703.7 1689.4,692.8 1690.9,701.6 1692.4,690.6 1694.3,686.8 1696.2,677.2 1698.0,678.3 1699.9,692.1 1701.7,707.0 1703.1,714.5 1704.6,716.4 1706.0,721.7 1707.7,727.0 1709.3,711.0 1711.1,710.2 1712.9,706.1 1714.5,706.5 1716.1,719.2 1717.9,715.0 1719.6,716.8 1721.3,716.0 1722.9,723.3 1724.6,719.2 1726.4,716.8 1728.0,720.3 1729.6,725.8 1731.5,732.5 1733.3,730.7 1734.9,725.8 1736.5,725.8 1738.1,727.4 1739.5,732.3 1740.9,738.1 1742.3,733.1 1743.7,731.6 1745.1,731.5 1746.5,735.6 1748.2,735.6 1749.8,729.2 1751.4,728.2 1753.2,729.7 1755.0,735.6 1756.6,734.0 1758.2,742.1 1760.0,735.3 1761.7,733.9 1763.4,736.1 1765.1,728.2 1766.5,726.6 1767.9,733.7 1769.3,733.9 1771.0,734.3 1772.6,732.3 1774.2,735.6 1775.9,740.5 1777.6,731.5 1779.3,726.6 1781.0,728.2 1782.5,728.0 1784.0,719.3 1785.6,710.2 1787.2,708.6 1788.8,719.2 1790.5,715.2 1792.3,716.8 1794.3,719.4 1796.4,712.7 1798.1,717.6 1799.8,718.4 1801.4,707.8 1803.0,708.4 1804.5,687.5 1806.0,689.8 1807.5,693.5 1809.1,710.1 1810.6,706.1 1813.3,686.5 1814.7,675.9 1816.1,662.8 1817.7,683.5 1819.2,678.3 1821.1,684.9 1823.1,689.8 1824.9,678.1 1826.8,678.3 1828.3,683.6 1829.8,665.3 1831.3,664.5 1832.7,678.3 1835.4,680.8 1837.2,667.4 1839.0,670.2 1840.7,667.0 1842.3,671.8 1843.9,681.0 1845.4,678.3 1847.9,666.9 1849.6,664.3 1851.3,674.3 1853.1,672.8 1854.8,655.4 1856.7,675.9 1858.6,659.9 1860.4,689.8 1861.9,695.1 1863.4,684.2 1864.8,670.2 1866.4,661.9 1868.0,647.4 1869.6,637.5 1871.0,636.6 1872.4,662.0 1873.9,659.7 1875.3,671.8 1877.0,669.4 1878.7,686.5 1880.4,678.4 1882.1,680.8 1883.6,678.5 1885.1,687.7 1886.6,680.8 1888.4,690.8 1890.2,702.9 1891.8,717.1 1893.4,721.7 1895.2,725.0 1896.9,719.2 1898.4,723.5 1899.9,717.4 1901.3,726.6 1902.9,725.0 1904.5,735.6 1906.4,734.0 1908.3,744.6 1909.8,747.0 1911.3,737.2 1913.2,733.9 1915.0,730.7 1916.5,736.4 1918.1,739.7 1919.9,740.5 1921.8,744.6 1923.5,740.5 1925.3,742.1 1927.0,745.3 1928.7,747.0 1930.2,745.3 1931.7,742.2 1933.3,743.8 1934.7,742.2 1936.2,742.2 1937.7,744.6 1939.3,752.6 1940.9,747.8 1942.7,754.7 1944.6,751.1 1946.4,754.1 1948.3,760.9 1950.2,757.7 1952.7,753.6 1954.3,758.1 1955.9,751.1 1958.6,756.0 1960.1,760.8 1961.5,753.6 1963.4,745.2 1965.4,743.8 1966.9,736.9 1968.4,726.6 1969.9,735.2 1971.3,733.9 1973.2,732.4 1975.2,738.0 1976.6,735.2 1978.1,727.4 1979.5,720.1 1980.9,721.7 1982.4,717.2 1984.0,715.1 1985.8,703.7 1987.7,698.8 1989.2,707.7 1990.7,702.9 1992.6,692.7 1994.4,680.8 1996.6,686.5 1999.0,674.3 2000.7,686.8 2002.4,694.7 2003.9,675.0 2005.4,647.7 2006.9,646.4 2008.6,654.3 2010.2,678.3 2012.7,698.8 2015.2,653.8 2017.3,630.1 2018.9,653.8 2020.6,648.9" fill="none" stroke="#6cff6c" stroke-width="3.6" stroke-linejoin="round"/>
<polyline points="1257.6,671.8 1259.0,754.5 1260.4,743.5 1261.8,693.6 1263.2,653.8 1264.6,665.2 1266.1,745.9 1267.5,713.4 1268.9,726.5 1270.3,753.3 1271.7,682.7 1273.1,748.7 1274.5,695.6 1275.9,678.6 1277.3,714.5 1278.7,693.6 1280.1,725.9 1281.5,715.1 1283.0,679.8 1284.4,751.4 1285.8,715.5 1287.2,731.5 1288.6,743.6 1290.0,703.5 1291.4,660.6 1292.8,713.3 1294.2,689.3 1295.6,698.0 1297.0,708.7 1298.4,659.2 1299.9,755.8 1301.3,694.0 1302.7,709.8 1304.1,752.1 1305.5,652.8 1306.9,762.8 1308.3,748.9 1309.7,694.9 1311.1,692.2 1312.5,682.6 1313.9,731.2 1315.3,679.9 1316.8,790.2 1318.2,734.9 1319.6,716.5 1321.0,776.7 1322.4,692.9 1323.8,729.1 1325.2,717.7 1326.6,717.0 1328.0,726.0 1329.4,715.6 1330.8,711.4 1332.2,712.5 1333.7,731.1 1335.1,710.1 1336.5,726.4 1337.9,721.3 1339.3,720.8 1340.7,734.2 1342.1,775.2 1343.5,770.8 1344.9,743.3 1346.3,791.2 1347.7,759.4 1349.1,761.0 1350.6,775.9 1352.0,749.5 1353.4,783.4 1354.8,771.1 1356.2,761.7 1357.6,767.5 1359.0,773.9 1360.4,771.9 1361.8,778.9 1363.2,779.1 1364.6,788.4 1366.0,791.1 1367.5,780.4 1368.9,789.9 1370.3,791.8 1371.7,787.2 1373.1,782.8 1374.5,788.5 1375.9,791.0 1377.3,790.5 1378.7,784.8 1380.1,788.1 1381.5,797.2 1382.9,788.5 1384.4,789.4 1385.8,788.3 1387.2,790.2 1388.6,784.1 1390.0,784.5 1391.4,783.3 1392.8,790.9 1394.2,793.4 1395.6,794.9 1397.0,781.7 1398.4,799.5 1399.8,783.7 1401.3,778.8 1402.7,785.8 1404.1,779.0 1405.5,780.8 1406.9,772.9 1408.3,784.7 1409.7,776.9 1411.1,753.3 1412.5,754.7 1413.9,741.6 1415.3,748.6 1416.7,776.3 1418.2,776.5 1419.6,721.1 1421.0,752.6 1422.4,707.4 1423.8,709.5 1425.2,707.1 1426.6,698.8 1428.0,745.0 1429.4,671.4 1430.8,733.4 1432.2,664.4 1433.6,684.5 1435.1,672.9 1436.5,687.8 1437.9,665.2 1439.3,653.8 1440.7,653.2 1442.1,723.3 1443.5,672.9 1444.9,673.3 1446.3,695.9 1447.7,699.1 1449.1,687.1 1450.5,684.4 1452.0,712.9 1453.4,728.9 1454.8,701.3 1456.2,683.4 1457.6,687.3 1459.0,778.1 1460.4,686.2 1461.8,684.2 1463.2,668.7 1464.6,679.5 1466.0,747.7 1467.4,655.4 1468.9,669.9 1470.3,671.7 1471.7,739.7 1473.1,675.8 1474.5,672.4 1475.9,682.2 1477.3,697.6 1478.7,686.9 1480.1,702.6 1481.5,754.2 1482.9,702.8 1484.3,702.9 1485.8,715.6 1487.2,710.2 1488.6,737.5 1490.0,770.4 1491.4,709.5 1492.8,729.0 1494.2,731.2 1495.6,732.6 1497.0,731.8 1498.4,733.1 1499.8,734.5 1501.2,742.2 1502.7,735.9 1504.1,759.2 1505.5,756.8 1506.9,742.5 1508.3,783.8 1509.7,755.6 1511.1,756.1 1512.5,747.4 1513.9,761.3 1515.3,768.8 1516.7,785.8 1518.1,774.0 1519.6,778.9 1521.0,774.5 1522.4,778.4 1523.8,774.4 1525.2,779.9 1526.6,788.9 1528.0,793.1 1529.4,788.9 1530.8,788.7 1532.2,789.4 1533.6,788.8 1535.0,790.7 1536.5,789.4 1537.9,795.2 1539.3,785.3 1540.7,794.3 1542.1,791.3 1543.5,793.7 1544.9,780.8 1546.3,781.7 1547.7,787.2 1549.1,790.0 1550.5,791.5 1551.9,787.7 1553.4,785.4 1554.8,794.3 1556.2,787.8 1557.6,787.1 1559.0,789.6 1560.4,786.1 1561.8,794.1 1563.2,788.4 1564.6,794.3 1566.0,781.3 1567.4,785.7 1568.8,777.1 1570.3,777.6 1571.7,770.0 1573.1,770.4 1574.5,771.0 1575.9,774.7 1577.3,761.6 1578.7,753.5 1580.1,756.1 1581.5,748.3 1582.9,738.3 1584.3,741.4 1585.7,747.7 1587.2,721.1 1588.6,739.1 1590.0,737.2 1591.4,716.0 1592.8,716.1 1594.2,711.8 1595.6,731.0 1597.0,727.0 1598.4,718.8 1599.8,723.8 1601.2,715.7 1602.6,713.7 1604.1,735.4 1605.5,709.7 1606.9,705.3 1608.3,731.7 1609.7,733.1 1611.1,697.9 1612.5,695.0 1613.9,739.9 1615.3,701.6 1616.7,706.8 1618.1,720.6 1619.5,695.4 1621.0,738.9 1622.4,734.2 1623.8,685.2 1625.2,726.3 1626.6,702.0 1628.0,683.3 1629.4,702.0 1630.8,681.8 1632.2,685.0 1633.6,721.7 1635.0,686.1 1636.4,721.2 1637.9,686.2 1639.3,717.3 1640.7,678.3 1642.1,701.8 1643.5,683.8 1644.9,688.8 1646.3,678.3 1647.7,712.9 1649.1,705.6 1650.5,631.7 1651.9,688.3 1653.3,714.3 1654.8,719.0 1656.2,722.6 1657.6,717.6 1659.0,703.9 1660.4,710.4 1661.8,709.7 1663.2,714.3 1664.6,729.9 1666.0,744.4 1667.4,704.2 1668.8,716.2 1670.2,734.3 1671.7,715.5 1673.1,717.1 1674.5,736.5 1675.9,750.1 1677.3,740.0 1678.7,812.5 1680.1,730.7 1681.5,741.6 1682.9,737.3 1684.3,730.4 1685.7,760.4 1687.1,737.0 1688.6,750.5 1690.0,755.1 1691.4,756.9 1692.8,759.5 1694.2,761.7 1695.6,776.6 1697.0,761.0 1698.4,770.7 1699.8,773.1 1701.2,772.9 1702.6,769.9 1704.0,775.2 1705.5,785.2 1706.9,782.3 1708.3,783.3 1709.7,783.1 1711.1,780.2 1712.5,777.2 1713.9,771.5 1715.3,779.3 1716.7,784.9 1718.1,785.3 1719.5,774.7 1720.9,785.4 1722.4,783.1 1723.8,785.1 1725.2,782.8 1726.6,791.2 1728.0,786.3 1729.4,789.6 1730.8,796.6 1732.2,782.7 1733.6,791.9 1735.0,782.9 1736.4,793.6 1737.8,794.0 1739.3,795.3 1740.7,798.5 1742.1,796.1 1743.5,790.5 1744.9,795.3 1746.3,788.8 1747.7,791.3 1749.1,795.9 1750.5,791.3 1751.9,793.1 1753.3,794.6 1754.7,795.5 1756.2,794.1 1757.6,789.4 1759.0,792.4 1760.4,789.9 1761.8,796.0 1763.2,786.7 1764.6,792.8 1766.0,792.6 1767.4,790.0 1768.8,791.0 1770.2,795.2 1771.6,792.3 1773.1,792.3 1774.5,784.7 1775.9,787.3 1777.3,781.3 1778.7,783.2 1780.1,778.5 1781.5,780.2 1782.9,778.6 1784.3,774.3 1785.7,768.7 1787.1,771.4 1788.5,770.8 1790.0,773.4 1791.4,777.5 1792.8,767.0 1794.2,764.9 1795.6,777.4 1797.0,767.9 1798.4,764.7 1799.8,757.7 1801.2,748.9 1802.6,760.9 1804.0,756.9 1805.4,736.9 1806.9,726.0 1808.3,737.4 1809.7,733.1 1811.1,729.2 1812.5,731.7 1813.9,735.5 1815.3,720.5 1816.7,737.0 1818.1,728.8 1819.5,765.0 1820.9,725.7 1822.3,729.0 1823.8,726.8 1825.2,718.1 1826.6,741.5 1828.0,735.7 1829.4,735.4 1830.8,720.5 1832.2,727.2 1833.6,738.3 1835.0,739.3 1836.4,725.6 1837.8,718.3 1839.2,727.3 1840.7,734.0 1842.1,715.3 1843.5,730.1 1844.9,700.3 1846.3,730.3 1847.7,724.6 1849.1,745.9 1850.5,721.3 1851.9,741.1 1853.3,733.2 1854.7,728.5 1856.1,719.2 1857.6,719.4 1859.0,712.6 1860.4,747.0 1861.8,717.8 1863.2,723.4 1864.6,710.6 1866.0,707.5 1867.4,703.6 1868.8,682.4 1870.2,735.6 1871.6,703.4 1873.0,718.5 1874.5,717.2 1875.9,729.3 1877.3,730.7 1878.7,752.7 1880.1,757.2 1881.5,751.6 1882.9,762.5 1884.3,756.4 1885.7,771.2 1887.1,755.8 1888.5,767.9 1889.9,768.5 1891.4,773.8 1892.8,779.1 1894.2,764.6 1895.6,769.7 1897.0,777.8 1898.4,781.7 1899.8,777.4" fill="none" stroke="#2b9fe0" stroke-width="1.5" stroke-linejoin="round" marker-start="url(#mS)" marker-mid="url(#mS)" marker-end="url(#mS)"/>
<polyline points="1257.6,687.8 1259.0,773.0 1260.4,751.4 1261.8,706.5 1263.2,680.0 1264.6,688.5 1266.1,744.8 1267.5,729.1 1268.9,735.6 1270.3,750.6 1271.7,694.6 1273.1,743.1 1274.5,708.2 1275.9,696.8 1277.3,720.2 1278.7,706.1 1280.1,723.3 1281.5,720.0 1283.0,690.3 1284.4,743.9 1285.8,723.7 1287.2,734.0 1288.6,741.2 1290.0,708.6 1291.4,681.0 1292.8,720.8 1294.2,660.3 1295.6,711.3 1297.0,711.0 1298.4,686.3 1299.9,773.3 1301.3,709.6 1302.7,720.6 1304.1,755.8 1305.5,677.9 1306.9,765.1 1308.3,758.2 1309.7,706.6 1311.1,702.8 1312.5,703.1 1313.9,742.3 1315.3,700.3 1316.8,794.4 1318.2,742.6 1319.6,725.2 1321.0,776.4 1322.4,710.6 1323.8,734.3 1325.2,723.4 1326.6,714.9 1328.0,735.2 1329.4,717.8 1330.8,724.8 1332.2,714.3 1333.7,732.1 1335.1,713.6 1336.5,729.2 1337.9,723.4 1339.3,718.5 1340.7,731.8 1342.1,773.6 1343.5,759.8 1344.9,743.2 1346.3,802.6 1347.7,760.2 1349.1,767.5 1350.6,773.5 1352.0,754.1 1353.4,773.8 1354.8,764.5 1356.2,762.6 1357.6,768.9 1359.0,776.3 1360.4,774.0 1361.8,775.6 1363.2,777.0 1364.6,789.1 1366.0,786.0 1367.5,772.1 1368.9,789.3 1370.3,784.0 1371.7,783.9 1373.1,778.5 1374.5,782.7 1375.9,776.1 1377.3,779.8 1378.7,784.7 1380.1,774.7 1381.5,795.5 1382.9,787.2 1384.4,774.8 1385.8,777.2 1387.2,781.4 1388.6,777.6 1390.0,786.2 1391.4,771.0 1392.8,788.8 1394.2,783.2 1395.6,785.2 1397.0,776.7 1398.4,793.0 1399.8,778.4 1401.3,776.9 1402.7,773.9 1404.1,778.7 1405.5,770.9 1406.9,768.3 1408.3,781.4 1409.7,769.7 1411.1,752.7 1412.5,749.3 1413.9,742.3 1415.3,745.4 1416.7,769.0 1418.2,782.8 1419.6,724.0 1421.0,749.0 1422.4,712.9 1423.8,713.6 1425.2,712.0 1426.6,713.3 1428.0,753.4 1429.4,679.4 1430.8,724.6 1432.2,695.3 1433.6,694.6 1435.1,692.9 1436.5,699.8 1437.9,684.0 1439.3,665.1 1440.7,671.0 1442.1,727.5 1443.5,691.7 1444.9,694.2 1446.3,705.9 1447.7,708.3 1449.1,698.3 1450.5,698.8 1452.0,715.5 1453.4,741.6 1454.8,711.2 1456.2,692.6 1457.6,698.2 1459.0,758.4 1460.4,778.1 1461.8,699.2 1463.2,695.3 1464.6,693.0 1466.0,748.6 1467.4,655.4 1468.9,687.7 1470.3,686.6 1471.7,742.4 1473.1,700.6 1474.5,685.3 1475.9,694.7 1477.3,711.1 1478.7,703.1 1480.1,716.8 1481.5,751.0 1482.9,710.3 1484.3,719.2 1485.8,724.2 1487.2,716.6 1488.6,744.3 1490.0,772.5 1491.4,717.0 1492.8,736.0 1494.2,738.7 1495.6,734.9 1497.0,734.5 1498.4,731.5 1499.8,744.9 1501.2,745.5 1502.7,744.1 1504.1,761.8 1505.5,763.0 1506.9,743.2 1508.3,779.8 1509.7,754.7 1511.1,751.6 1512.5,751.7 1513.9,760.7 1515.3,766.5 1516.7,780.0 1518.1,774.4 1519.6,774.3 1521.0,773.4 1522.4,777.4 1523.8,767.8 1525.2,768.8 1526.6,781.6 1528.0,785.3 1529.4,787.6 1530.8,781.3 1532.2,792.0 1533.6,795.2 1535.0,787.9 1536.5,776.8 1537.9,791.8 1539.3,778.2 1540.7,781.3 1542.1,786.9 1543.5,789.3 1544.9,779.9 1546.3,774.8 1547.7,785.8 1549.1,778.7 1550.5,790.6 1551.9,784.5 1553.4,789.2 1554.8,788.7 1556.2,783.5 1557.6,781.8 1559.0,782.7 1560.4,783.2 1561.8,787.4 1563.2,786.4 1564.6,786.9 1566.0,779.2 1567.4,775.7 1568.8,772.3 1570.3,772.9 1571.7,765.3 1573.1,768.3 1574.5,762.6 1575.9,765.1 1577.3,755.0 1578.7,742.9 1580.1,743.3 1581.5,740.9 1582.9,737.6 1584.3,734.0 1585.7,747.4 1587.2,725.9 1588.6,728.2 1590.0,730.2 1591.4,715.2 1592.8,716.5 1594.2,709.3 1595.6,724.0 1597.0,720.1 1598.4,708.5 1599.8,724.3 1601.2,706.1 1602.6,701.5 1604.1,730.7 1605.5,698.7 1606.9,695.2 1608.3,718.3 1609.7,720.6 1611.1,694.4 1612.5,685.7 1613.9,731.7 1615.3,689.5 1616.7,700.8 1618.1,717.2 1619.5,687.0 1621.0,731.2 1622.4,733.6 1623.8,674.7 1625.2,728.9 1626.6,699.1 1628.0,666.3 1629.4,694.4 1630.8,671.4 1632.2,674.2 1633.6,726.4 1635.0,674.7 1636.4,711.2 1637.9,683.7 1639.3,718.2 1640.7,662.1 1642.1,700.3 1643.5,677.2 1644.9,683.7 1646.3,665.7 1647.7,712.3 1649.1,701.0 1650.5,643.2 1651.9,670.7 1653.3,710.6 1654.8,719.4 1656.2,713.6 1657.6,714.5 1659.0,701.9 1660.4,698.2 1661.8,711.9 1663.2,713.2 1664.6,724.3 1666.0,743.6 1667.4,699.6 1668.8,706.4 1670.2,724.5 1671.7,711.4 1673.1,719.7 1674.5,746.1 1675.9,744.5 1677.3,735.8 1678.7,803.5 1680.1,727.5 1681.5,738.6 1682.9,728.6 1684.3,723.6 1685.7,755.7 1687.1,731.9 1688.6,740.1 1690.0,750.4 1691.4,749.7 1692.8,754.9 1694.2,751.9 1695.6,768.2 1697.0,763.7 1698.4,772.0 1699.8,769.6 1701.2,766.5 1702.6,769.6 1704.0,771.6 1705.5,778.2 1706.9,773.3 1708.3,774.0 1709.7,776.0 1711.1,777.8 1712.5,779.5 1713.9,767.5 1715.3,783.8 1716.7,782.0 1718.1,783.9 1719.5,777.2 1720.9,779.1 1722.4,778.9 1723.8,782.3 1725.2,784.0 1726.6,784.3 1728.0,783.4 1729.4,781.5 1730.8,783.5 1732.2,787.5 1733.6,789.8 1735.0,782.8 1736.4,790.5 1737.8,789.2 1739.3,794.7 1740.7,790.2 1742.1,782.8 1743.5,783.9 1744.9,791.7 1746.3,785.3 1747.7,792.2 1749.1,797.8 1750.5,783.6 1751.9,786.2 1753.3,791.9 1754.7,788.8 1756.2,789.0 1757.6,782.6 1759.0,794.5 1760.4,789.0 1761.8,784.0 1763.2,778.9 1764.6,786.8 1766.0,788.6 1767.4,783.1 1768.8,791.6 1770.2,790.3 1771.6,782.9 1773.1,790.5 1774.5,784.9 1775.9,783.5 1777.3,781.5 1778.7,782.4 1780.1,776.6 1781.5,777.2 1782.9,775.8 1784.3,767.4 1785.7,766.3 1787.1,772.0 1788.5,772.4 1790.0,771.6 1791.4,780.8 1792.8,771.4 1794.2,764.9 1795.6,771.9 1797.0,762.1 1798.4,764.5 1799.8,758.4 1801.2,752.0 1802.6,749.2 1804.0,750.5 1805.4,728.6 1806.9,719.0 1808.3,723.1 1809.7,730.9 1811.1,725.7 1812.5,723.2 1813.9,726.9 1815.3,712.3 1816.7,730.9 1818.1,723.5 1819.5,750.0 1820.9,726.7 1822.3,719.3 1823.8,724.9 1825.2,711.2 1826.6,736.6 1828.0,721.7 1829.4,726.0 1830.8,719.1 1832.2,719.2 1833.6,732.9 1835.0,739.2 1836.4,716.5 1837.8,711.2 1839.2,720.9 1840.7,730.1 1842.1,699.1 1843.5,723.7 1844.9,693.7 1846.3,725.0 1847.7,718.3 1849.1,743.4 1850.5,719.7 1851.9,735.7 1853.3,727.7 1854.7,683.2 1856.1,775.7 1857.6,715.1 1859.0,707.0 1860.4,738.5 1861.8,706.2 1863.2,710.9 1864.6,701.3 1866.0,690.2 1867.4,684.8 1868.8,666.9 1870.2,733.6 1871.6,685.3 1873.0,704.1 1874.5,688.9 1875.9,700.7 1877.3,710.2 1878.7,730.6 1880.1,731.2 1881.5,716.7 1882.9,740.4 1884.3,725.4 1885.7,745.2 1887.1,728.7 1888.5,732.5 1889.9,727.9 1891.4,745.1 1892.8,743.5 1894.2,731.7 1895.6,738.4 1897.0,737.1 1898.4,743.1 1899.8,747.8 1901.2,761.7 1902.6,773.9 1904.0,754.1 1905.4,749.4 1906.8,764.8 1908.3,760.2 1909.7,760.6 1911.1,759.2 1912.5,766.1 1913.9,766.4 1915.3,764.4 1916.7,763.8" fill="none" stroke="#167a28" stroke-width="2" stroke-linejoin="round" marker-start="url(#mT)" marker-mid="url(#mT)" marker-end="url(#mT)"/>
<polyline points="1257.6,683.9 1259.0,768.3 1260.4,748.8 1261.8,702.9 1263.2,674.3 1264.6,683.2 1266.1,746.7 1267.5,721.4 1268.9,734.8 1270.3,749.8 1271.7,693.3 1273.1,745.5 1274.5,701.5 1275.9,689.5 1277.3,714.1 1278.7,701.5 1280.1,723.7 1281.5,714.4 1283.0,689.4 1284.4,747.5 1285.8,720.0 1287.2,731.0 1288.6,741.7 1290.0,711.5 1291.4,674.8 1292.8,722.2 1294.2,700.0 1295.6,709.2 1297.0,714.0 1298.4,681.2 1299.9,774.8 1301.3,706.0 1302.7,723.1 1304.1,755.1 1305.5,673.4 1306.9,765.2 1308.3,753.2 1309.7,705.8 1311.1,704.0 1312.5,700.9 1313.9,740.6 1315.3,696.5 1316.8,788.7 1318.2,742.7 1319.6,726.5 1321.0,779.1 1322.4,706.4 1323.8,730.5 1325.2,718.4 1326.6,713.2 1328.0,721.7 1329.4,706.5 1330.8,709.9 1332.2,708.4 1333.7,723.0 1335.1,708.3 1336.5,720.9 1337.9,715.2 1339.3,714.5 1340.7,726.7 1342.1,765.1 1343.5,758.3 1344.9,736.7 1346.3,791.2 1347.7,751.9 1349.1,755.5 1350.6,763.6 1352.0,743.4 1353.4,767.2 1354.8,760.6 1356.2,753.5 1357.6,759.8 1359.0,759.4 1360.4,761.5 1361.8,765.1 1363.2,762.8 1364.6,773.3 1366.0,775.5 1367.5,762.3 1368.9,773.3 1370.3,774.5 1371.7,770.9 1373.1,768.5 1374.5,768.6 1375.9,767.4 1377.3,769.2 1378.7,769.2 1380.1,766.4 1381.5,777.8 1382.9,773.8 1384.4,770.7 1385.8,771.0 1387.2,769.6 1388.6,767.7 1390.0,771.5 1391.4,764.7 1392.8,774.4 1394.2,773.5 1395.6,776.1 1397.0,765.0 1398.4,780.3 1399.8,766.6 1401.3,766.6 1402.7,764.3 1404.1,762.9 1405.5,760.8 1406.9,756.6 1408.3,772.0 1409.7,762.4 1411.1,741.7 1412.5,740.0 1413.9,731.4 1415.3,739.1 1416.7,764.4 1418.2,774.8 1419.6,721.0 1421.0,743.2 1422.4,705.7 1423.8,711.9 1425.2,708.0 1426.6,703.1 1428.0,738.6 1429.4,680.3 1430.8,728.0 1432.2,680.6 1433.6,688.7 1435.1,684.3 1436.5,698.0 1437.9,680.8 1439.3,663.6 1440.7,667.8 1442.1,728.7 1443.5,680.5 1444.9,681.5 1446.3,700.4 1447.7,705.6 1449.1,695.4 1450.5,691.3 1452.0,717.0 1453.4,734.0 1454.8,703.8 1456.2,692.2 1457.6,697.3 1459.0,756.0 1460.4,702.8 1461.8,699.2 1463.2,689.5 1464.6,691.1 1466.0,748.9 1467.4,666.1 1468.9,682.6 1470.3,684.3 1471.7,737.9 1473.1,693.9 1474.5,684.4 1475.9,691.5 1477.3,706.6 1478.7,695.7 1480.1,709.4 1481.5,751.9 1482.9,707.4 1484.3,711.4 1485.8,717.0 1487.2,706.5 1488.6,735.0 1490.0,762.0 1491.4,709.2 1492.8,727.7 1494.2,731.2 1495.6,724.3 1497.0,728.5 1498.4,726.8 1499.8,729.7 1501.2,735.8 1502.7,732.9 1504.1,753.1 1505.5,750.8 1506.9,737.3 1508.3,772.0 1509.7,746.7 1511.1,745.9 1512.5,746.8 1513.9,751.9 1515.3,760.5 1516.7,772.5 1518.1,764.3 1519.6,764.7 1521.0,760.6 1522.4,765.3 1523.8,761.9 1525.2,764.3 1526.6,771.7 1528.0,774.0 1529.4,774.1 1530.8,776.0 1532.2,776.7 1533.6,776.1 1535.0,776.2 1536.5,772.2 1537.9,781.2 1539.3,769.6 1540.7,774.2 1542.1,773.6 1543.5,773.9 1544.9,769.9 1546.3,766.2 1547.7,775.5 1549.1,775.5 1550.5,775.8 1551.9,772.8 1553.4,776.5 1554.8,780.5 1556.2,774.5 1557.6,772.1 1559.0,773.6 1560.4,772.5 1561.8,774.8 1563.2,774.8 1564.6,778.1 1566.0,769.9 1567.4,767.0 1568.8,763.9 1570.3,760.5 1571.7,754.6 1573.1,756.8 1574.5,753.8 1575.9,756.5 1577.3,748.1 1578.7,738.9 1580.1,735.8 1581.5,730.5 1582.9,726.5 1584.3,725.8 1585.7,737.1 1587.2,712.8 1588.6,723.3 1590.0,722.6 1591.4,708.8 1592.8,707.2 1594.2,707.0 1595.6,723.7 1597.0,720.7 1598.4,709.3 1599.8,718.3 1601.2,705.6 1602.6,701.4 1604.1,726.2 1605.5,701.3 1606.9,693.5 1608.3,723.4 1609.7,723.2 1611.1,692.3 1612.5,691.8 1613.9,729.6 1615.3,697.1 1616.7,700.1 1618.1,715.1 1619.5,694.1 1621.0,739.4 1622.4,732.7 1623.8,682.5 1625.2,730.0 1626.6,701.7 1628.0,677.4 1629.4,700.5 1630.8,683.7 1632.2,683.1 1633.6,720.6 1635.0,685.7 1636.4,714.9 1637.9,689.1 1639.3,714.9 1640.7,671.7 1642.1,703.3 1643.5,681.1 1644.9,687.7 1646.3,668.5 1647.7,712.0 1649.1,706.2 1650.5,731.9 1651.9,679.6 1653.3,709.1 1654.8,715.8 1656.2,718.0 1657.6,710.0 1659.0,704.4 1660.4,703.8 1661.8,708.1 1663.2,710.4 1664.6,726.2 1666.0,738.3 1667.4,704.5 1668.8,707.0 1670.2,723.9 1671.7,709.9 1673.1,718.2 1674.5,731.2 1675.9,740.2 1677.3,729.4 1678.7,790.4 1680.1,723.1 1681.5,729.8 1682.9,728.4 1684.3,723.6 1685.7,752.1 1687.1,731.7 1688.6,738.9 1690.0,745.5 1691.4,746.7 1692.8,753.5 1694.2,749.1 1695.6,768.0 1697.0,753.2 1698.4,762.2 1699.8,762.0 1701.2,761.0 1702.6,760.5 1704.0,763.7 1705.5,772.8 1706.9,766.2 1708.3,765.6 1709.7,770.8 1711.1,767.6 1712.5,767.4 1713.9,763.3 1715.3,768.5 1716.7,774.5 1718.1,774.8 1719.5,768.0 1720.9,775.8 1722.4,772.4 1723.8,773.5 1725.2,773.4 1726.6,776.3 1728.0,773.2 1729.4,775.0 1730.8,782.7 1732.2,775.9 1733.6,783.7 1735.0,775.2 1736.4,783.0 1737.8,780.5 1739.3,782.2 1740.7,782.3 1742.1,777.8 1743.5,779.7 1744.9,781.8 1746.3,775.9 1747.7,783.8 1749.1,786.5 1750.5,781.2 1751.9,778.2 1753.3,784.3 1754.7,781.6 1756.2,780.0 1757.6,774.1 1759.0,779.9 1760.4,784.4 1761.8,779.5 1763.2,774.1 1764.6,779.9 1766.0,784.1 1767.4,777.3 1768.8,780.4 1770.2,783.4 1771.6,777.4 1773.1,780.6 1774.5,770.9 1775.9,777.0 1777.3,773.2 1778.7,769.8 1780.1,767.7 1781.5,766.3 1782.9,766.5 1784.3,762.4 1785.7,760.2 1787.1,763.9 1788.5,759.7 1790.0,760.7 1791.4,766.7 1792.8,759.0 1794.2,758.6 1795.6,762.9 1797.0,754.3 1798.4,758.2 1799.8,748.8 1801.2,744.0 1802.6,751.9 1804.0,746.7 1805.4,726.3 1806.9,719.2 1808.3,725.7 1809.7,727.7 1811.1,724.3 1812.5,725.4 1813.9,725.1 1815.3,714.4 1816.7,728.3 1818.1,721.2 1819.5,756.0 1820.9,721.9 1822.3,718.0 1823.8,719.3 1825.2,709.6 1826.6,735.1 1828.0,724.7 1829.4,723.0 1830.8,711.2 1832.2,722.7 1833.6,729.4 1835.0,735.7 1836.4,714.7 1837.8,710.8 1839.2,720.9 1840.7,725.8 1842.1,705.3 1843.5,721.8 1844.9,691.4 1846.3,719.8 1847.7,720.9 1849.1,739.9 1850.5,713.9 1851.9,729.5 1853.3,725.8 1854.7,717.7 1856.1,705.6 1857.6,712.7 1859.0,703.3 1860.4,735.3 1861.8,706.6 1863.2,712.5 1864.6,698.2 1866.0,692.8 1867.4,690.8 1868.8,680.0 1870.2,733.9 1871.6,700.6 1873.0,712.6 1874.5,706.6 1875.9,717.9 1877.3,719.0 1878.7,745.4 1880.1,745.1 1881.5,734.6 1882.9,757.8 1884.3,747.7 1885.7,760.9 1887.1,751.9 1888.5,757.3 1889.9,757.8 1891.4,768.6 1892.8,764.2 1894.2,759.2 1895.6,761.2 1897.0,761.3 1898.4,771.3 1899.8,765.2 1901.2,778.9 1902.6,794.5 1904.0,768.3 1905.4,767.4 1906.8,778.3 1908.3,773.0 1909.7,777.0 1911.1,771.3 1912.5,777.1 1913.9,779.3 1915.3,771.7 1916.7,775.9 1918.1,775.6 1919.5,776.0 1920.9,775.7 1922.3,775.1 1923.7,775.4 1925.2,776.8 1926.6,776.3 1928.0,777.6 1929.4,784.8 1930.8,782.2 1932.2,777.8 1933.6,783.7 1935.0,781.0 1936.4,784.4 1937.8,780.3 1939.2,784.3" fill="none" stroke="#ef722f" stroke-width="2.2" stroke-linejoin="round" marker-start="url(#mC)" marker-mid="url(#mC)" marker-end="url(#mC)"/>
</g>
<path d="M1192.2 547.5H2037.2V874.6" stroke="#505050" stroke-width="1.5" fill="none"/>
<path d="M1192.2 547.5V874.6M1192.2 874.6H2037.2M1184.2 874.6H1192.2M1184.2 792.8H1192.2M1184.2 711H1192.2M1184.2 629.3H1192.2M1184.2 547.5H1192.2M1192.2 874.6V882.6M1209.1 868.6V874.6M1226 868.6V874.6M1242.9 868.6V874.6M1259.8 868.6V874.6M1276.7 874.6V882.6M1293.6 868.6V874.6M1310.5 868.6V874.6M1327.4 868.6V874.6M1344.3 868.6V874.6M1361.2 874.6V882.6M1378.1 868.6V874.6M1395 868.6V874.6M1411.9 868.6V874.6M1428.8 868.6V874.6M1445.7 874.6V882.6M1462.6 868.6V874.6M1479.5 868.6V874.6M1496.4 868.6V874.6M1513.3 868.6V874.6M1530.2 874.6V882.6M1547.1 868.6V874.6M1564 868.6V874.6M1580.9 868.6V874.6M1597.8 868.6V874.6M1614.7 874.6V882.6M1631.6 868.6V874.6M1648.5 868.6V874.6M1665.4 868.6V874.6M1682.3 868.6V874.6M1699.2 874.6V882.6M1716.1 868.6V874.6M1733 868.6V874.6M1749.9 868.6V874.6M1766.8 868.6V874.6M1783.7 874.6V882.6M1800.6 868.6V874.6M1817.5 868.6V874.6M1834.4 868.6V874.6M1851.3 868.6V874.6M1868.2 874.6V882.6M1885.1 868.6V874.6M1902 868.6V874.6M1918.9 868.6V874.6M1935.8 868.6V874.6M1952.7 874.6V882.6M1969.6 868.6V874.6M1986.5 868.6V874.6M2003.4 868.6V874.6M2020.3 868.6V874.6M2037.2 874.6V882.6" stroke="#333" stroke-width="1.6" fill="none"/>
<text x="1192.2" y="916.1" text-anchor="middle" class="tk">1975</text>
<text x="1276.7" y="916.1" text-anchor="middle" class="tk">1980</text>
<text x="1361.2" y="916.1" text-anchor="middle" class="tk">1985</text>
<text x="1445.7" y="916.1" text-anchor="middle" class="tk">1990</text>
<text x="1530.2" y="916.1" text-anchor="middle" class="tk">1995</text>
<text x="1614.7" y="916.1" text-anchor="middle" class="tk">2000</text>
<text x="1699.2" y="916.1" text-anchor="middle" class="tk">2005</text>
<text x="1783.7" y="916.1" text-anchor="middle" class="tk">2010</text>
<text x="1868.2" y="916.1" text-anchor="middle" class="tk">2015</text>
<text x="1952.7" y="916.1" text-anchor="middle" class="tk">2020</text>
<text x="2037.2" y="916.1" text-anchor="middle" class="tk">2025</text>
<text x="1168.7" y="884.1" text-anchor="end" class="tk">1359</text>
<text x="1168.7" y="802.3" text-anchor="end" class="tk">1360</text>
<text x="1168.7" y="720.5" text-anchor="end" class="tk">1361</text>
<text x="1168.7" y="638.8" text-anchor="end" class="tk">1362</text>
<text x="1168.7" y="557" text-anchor="end" class="tk">1363</text>
<text x="1197.7" y="534.4" class="pl">(e) Group E</text>
<text transform="translate(1097.2 711) rotate(-90)" text-anchor="middle" class="yl">TSI at 1au (W m<tspan dy="-10" font-size="19">-2</tspan><tspan dy="10">)</tspan></text>
<path d="M1278.8 992.6V1319.3M1363.2 992.6V1319.3M1447.5 992.6V1319.3M1531.9 992.6V1319.3M1616.2 992.6V1319.3M1700.6 992.6V1319.3M1785 992.6V1319.3M1869.3 992.6V1319.3M1953.7 992.6V1319.3M1194.5 1237.6H2038M1194.5 1156H2038M1194.5 1074.3H2038" stroke="#d9d9d9" stroke-width="1.2" fill="none"/>
<g filter="url(#sh)">
<polyline points="1259.3,1146.1 1260.9,1120.3 1262.5,1067.8 1264.1,1012.2 1265.7,1002.4 1267.3,1033.9 1268.9,1046.5 1270.3,1066.7 1271.8,1080.8 1273.5,1092.4 1275.1,1103.7 1276.9,1101.6 1278.7,1087.3 1280.2,1087.1 1281.7,1095.5 1283.2,1092.2 1284.7,1100.0 1286.2,1115.4 1287.6,1125.7 1289.6,1103.1 1291.5,1106.9 1293.5,1086.2 1295.6,1089.8 1297.3,1113.1 1299.1,1131.4 1300.5,1174.9 1302.0,1220.0 1303.4,1153.8 1304.7,1232.7 1306.2,1202.7 1307.6,1127.7 1309.0,1212.1 1310.4,1203.4 1311.8,1159.0 1313.2,1158.6 1314.6,1153.1 1316.0,1199.8 1317.4,1145.3 1318.8,1240.8 1320.5,1227.8 1321.6,1180.3 1323.0,1235.1 1324.5,1160.7 1325.9,1179.7 1327.3,1176.7 1328.7,1165.6 1330.1,1176.2 1331.5,1159.4 1332.9,1158.4 1334.3,1159.7 1335.7,1178.8 1336.5,1203.3 1338.5,1176.6 1339.9,1166.0 1341.3,1167.8 1342.7,1188.8 1344.1,1217.8 1345.5,1210.1 1346.9,1191.0 1347.8,1262.9 1349.8,1207.3 1351.2,1209.1 1352.6,1216.6 1354.0,1190.5 1355.4,1229.2 1356.8,1223.4 1358.2,1223.6 1359.6,1221.1 1361.0,1226.0 1362.4,1233.6 1363.8,1232.2 1365.2,1238.9 1366.6,1241.6 1368.3,1246.6 1369.4,1235.1 1370.8,1239.2 1372.3,1243.2 1373.7,1238.5 1375.1,1239.9 1376.5,1243.0 1377.9,1234.6 1379.3,1235.7 1380.7,1242.8 1382.1,1241.6 1383.5,1247.0 1384.9,1244.9 1386.3,1240.9 1387.7,1245.2 1389.1,1237.0 1390.5,1242.7 1391.9,1237.6 1393.3,1236.4 1394.7,1245.5 1396.2,1245.1 1397.6,1254.1 1399.0,1241.2 1400.4,1255.5 1402.3,1245.0 1404.6,1237.1 1406.0,1233.9 1407.4,1233.3 1408.8,1228.7 1410.2,1241.0 1411.6,1230.0 1413.0,1212.4 1414.4,1214.2 1415.8,1203.4 1417.2,1204.2 1418.6,1237.4 1420.1,1245.5 1421.5,1186.2 1422.8,1236.8 1424.3,1167.5 1425.7,1175.3 1427.1,1169.8 1428.5,1162.3 1429.9,1200.3 1431.3,1141.4 1432.7,1180.9 1434.1,1133.7 1435.5,1141.5 1436.9,1142.1 1438.3,1151.4 1439.7,1131.4 1441.2,1113.0 1442.7,1103.1 1444.2,1106.9 1445.9,1125.8 1447.5,1116.0 1449.2,1115.1 1451.0,1115.5 1452.7,1096.8 1454.5,1089.8 1456.0,1100.3 1457.5,1111.1 1459.0,1103.7 1460.8,1115.5 1462.6,1088.0 1464.4,1090.6 1466.0,1068.5 1467.6,1072.3 1469.1,1057.9 1470.7,1069.3 1472.2,1093.2 1473.7,1098.8 1476.2,1106.9 1477.8,1102.6 1479.4,1083.3 1482.1,1098.8 1483.7,1074.8 1485.2,1071.8 1487.0,1089.6 1488.9,1122.5 1490.7,1134.7 1492.3,1121.0 1493.9,1123.3 1495.8,1120.5 1497.7,1133.1 1499.3,1136.5 1501.0,1147.8 1502.7,1141.8 1504.4,1144.5 1506.1,1145.6 1507.8,1156.0 1509.5,1159.6 1511.1,1175.6 1513.1,1172.1 1515.0,1164.1 1516.5,1151.1 1518.1,1153.5 1519.8,1151.3 1521.4,1168.2 1523.1,1176.1 1524.8,1180.5 1526.2,1178.3 1527.7,1172.3 1529.1,1177.9 1530.6,1164.9 1532.2,1168.0 1533.9,1176.4 1535.6,1176.3 1537.3,1173.9 1538.8,1170.1 1540.3,1168.2 1543.0,1171.5 1545.4,1180.5 1547.0,1180.6 1548.6,1196.0 1550.4,1192.3 1552.1,1188.6 1553.6,1194.0 1555.1,1185.2 1556.5,1187.0 1558.1,1190.9 1559.7,1192.7 1561.6,1203.8 1563.4,1198.4 1565.1,1189.9 1566.8,1184.5 1568.5,1168.1 1570.2,1169.0 1571.9,1158.2 1573.6,1160.0 1575.3,1146.8 1576.9,1148.6 1578.7,1141.9 1580.5,1143.7 1582.2,1133.8 1583.9,1133.1 1585.5,1129.0 1587.2,1123.3 1588.9,1109.0 1590.6,1107.8 1592.1,1105.5 1593.6,1117.9 1595.2,1111.0 1596.7,1093.5 1598.2,1108.3 1599.7,1089.8 1601.4,1087.0 1603.1,1098.8 1604.8,1095.9 1606.5,1110.2 1608.2,1102.9 1609.8,1098.8 1611.6,1090.8 1613.4,1093.9 1614.9,1112.2 1616.4,1116.5 1617.9,1106.9 1619.4,1081.3 1620.9,1069.2 1622.3,1060.4 1624.3,1065.0 1626.2,1075.9 1627.9,1075.7 1629.6,1060.4 1632.3,1082.4 1633.8,1075.9 1635.3,1057.9 1637.0,1078.6 1638.7,1103.7 1640.1,1082.9 1641.6,1082.4 1643.0,1107.3 1644.4,1098.8 1646.1,1084.9 1647.8,1063.2 1649.5,1069.3 1651.2,1032.6 1652.9,1045.6 1654.5,1035.1 1656.1,1061.9 1657.6,1093.1 1659.1,1116.7 1660.6,1100.7 1662.0,1097.0 1663.5,1098.8 1665.3,1081.6 1667.0,1078.4 1668.5,1093.7 1670.1,1092.5 1671.6,1134.7 1673.3,1122.4 1675.0,1119.2 1676.6,1125.3 1678.3,1114.3 1679.8,1118.7 1681.4,1111.9 1682.9,1125.7 1684.3,1128.5 1685.8,1142.0 1687.2,1141.9 1688.6,1166.6 1690.4,1158.0 1692.2,1156.0 1693.6,1149.4 1695.0,1156.2 1696.4,1151.9 1698.2,1143.7 1699.9,1142.1 1701.9,1148.3 1704.0,1164.1 1705.9,1175.0 1707.9,1175.6 1709.5,1180.9 1711.2,1168.2 1712.9,1173.5 1714.6,1164.9 1716.1,1173.1 1717.6,1164.8 1719.2,1172.3 1720.7,1170.9 1722.2,1164.6 1723.7,1162.5 1725.7,1173.0 1727.6,1176.4 1729.3,1182.4 1731.1,1184.8 1732.8,1191.9 1734.8,1192.1 1736.9,1184.5 1738.6,1185.4 1740.2,1184.5 1741.9,1182.9 1743.3,1188.2 1744.7,1188.9 1746.1,1188.6 1747.8,1184.8 1749.5,1183.7 1751.4,1190.2 1753.2,1185.4 1755.2,1183.7 1757.1,1190.3 1758.8,1185.4 1760.5,1187.0 1762.5,1189.2 1764.5,1189.4 1766.0,1193.9 1767.5,1189.3 1768.9,1187.0 1770.5,1183.7 1772.1,1183.7 1773.6,1185.4 1775.2,1193.5 1776.7,1187.0 1778.2,1188.6 1779.7,1190.2 1781.2,1187.0 1782.8,1189.4 1784.3,1190.0 1785.8,1180.5 1787.6,1170.4 1789.5,1164.9 1791.1,1171.3 1792.7,1172.4 1794.2,1170.7 1795.7,1170.7 1797.2,1164.8 1798.6,1166.6 1800.2,1158.1 1801.8,1160.0 1803.6,1159.7 1805.4,1139.6 1806.9,1159.8 1808.4,1163.2 1809.9,1162.5 1811.8,1147.0 1813.6,1147.8 1815.0,1148.4 1816.4,1122.8 1817.8,1125.7 1820.4,1139.6 1821.9,1156.9 1823.4,1148.6 1825.3,1143.2 1827.1,1135.5 1828.7,1127.8 1830.3,1119.2 1832.1,1128.1 1833.9,1131.4 1835.5,1133.8 1837.1,1137.2 1838.8,1124.5 1840.6,1127.4 1842.2,1130.7 1843.8,1119.2 1845.6,1127.5 1847.4,1131.4 1849.1,1135.0 1850.7,1130.6 1853.3,1119.2 1854.8,1120.8 1856.3,1103.7 1857.7,1106.9 1859.2,1131.4 1860.6,1129.3 1862.0,1144.5 1863.6,1137.3 1865.2,1124.1 1866.8,1115.1 1868.2,1091.4 1869.7,1106.5 1871.2,1087.3 1873.5,1106.9 1875.1,1108.9 1876.7,1114.3 1878.5,1112.9 1880.3,1123.3 1881.7,1135.8 1883.2,1133.8 1884.7,1133.1 1886.3,1139.9 1887.9,1139.6 1889.7,1153.2 1891.6,1148.6 1893.1,1155.7 1894.6,1160.0 1896.5,1163.1 1898.3,1166.6 1899.8,1170.2 1901.4,1164.1 1903.2,1162.3 1905.1,1171.5 1906.6,1171.8 1908.2,1173.9 1909.8,1180.5 1912.3,1176.4 1913.8,1181.6 1915.4,1191.9 1917.2,1178.8 1919.1,1180.5 1920.6,1178.9 1922.1,1175.6 1924.0,1178.0 1925.8,1178.8 1927.2,1183.6 1928.6,1170.1 1930.0,1171.5 1931.4,1174.3 1932.8,1174.4 1934.2,1176.4 1935.9,1176.6 1937.6,1178.8 1939.5,1180.6 1941.3,1180.5 1943.3,1175.6 1945.2,1177.2 1947.0,1178.8 1948.7,1181.2 1950.4,1173.9 1952.0,1178.7 1953.7,1180.5 1955.5,1184.1 1957.4,1178.0 1959.0,1176.6 1960.7,1172.3 1962.4,1167.9 1964.1,1166.6 1965.8,1165.3 1967.5,1168.2 1969.2,1159.4 1970.9,1160.0 1972.4,1158.4 1973.9,1164.1 1976.6,1164.9 1978.3,1161.9 1980.0,1146.1 1981.6,1148.1 1983.2,1147.8 1984.9,1144.6 1986.7,1146.1 1988.3,1138.7 1989.9,1127.4 1991.8,1113.7 1993.6,1105.3 1995.2,1115.8 1996.7,1111.0 1998.5,1105.7 2000.4,1101.2 2002.1,1099.6 2003.8,1106.9 2005.4,1092.0 2007.1,1073.5 2008.6,1083.7 2010.2,1090.6 2012.9,1119.2 2014.5,1095.6 2016.1,1082.4 2018.4,1055.5 2020.3,1082.4 2022.0,1078.4" fill="none" stroke="#70ffff" stroke-width="3.6" stroke-linejoin="round"/>
<polyline points="1259.8,1118.4 1261.2,1201.0 1262.6,1190.0 1264.0,1140.1 1265.4,1100.4 1266.8,1111.8 1268.2,1192.4 1269.6,1160.0 1271.0,1173.0 1272.4,1199.8 1273.8,1129.2 1275.3,1195.2 1276.7,1142.1 1278.1,1125.2 1279.5,1161.0 1280.9,1140.1 1282.3,1172.4 1283.7,1161.7 1285.1,1126.4 1286.5,1197.9 1287.9,1162.0 1289.3,1178.0 1290.7,1190.1 1292.1,1150.0 1293.5,1107.2 1294.9,1159.8 1296.3,1135.8 1297.7,1144.6 1299.2,1155.3 1300.6,1105.7 1302.0,1202.3 1303.4,1140.5 1304.8,1156.3 1306.2,1198.6 1307.6,1099.4 1309.0,1209.2 1310.4,1195.4 1311.8,1141.4 1313.2,1138.7 1314.6,1129.2 1316.0,1177.7 1317.4,1126.5 1318.8,1236.7 1320.2,1181.4 1321.6,1163.1 1323.0,1223.2 1324.5,1139.5 1325.9,1175.6 1327.3,1164.3 1328.7,1163.5 1330.1,1172.5 1331.5,1162.1 1332.9,1158.0 1334.3,1159.1 1335.7,1177.6 1337.1,1156.7 1338.5,1172.9 1339.9,1167.8 1341.3,1167.3 1342.7,1180.7 1344.1,1221.7 1345.5,1217.3 1346.9,1189.8 1348.4,1237.6 1349.8,1205.9 1351.2,1207.5 1352.6,1222.3 1354.0,1195.9 1355.4,1229.8 1356.8,1217.5 1358.2,1208.1 1359.6,1214.0 1361.0,1220.4 1362.4,1218.4 1363.8,1225.4 1365.2,1225.6 1366.6,1234.9 1368.0,1237.5 1369.4,1226.8 1370.8,1236.4 1372.3,1238.3 1373.7,1233.6 1375.1,1229.2 1376.5,1235.0 1377.9,1237.4 1379.3,1237.0 1380.7,1231.3 1382.1,1234.6 1383.5,1243.6 1384.9,1235.0 1386.3,1235.8 1387.7,1234.7 1389.1,1236.6 1390.5,1230.6 1391.9,1230.9 1393.3,1229.8 1394.7,1237.3 1396.2,1239.8 1397.6,1241.3 1399.0,1228.1 1400.4,1246.0 1401.8,1230.1 1403.2,1225.2 1404.6,1232.3 1406.0,1225.4 1407.4,1227.3 1408.8,1219.4 1410.2,1231.1 1411.6,1223.3 1413.0,1199.8 1414.4,1201.1 1415.8,1188.1 1417.2,1195.1 1418.6,1222.7 1420.1,1222.9 1421.5,1167.7 1422.9,1199.0 1424.3,1153.9 1425.7,1156.0 1427.1,1153.6 1428.5,1145.4 1429.9,1191.5 1431.3,1118.0 1432.7,1179.9 1434.1,1111.0 1435.5,1131.1 1436.9,1119.5 1438.3,1134.3 1439.7,1111.8 1441.1,1100.4 1442.5,1099.8 1444.0,1169.8 1445.4,1119.5 1446.8,1119.9 1448.2,1142.5 1449.6,1145.7 1451.0,1133.7 1452.4,1130.9 1453.8,1159.4 1455.2,1175.4 1456.6,1147.9 1458.0,1130.0 1459.4,1133.9 1460.8,1224.6 1462.2,1132.7 1463.6,1130.8 1465.0,1115.3 1466.4,1126.1 1467.9,1194.2 1469.3,1102.0 1470.7,1116.5 1472.1,1118.3 1473.5,1186.2 1474.9,1122.4 1476.3,1118.9 1477.7,1128.8 1479.1,1144.1 1480.5,1133.5 1481.9,1149.2 1483.3,1200.7 1484.7,1149.4 1486.1,1149.4 1487.5,1162.1 1488.9,1156.8 1490.3,1184.0 1491.7,1216.8 1493.2,1156.1 1494.6,1175.5 1496.0,1177.7 1497.4,1179.1 1498.8,1178.3 1500.2,1179.6 1501.6,1181.0 1503.0,1188.7 1504.4,1182.4 1505.8,1205.7 1507.2,1203.3 1508.6,1189.0 1510.0,1230.2 1511.4,1202.1 1512.8,1202.5 1514.2,1193.9 1515.6,1207.8 1517.1,1215.2 1518.5,1232.3 1519.9,1220.5 1521.3,1225.4 1522.7,1221.0 1524.1,1224.8 1525.5,1220.9 1526.9,1226.3 1528.3,1235.3 1529.7,1239.5 1531.1,1235.3 1532.5,1235.1 1533.9,1235.8 1535.3,1235.3 1536.7,1237.1 1538.1,1235.9 1539.5,1241.6 1541.0,1231.8 1542.4,1240.8 1543.8,1237.8 1545.2,1240.1 1546.6,1227.2 1548.0,1228.1 1549.4,1233.6 1550.8,1236.5 1552.2,1237.9 1553.6,1234.1 1555.0,1231.8 1556.4,1240.7 1557.8,1234.3 1559.2,1233.6 1560.6,1236.1 1562.0,1232.5 1563.4,1240.5 1564.9,1234.8 1566.3,1240.8 1567.7,1227.7 1569.1,1232.2 1570.5,1223.6 1571.9,1224.1 1573.3,1216.4 1574.7,1216.8 1576.1,1217.4 1577.5,1221.1 1578.9,1208.1 1580.3,1200.0 1581.7,1202.6 1583.1,1194.8 1584.5,1184.8 1585.9,1187.9 1587.3,1194.2 1588.8,1167.7 1590.2,1185.6 1591.6,1183.7 1593.0,1162.5 1594.4,1162.6 1595.8,1158.3 1597.2,1177.5 1598.6,1173.5 1600.0,1165.3 1601.4,1170.3 1602.8,1162.2 1604.2,1160.3 1605.6,1181.9 1607.0,1156.2 1608.4,1151.8 1609.8,1178.2 1611.2,1179.6 1612.7,1144.4 1614.1,1141.5 1615.5,1186.4 1616.9,1148.2 1618.3,1153.4 1619.7,1167.1 1621.1,1142.0 1622.5,1185.4 1623.9,1180.7 1625.3,1131.7 1626.7,1172.9 1628.1,1148.6 1629.5,1129.9 1630.9,1148.6 1632.3,1128.4 1633.7,1131.6 1635.1,1168.2 1636.6,1132.6 1638.0,1167.7 1639.4,1132.7 1640.8,1163.8 1642.2,1124.9 1643.6,1148.3 1645.0,1130.4 1646.4,1135.4 1647.8,1124.8 1649.2,1159.4 1650.6,1152.2 1652.0,1078.4 1653.4,1134.9 1654.8,1160.8 1656.2,1165.5 1657.6,1169.1 1659.0,1164.1 1660.4,1150.5 1661.9,1157.0 1663.3,1156.3 1664.7,1160.8 1666.1,1176.4 1667.5,1190.9 1668.9,1150.7 1670.3,1162.8 1671.7,1180.8 1673.1,1162.0 1674.5,1163.7 1675.9,1183.0 1677.3,1196.6 1678.7,1186.5 1680.1,1258.9 1681.5,1177.2 1682.9,1188.1 1684.3,1183.8 1685.8,1176.9 1687.2,1206.8 1688.6,1183.5 1690.0,1197.0 1691.4,1201.6 1692.8,1203.3 1694.2,1206.0 1695.6,1208.2 1697.0,1223.0 1698.4,1207.5 1699.8,1217.1 1701.2,1219.6 1702.6,1219.4 1704.0,1216.3 1705.4,1221.7 1706.8,1231.6 1708.2,1228.7 1709.7,1229.8 1711.1,1229.5 1712.5,1226.6 1713.9,1223.7 1715.3,1217.9 1716.7,1225.8 1718.1,1231.3 1719.5,1231.8 1720.9,1221.2 1722.3,1231.8 1723.7,1229.6 1725.1,1231.5 1726.5,1229.2 1727.9,1237.7 1729.3,1232.7 1730.7,1236.0 1732.1,1243.0 1733.6,1229.2 1735.0,1238.3 1736.4,1229.4 1737.8,1240.0 1739.2,1240.5 1740.6,1241.7 1742.0,1244.9 1743.4,1242.6 1744.8,1236.9 1746.2,1241.8 1747.6,1235.2 1749.0,1237.7 1750.4,1242.3 1751.8,1237.8 1753.2,1239.5 1754.6,1241.1 1756.0,1241.9 1757.5,1240.5 1758.9,1235.8 1760.3,1238.8 1761.7,1236.3 1763.1,1242.4 1764.5,1233.2 1765.9,1239.2 1767.3,1239.0 1768.7,1236.4 1770.1,1237.4 1771.5,1241.7 1772.9,1238.7 1774.3,1238.7 1775.7,1231.1 1777.1,1233.7 1778.5,1227.8 1779.9,1229.6 1781.4,1225.0 1782.8,1226.7 1784.2,1225.1 1785.6,1220.7 1787.0,1215.1 1788.4,1217.8 1789.8,1217.2 1791.2,1219.8 1792.6,1223.9 1794.0,1213.5 1795.4,1211.4 1796.8,1223.8 1798.2,1214.4 1799.6,1211.2 1801.0,1204.1 1802.4,1195.4 1803.8,1207.3 1805.3,1203.4 1806.7,1183.4 1808.1,1172.5 1809.5,1183.9 1810.9,1179.6 1812.3,1175.7 1813.7,1178.2 1815.1,1182.0 1816.5,1167.0 1817.9,1183.5 1819.3,1175.3 1820.7,1211.4 1822.1,1172.2 1823.5,1175.5 1824.9,1173.3 1826.3,1164.7 1827.7,1188.0 1829.1,1182.2 1830.6,1181.9 1832.0,1167.0 1833.4,1173.7 1834.8,1184.8 1836.2,1185.8 1837.6,1172.1 1839.0,1164.8 1840.4,1173.8 1841.8,1180.5 1843.2,1161.8 1844.6,1176.6 1846.0,1146.9 1847.4,1176.8 1848.8,1171.1 1850.2,1192.4 1851.6,1167.8 1853.0,1187.6 1854.5,1179.7 1855.9,1175.0 1857.3,1165.7 1858.7,1165.9 1860.1,1159.1 1861.5,1193.5 1862.9,1164.4 1864.3,1169.9 1865.7,1157.2 1867.1,1154.0 1868.5,1150.2 1869.9,1129.0 1871.3,1182.1 1872.7,1150.0 1874.1,1165.0 1875.5,1163.7 1876.9,1175.8 1878.4,1177.3 1879.8,1199.2 1881.2,1203.7 1882.6,1198.1 1884.0,1208.9 1885.4,1202.8 1886.8,1217.7 1888.2,1202.3 1889.6,1214.4 1891.0,1215.0 1892.4,1220.2 1893.8,1225.6 1895.2,1211.0 1896.6,1216.1 1898.0,1224.2 1899.4,1228.2 1900.8,1223.9" fill="none" stroke="#2b9fe0" stroke-width="1.5" stroke-linejoin="round" marker-start="url(#mS)" marker-mid="url(#mS)" marker-end="url(#mS)"/>
<polyline points="1259.8,1134.4 1261.2,1219.4 1262.6,1197.8 1264.0,1153.0 1265.4,1126.6 1266.8,1135.1 1268.2,1191.3 1269.6,1175.6 1271.0,1182.1 1272.4,1197.1 1273.8,1141.2 1275.3,1189.6 1276.7,1154.7 1278.1,1143.3 1279.5,1166.7 1280.9,1152.7 1282.3,1169.9 1283.7,1166.5 1285.1,1136.9 1286.5,1190.4 1287.9,1170.2 1289.3,1180.5 1290.7,1187.7 1292.1,1155.1 1293.5,1127.6 1294.9,1167.3 1296.3,1106.9 1297.7,1157.8 1299.2,1157.5 1300.6,1132.8 1302.0,1219.7 1303.4,1156.1 1304.8,1167.1 1306.2,1202.2 1307.6,1124.5 1309.0,1211.5 1310.4,1204.6 1311.8,1153.1 1313.2,1149.4 1314.6,1149.7 1316.0,1188.7 1317.4,1146.8 1318.8,1240.8 1320.2,1189.1 1321.6,1171.7 1323.0,1222.8 1324.5,1157.2 1325.9,1180.8 1327.3,1169.9 1328.7,1161.4 1330.1,1181.7 1331.5,1164.4 1332.9,1171.3 1334.3,1160.9 1335.7,1178.6 1337.1,1160.1 1338.5,1175.7 1339.9,1169.9 1341.3,1165.0 1342.7,1178.3 1344.1,1220.0 1345.5,1206.3 1346.9,1189.7 1348.4,1249.1 1349.8,1206.7 1351.2,1214.0 1352.6,1219.9 1354.0,1200.6 1355.4,1220.2 1356.8,1211.0 1358.2,1209.1 1359.6,1215.4 1361.0,1222.8 1362.4,1220.5 1363.8,1222.0 1365.2,1223.5 1366.6,1235.5 1368.0,1232.4 1369.4,1218.6 1370.8,1235.7 1372.3,1230.4 1373.7,1230.3 1375.1,1224.9 1376.5,1229.1 1377.9,1222.6 1379.3,1226.2 1380.7,1231.1 1382.1,1221.2 1383.5,1241.9 1384.9,1233.6 1386.3,1221.3 1387.7,1223.7 1389.1,1227.9 1390.5,1224.1 1391.9,1232.7 1393.3,1217.4 1394.7,1235.3 1396.2,1229.7 1397.6,1231.7 1399.0,1223.2 1400.4,1239.4 1401.8,1224.8 1403.2,1223.4 1404.6,1220.4 1406.0,1225.1 1407.4,1217.3 1408.8,1214.7 1410.2,1227.8 1411.6,1216.2 1413.0,1199.2 1414.4,1195.7 1415.8,1188.8 1417.2,1191.9 1418.6,1215.5 1420.1,1229.2 1421.5,1170.5 1422.9,1195.5 1424.3,1159.4 1425.7,1160.1 1427.1,1158.5 1428.5,1159.8 1429.9,1199.9 1431.3,1126.0 1432.7,1171.1 1434.1,1141.8 1435.5,1141.2 1436.9,1139.4 1438.3,1146.4 1439.7,1130.5 1441.1,1111.6 1442.5,1117.6 1444.0,1174.0 1445.4,1138.3 1446.8,1140.8 1448.2,1152.5 1449.6,1154.9 1451.0,1144.8 1452.4,1145.3 1453.8,1162.0 1455.2,1188.1 1456.6,1157.8 1458.0,1139.1 1459.4,1144.8 1460.8,1204.9 1462.2,1224.6 1463.6,1145.7 1465.0,1141.8 1466.4,1139.6 1467.9,1195.1 1469.3,1102.0 1470.7,1134.3 1472.1,1133.2 1473.5,1188.9 1474.9,1147.2 1476.3,1131.9 1477.7,1141.3 1479.1,1157.7 1480.5,1149.7 1481.9,1163.3 1483.3,1197.5 1484.7,1156.9 1486.1,1165.7 1487.5,1170.7 1488.9,1163.1 1490.3,1190.8 1491.7,1218.9 1493.2,1163.6 1494.6,1182.5 1496.0,1185.2 1497.4,1181.5 1498.8,1181.0 1500.2,1178.0 1501.6,1191.3 1503.0,1192.0 1504.4,1190.6 1505.8,1208.2 1507.2,1209.4 1508.6,1189.7 1510.0,1226.2 1511.4,1201.2 1512.8,1198.1 1514.2,1198.2 1515.6,1207.2 1517.1,1213.0 1518.5,1226.5 1519.9,1220.9 1521.3,1220.8 1522.7,1219.9 1524.1,1223.9 1525.5,1214.2 1526.9,1215.3 1528.3,1228.1 1529.7,1231.8 1531.1,1234.1 1532.5,1227.8 1533.9,1238.5 1535.3,1241.6 1536.7,1234.3 1538.1,1223.2 1539.5,1238.2 1541.0,1224.7 1542.4,1227.8 1543.8,1233.3 1545.2,1235.8 1546.6,1226.4 1548.0,1221.3 1549.4,1232.2 1550.8,1225.1 1552.2,1237.1 1553.6,1230.9 1555.0,1235.7 1556.4,1235.2 1557.8,1229.9 1559.2,1228.3 1560.6,1229.1 1562.0,1229.7 1563.4,1233.9 1564.9,1232.9 1566.3,1233.4 1567.7,1225.6 1569.1,1222.2 1570.5,1218.8 1571.9,1219.3 1573.3,1211.8 1574.7,1214.8 1576.1,1209.0 1577.5,1211.6 1578.9,1201.4 1580.3,1189.4 1581.7,1189.8 1583.1,1187.4 1584.5,1184.1 1585.9,1180.5 1587.3,1193.9 1588.8,1172.4 1590.2,1174.7 1591.6,1176.8 1593.0,1161.7 1594.4,1163.0 1595.8,1155.8 1597.2,1170.6 1598.6,1166.7 1600.0,1155.0 1601.4,1170.8 1602.8,1152.6 1604.2,1148.1 1605.6,1177.2 1607.0,1145.2 1608.4,1141.7 1609.8,1164.8 1611.2,1167.1 1612.7,1141.0 1614.1,1132.2 1615.5,1178.2 1616.9,1136.0 1618.3,1147.4 1619.7,1163.7 1621.1,1133.6 1622.5,1177.7 1623.9,1180.1 1625.3,1121.3 1626.7,1175.4 1628.1,1145.6 1629.5,1112.9 1630.9,1141.0 1632.3,1118.0 1633.7,1120.8 1635.1,1172.9 1636.6,1121.3 1638.0,1157.7 1639.4,1130.3 1640.8,1164.7 1642.2,1108.7 1643.6,1146.9 1645.0,1123.7 1646.4,1130.3 1647.8,1112.2 1649.2,1158.8 1650.6,1147.5 1652.0,1089.8 1653.4,1117.3 1654.8,1157.1 1656.2,1165.9 1657.6,1160.2 1659.0,1161.0 1660.4,1148.5 1661.9,1144.8 1663.3,1158.5 1664.7,1159.8 1666.1,1170.8 1667.5,1190.1 1668.9,1146.1 1670.3,1152.9 1671.7,1171.0 1673.1,1157.9 1674.5,1166.2 1675.9,1192.5 1677.3,1191.0 1678.7,1182.4 1680.1,1249.9 1681.5,1174.0 1682.9,1185.1 1684.3,1175.1 1685.8,1170.1 1687.2,1202.2 1688.6,1178.4 1690.0,1186.6 1691.4,1196.9 1692.8,1196.2 1694.2,1201.3 1695.6,1198.4 1697.0,1214.7 1698.4,1210.2 1699.8,1218.5 1701.2,1216.1 1702.6,1212.9 1704.0,1216.0 1705.4,1218.0 1706.8,1224.6 1708.2,1219.7 1709.7,1220.4 1711.1,1222.4 1712.5,1224.3 1713.9,1226.0 1715.3,1214.0 1716.7,1230.3 1718.1,1228.5 1719.5,1230.4 1720.9,1223.7 1722.3,1225.6 1723.7,1225.4 1725.1,1228.7 1726.5,1230.4 1727.9,1230.7 1729.3,1229.8 1730.7,1228.0 1732.1,1230.0 1733.6,1234.0 1735.0,1236.2 1736.4,1229.3 1737.8,1237.0 1739.2,1235.7 1740.6,1241.1 1742.0,1236.7 1743.4,1229.2 1744.8,1230.4 1746.2,1238.1 1747.6,1231.7 1749.0,1238.7 1750.4,1244.2 1751.8,1230.0 1753.2,1232.6 1754.6,1238.3 1756.0,1235.2 1757.5,1235.5 1758.9,1229.0 1760.3,1240.9 1761.7,1235.5 1763.1,1230.4 1764.5,1225.3 1765.9,1233.2 1767.3,1235.0 1768.7,1229.5 1770.1,1238.0 1771.5,1236.7 1772.9,1229.4 1774.3,1236.9 1775.7,1231.3 1777.1,1230.0 1778.5,1228.0 1779.9,1228.9 1781.4,1223.1 1782.8,1223.7 1784.2,1222.3 1785.6,1213.9 1787.0,1212.7 1788.4,1218.4 1789.8,1218.9 1791.2,1218.1 1792.6,1227.2 1794.0,1217.9 1795.4,1211.4 1796.8,1218.3 1798.2,1208.5 1799.6,1211.0 1801.0,1204.8 1802.4,1198.5 1803.8,1195.7 1805.3,1197.0 1806.7,1175.1 1808.1,1165.5 1809.5,1169.6 1810.9,1177.5 1812.3,1172.3 1813.7,1169.7 1815.1,1173.5 1816.5,1158.8 1817.9,1177.5 1819.3,1170.0 1820.7,1196.5 1822.1,1173.2 1823.5,1165.8 1824.9,1171.4 1826.3,1157.8 1827.7,1183.1 1829.1,1168.2 1830.6,1172.5 1832.0,1165.7 1833.4,1165.7 1834.8,1179.4 1836.2,1185.7 1837.6,1163.1 1839.0,1157.7 1840.4,1167.4 1841.8,1176.6 1843.2,1145.7 1844.6,1170.2 1846.0,1140.3 1847.4,1171.5 1848.8,1164.8 1850.2,1189.9 1851.6,1166.2 1853.0,1182.3 1854.5,1174.2 1855.9,1129.8 1857.3,1222.1 1858.7,1161.6 1860.1,1153.6 1861.5,1185.0 1862.9,1152.8 1864.3,1157.4 1865.7,1147.9 1867.1,1136.8 1868.5,1131.3 1869.9,1113.5 1871.3,1180.1 1872.7,1131.8 1874.1,1150.7 1875.5,1135.5 1876.9,1147.2 1878.4,1156.7 1879.8,1177.1 1881.2,1177.7 1882.6,1163.2 1884.0,1186.9 1885.4,1171.9 1886.8,1191.7 1888.2,1175.2 1889.6,1179.0 1891.0,1174.5 1892.4,1191.6 1893.8,1190.0 1895.2,1178.2 1896.6,1184.9 1898.0,1183.6 1899.4,1189.6 1900.8,1194.3 1902.3,1208.1 1903.7,1220.4 1905.1,1200.5 1906.5,1195.9 1907.9,1211.2 1909.3,1206.7 1910.7,1207.1 1912.1,1205.7 1913.5,1212.5 1914.9,1212.9 1916.3,1210.9 1917.7,1210.3" fill="none" stroke="#167a28" stroke-width="2" stroke-linejoin="round" marker-start="url(#mT)" marker-mid="url(#mT)" marker-end="url(#mT)"/>
<polyline points="1259.8,1130.5 1261.2,1214.8 1262.6,1195.3 1264.0,1149.5 1265.4,1120.8 1266.8,1129.7 1268.2,1193.2 1269.6,1168.0 1271.0,1181.3 1272.4,1196.3 1273.8,1139.8 1275.3,1192.0 1276.7,1148.1 1278.1,1136.0 1279.5,1160.6 1280.9,1148.1 1282.3,1170.2 1283.7,1161.0 1285.1,1136.0 1286.5,1194.0 1287.9,1166.5 1289.3,1177.5 1290.7,1188.2 1292.1,1158.0 1293.5,1121.4 1294.9,1168.7 1296.3,1146.5 1297.7,1155.8 1299.2,1160.6 1300.6,1127.8 1302.0,1221.3 1303.4,1152.5 1304.8,1169.6 1306.2,1201.6 1307.6,1120.0 1309.0,1211.6 1310.4,1199.6 1311.8,1152.4 1313.2,1150.6 1314.6,1147.5 1316.0,1187.1 1317.4,1143.1 1318.8,1235.2 1320.2,1189.2 1321.6,1173.0 1323.0,1225.6 1324.5,1152.9 1325.9,1177.0 1327.3,1164.9 1328.7,1159.7 1330.1,1168.3 1331.5,1153.0 1332.9,1156.5 1334.3,1154.9 1335.7,1169.5 1337.1,1154.8 1338.5,1167.4 1339.9,1161.7 1341.3,1161.0 1342.7,1173.2 1344.1,1211.6 1345.5,1204.8 1346.9,1183.3 1348.4,1237.6 1349.8,1198.4 1351.2,1202.0 1352.6,1210.1 1354.0,1189.9 1355.4,1213.6 1356.8,1207.1 1358.2,1200.0 1359.6,1206.2 1361.0,1205.9 1362.4,1208.0 1363.8,1211.5 1365.2,1209.3 1366.6,1219.7 1368.0,1221.9 1369.4,1208.7 1370.8,1219.7 1372.3,1221.0 1373.7,1217.3 1375.1,1215.0 1376.5,1215.0 1377.9,1213.9 1379.3,1215.6 1380.7,1215.7 1382.1,1212.9 1383.5,1224.3 1384.9,1220.2 1386.3,1217.2 1387.7,1217.5 1389.1,1216.0 1390.5,1214.1 1391.9,1218.0 1393.3,1211.1 1394.7,1220.8 1396.2,1220.0 1397.6,1222.5 1399.0,1211.5 1400.4,1226.8 1401.8,1213.1 1403.2,1213.0 1404.6,1210.8 1406.0,1209.3 1407.4,1207.2 1408.8,1203.0 1410.2,1218.5 1411.6,1208.9 1413.0,1188.2 1414.4,1186.5 1415.8,1177.9 1417.2,1185.6 1418.6,1210.8 1420.1,1221.3 1421.5,1167.6 1422.9,1189.7 1424.3,1152.3 1425.7,1158.4 1427.1,1154.6 1428.5,1149.6 1429.9,1185.1 1431.3,1126.9 1432.7,1174.6 1434.1,1127.1 1435.5,1135.3 1436.9,1130.9 1438.3,1144.5 1439.7,1127.4 1441.1,1110.2 1442.5,1114.3 1444.0,1175.2 1445.4,1127.0 1446.8,1128.1 1448.2,1147.0 1449.6,1152.1 1451.0,1142.0 1452.4,1137.9 1453.8,1163.6 1455.2,1180.5 1456.6,1150.4 1458.0,1138.8 1459.4,1143.8 1460.8,1202.5 1462.2,1149.4 1463.6,1145.7 1465.0,1136.1 1466.4,1137.7 1467.9,1195.4 1469.3,1112.7 1470.7,1129.2 1472.1,1130.9 1473.5,1184.4 1474.9,1140.4 1476.3,1131.0 1477.7,1138.1 1479.1,1153.2 1480.5,1142.3 1481.9,1155.9 1483.3,1198.4 1484.7,1153.9 1486.1,1157.9 1487.5,1163.5 1488.9,1153.1 1490.3,1181.5 1491.7,1208.5 1493.2,1155.7 1494.6,1174.2 1496.0,1177.7 1497.4,1170.8 1498.8,1175.0 1500.2,1173.3 1501.6,1176.2 1503.0,1182.3 1504.4,1179.4 1505.8,1199.6 1507.2,1197.2 1508.6,1183.8 1510.0,1218.5 1511.4,1193.2 1512.8,1192.4 1514.2,1193.3 1515.6,1198.4 1517.1,1207.0 1518.5,1219.0 1519.9,1210.7 1521.3,1211.2 1522.7,1207.1 1524.1,1211.8 1525.5,1208.4 1526.9,1210.8 1528.3,1218.1 1529.7,1220.4 1531.1,1220.6 1532.5,1222.4 1533.9,1223.2 1535.3,1222.5 1536.7,1222.6 1538.1,1218.7 1539.5,1227.7 1541.0,1216.1 1542.4,1220.6 1543.8,1220.1 1545.2,1220.3 1546.6,1216.4 1548.0,1212.6 1549.4,1221.9 1550.8,1222.0 1552.2,1222.3 1553.6,1219.3 1555.0,1223.0 1556.4,1227.0 1557.8,1221.0 1559.2,1218.5 1560.6,1220.0 1562.0,1219.0 1563.4,1221.3 1564.9,1221.3 1566.3,1224.5 1567.7,1216.3 1569.1,1213.5 1570.5,1210.4 1571.9,1206.9 1573.3,1201.0 1574.7,1203.3 1576.1,1200.3 1577.5,1203.0 1578.9,1194.6 1580.3,1185.4 1581.7,1182.3 1583.1,1177.0 1584.5,1173.0 1585.9,1172.4 1587.3,1183.6 1588.8,1159.4 1590.2,1169.8 1591.6,1169.1 1593.0,1155.3 1594.4,1153.7 1595.8,1153.5 1597.2,1170.2 1598.6,1167.2 1600.0,1155.9 1601.4,1164.8 1602.8,1152.2 1604.2,1147.9 1605.6,1172.7 1607.0,1147.8 1608.4,1140.1 1609.8,1169.9 1611.2,1169.7 1612.7,1138.9 1614.1,1138.4 1615.5,1176.1 1616.9,1143.6 1618.3,1146.6 1619.7,1161.6 1621.1,1140.6 1622.5,1185.9 1623.9,1179.2 1625.3,1129.1 1626.7,1176.5 1628.1,1148.2 1629.5,1124.0 1630.9,1147.1 1632.3,1130.3 1633.7,1129.7 1635.1,1167.2 1636.6,1132.3 1638.0,1161.4 1639.4,1135.6 1640.8,1161.4 1642.2,1118.3 1643.6,1149.9 1645.0,1127.6 1646.4,1134.3 1647.8,1115.1 1649.2,1158.5 1650.6,1152.7 1652.0,1178.4 1653.4,1126.1 1654.8,1155.7 1656.2,1162.3 1657.6,1164.5 1659.0,1156.6 1660.4,1151.0 1661.9,1150.3 1663.3,1154.6 1664.7,1156.9 1666.1,1172.7 1667.5,1184.8 1668.9,1151.1 1670.3,1153.6 1671.7,1170.4 1673.1,1156.4 1674.5,1164.7 1675.9,1177.7 1677.3,1186.7 1678.7,1176.0 1680.1,1236.8 1681.5,1169.6 1682.9,1176.3 1684.3,1174.9 1685.8,1170.1 1687.2,1198.6 1688.6,1178.2 1690.0,1185.4 1691.4,1192.0 1692.8,1193.2 1694.2,1200.0 1695.6,1195.6 1697.0,1214.5 1698.4,1199.7 1699.8,1208.7 1701.2,1208.4 1702.6,1207.5 1704.0,1207.0 1705.4,1210.1 1706.8,1219.3 1708.2,1212.7 1709.7,1212.1 1711.1,1217.3 1712.5,1214.0 1713.9,1213.9 1715.3,1209.7 1716.7,1215.0 1718.1,1221.0 1719.5,1221.2 1720.9,1214.5 1722.3,1222.2 1723.7,1218.8 1725.1,1219.9 1726.5,1219.8 1727.9,1222.8 1729.3,1219.7 1730.7,1221.4 1732.1,1229.1 1733.6,1222.4 1735.0,1230.2 1736.4,1221.6 1737.8,1229.5 1739.2,1227.0 1740.6,1228.6 1742.0,1228.7 1743.4,1224.3 1744.8,1226.2 1746.2,1228.3 1747.6,1222.3 1749.0,1230.2 1750.4,1232.9 1751.8,1227.6 1753.2,1224.6 1754.6,1230.8 1756.0,1228.1 1757.5,1226.4 1758.9,1220.6 1760.3,1226.3 1761.7,1230.8 1763.1,1225.9 1764.5,1220.6 1765.9,1226.3 1767.3,1230.5 1768.7,1223.7 1770.1,1226.8 1771.5,1229.9 1772.9,1223.9 1774.3,1227.0 1775.7,1217.4 1777.1,1223.4 1778.5,1219.6 1779.9,1216.3 1781.4,1214.2 1782.8,1212.8 1784.2,1212.9 1785.6,1208.9 1787.0,1206.7 1788.4,1210.3 1789.8,1206.2 1791.2,1207.1 1792.6,1213.2 1794.0,1205.5 1795.4,1205.1 1796.8,1209.4 1798.2,1200.8 1799.6,1204.7 1801.0,1195.3 1802.4,1190.5 1803.8,1198.3 1805.3,1193.1 1806.7,1172.9 1808.1,1165.8 1809.5,1172.2 1810.9,1174.2 1812.3,1170.8 1813.7,1171.9 1815.1,1171.6 1816.5,1161.0 1817.9,1174.8 1819.3,1167.7 1820.7,1202.5 1822.1,1168.4 1823.5,1164.5 1824.9,1165.8 1826.3,1156.2 1827.7,1181.6 1829.1,1171.2 1830.6,1169.5 1832.0,1157.7 1833.4,1169.2 1834.8,1175.9 1836.2,1182.2 1837.6,1161.3 1839.0,1157.3 1840.4,1167.5 1841.8,1172.3 1843.2,1151.8 1844.6,1168.3 1846.0,1138.0 1847.4,1166.3 1848.8,1167.4 1850.2,1186.4 1851.6,1160.5 1853.0,1176.0 1854.5,1172.3 1855.9,1164.3 1857.3,1152.2 1858.7,1159.2 1860.1,1149.9 1861.5,1181.8 1862.9,1153.2 1864.3,1159.1 1865.7,1144.7 1867.1,1139.3 1868.5,1137.3 1869.9,1126.5 1871.3,1180.4 1872.7,1147.2 1874.1,1159.1 1875.5,1153.1 1876.9,1164.4 1878.4,1165.6 1879.8,1191.9 1881.2,1191.6 1882.6,1181.1 1884.0,1204.3 1885.4,1194.2 1886.8,1207.4 1888.2,1198.4 1889.6,1203.8 1891.0,1204.3 1892.4,1215.0 1893.8,1210.6 1895.2,1205.7 1896.6,1207.7 1898.0,1207.8 1899.4,1217.7 1900.8,1211.6 1902.3,1225.3 1903.7,1240.9 1905.1,1214.7 1906.5,1213.8 1907.9,1224.8 1909.3,1219.4 1910.7,1223.4 1912.1,1217.8 1913.5,1223.6 1914.9,1225.7 1916.3,1218.1 1917.7,1222.4 1919.1,1222.0 1920.5,1222.5 1921.9,1222.2 1923.3,1221.5 1924.7,1221.8 1926.2,1223.2 1927.6,1222.7 1929.0,1224.1 1930.4,1231.2 1931.8,1228.6 1933.2,1224.3 1934.6,1230.2 1936.0,1227.5 1937.4,1230.8 1938.8,1226.7 1940.2,1230.8" fill="none" stroke="#ef722f" stroke-width="2.2" stroke-linejoin="round" marker-start="url(#mC)" marker-mid="url(#mC)" marker-end="url(#mC)"/>
</g>
<path d="M1194.5 992.6H2038V1319.3" stroke="#505050" stroke-width="1.5" fill="none"/>
<path d="M1194.5 992.6V1319.3M1194.5 1319.3H2038M1186.5 1319.3H1194.5M1186.5 1237.6H1194.5M1186.5 1156H1194.5M1186.5 1074.3H1194.5M1186.5 992.6H1194.5M1194.5 1319.3V1327.3M1211.4 1313.3V1319.3M1228.2 1313.3V1319.3M1245.1 1313.3V1319.3M1262 1313.3V1319.3M1278.8 1319.3V1327.3M1295.7 1313.3V1319.3M1312.6 1313.3V1319.3M1329.5 1313.3V1319.3M1346.3 1313.3V1319.3M1363.2 1319.3V1327.3M1380.1 1313.3V1319.3M1396.9 1313.3V1319.3M1413.8 1313.3V1319.3M1430.7 1313.3V1319.3M1447.5 1319.3V1327.3M1464.4 1313.3V1319.3M1481.3 1313.3V1319.3M1498.2 1313.3V1319.3M1515 1313.3V1319.3M1531.9 1319.3V1327.3M1548.8 1313.3V1319.3M1565.6 1313.3V1319.3M1582.5 1313.3V1319.3M1599.4 1313.3V1319.3M1616.2 1319.3V1327.3M1633.1 1313.3V1319.3M1650 1313.3V1319.3M1666.9 1313.3V1319.3M1683.7 1313.3V1319.3M1700.6 1319.3V1327.3M1717.5 1313.3V1319.3M1734.3 1313.3V1319.3M1751.2 1313.3V1319.3M1768.1 1313.3V1319.3M1785 1319.3V1327.3M1801.8 1313.3V1319.3M1818.7 1313.3V1319.3M1835.6 1313.3V1319.3M1852.4 1313.3V1319.3M1869.3 1319.3V1327.3M1886.2 1313.3V1319.3M1903 1313.3V1319.3M1919.9 1313.3V1319.3M1936.8 1313.3V1319.3M1953.7 1319.3V1327.3M1970.5 1313.3V1319.3M1987.4 1313.3V1319.3M2004.3 1313.3V1319.3M2021.1 1313.3V1319.3M2038 1319.3V1327.3" stroke="#333" stroke-width="1.6" fill="none"/>
<text x="1194.5" y="1360.8" text-anchor="middle" class="tk">1975</text>
<text x="1278.8" y="1360.8" text-anchor="middle" class="tk">1980</text>
<text x="1363.2" y="1360.8" text-anchor="middle" class="tk">1985</text>
<text x="1447.5" y="1360.8" text-anchor="middle" class="tk">1990</text>
<text x="1531.9" y="1360.8" text-anchor="middle" class="tk">1995</text>
<text x="1616.2" y="1360.8" text-anchor="middle" class="tk">2000</text>
<text x="1700.6" y="1360.8" text-anchor="middle" class="tk">2005</text>
<text x="1785" y="1360.8" text-anchor="middle" class="tk">2010</text>
<text x="1869.3" y="1360.8" text-anchor="middle" class="tk">2015</text>
<text x="1953.7" y="1360.8" text-anchor="middle" class="tk">2020</text>
<text x="2038" y="1360.8" text-anchor="middle" class="tk">2025</text>
<text x="1171" y="1328.8" text-anchor="end" class="tk">1362</text>
<text x="1171" y="1247.1" text-anchor="end" class="tk">1363</text>
<text x="1171" y="1165.5" text-anchor="end" class="tk">1364</text>
<text x="1171" y="1083.8" text-anchor="end" class="tk">1365</text>
<text x="1171" y="1002.1" text-anchor="end" class="tk">1366</text>
<text x="1200" y="979.5" class="pl">(f) Group F</text>
<text transform="translate(1099.5 1156) rotate(-90)" text-anchor="middle" class="yl">TSI at 1au (W m<tspan dy="-10" font-size="19">-2</tspan><tspan dy="10">)</tspan></text>
<path d="M377 1438.5H409" stroke="#7f7f7f" stroke-width="3"/>
<text x="410" y="1447.5" class="lg">Composite group</text>
<path d="M687 1440.5H718" stroke="#1f9ad8" stroke-width="2"/>
<rect x="699" y="1437.5" width="6" height="6" fill="#bde0f5" stroke="#45aee6" stroke-width="1"/>
<text x="719.5" y="1450" class="lg">EMPIRE with offset</text>
<path d="M1047.5 1439H1078" stroke="#137a1e" stroke-width="2"/>
<path d="M1062.8 1435.5L1067.3 1443.5H1058.3Z" fill="#b8e8c0" stroke="#3a9a4a" stroke-width="1"/>
<text x="1080.5" y="1447.5" class="lg">Gueymard (2018) with offset</text>
<path d="M1542.7 1439H1573" stroke="#ed7d31" stroke-width="2"/>
<circle cx="1557.5" cy="1439" r="3" fill="#fbe0d0" stroke="#f09070" stroke-width="1"/>
<text x="1574.5" y="1447.5" class="lg">NN-SIM with offset</text>
</svg>
</body></html>
